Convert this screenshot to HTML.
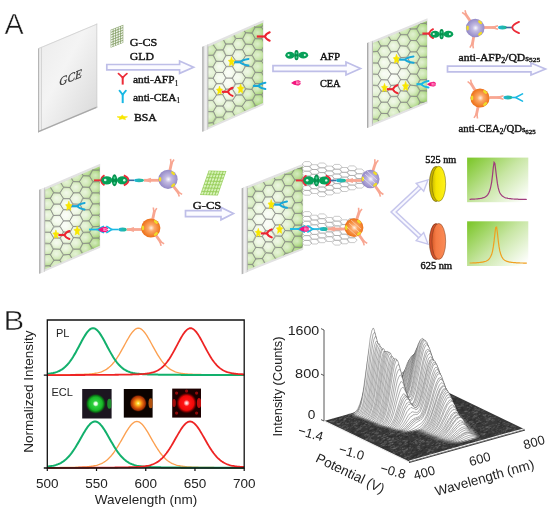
<!DOCTYPE html>
<html><head><meta charset="utf-8"><title>Figure</title>
<style>html,body{margin:0;padding:0;background:#fff;} svg{display:block;}</style></head>
<body><svg width="550" height="510" viewBox="0 0 550 510">
<defs>
<linearGradient id="gceFace" x1="0" y1="0" x2="1" y2="1">
 <stop offset="0" stop-color="#ededed"/><stop offset="0.4" stop-color="#f4f4f4"/><stop offset="1" stop-color="#dcdcdc"/>
</linearGradient>
<linearGradient id="edgeL" x1="0" y1="0" x2="1" y2="0">
 <stop offset="0" stop-color="#8a8a8a"/><stop offset="0.2" stop-color="#cdcdcd"/><stop offset="0.45" stop-color="#f2f2f2"/><stop offset="0.8" stop-color="#e8e8e8"/><stop offset="1" stop-color="#bcbcbc"/>
</linearGradient>
<radialGradient id="greenFace" cx="0.38" cy="0.5" r="0.75" fx="0.35" fy="0.5">
 <stop offset="0" stop-color="#f6fbf0"/><stop offset="0.35" stop-color="#e2f1d2"/><stop offset="0.7" stop-color="#bfe09c"/><stop offset="1" stop-color="#96cc62"/>
</radialGradient>
<radialGradient id="cellG" cx="0.45" cy="0.45" r="0.55">
 <stop offset="0" stop-color="#ffffff" stop-opacity="0.95"/><stop offset="0.5" stop-color="#ffffff" stop-opacity="0.55"/><stop offset="1" stop-color="#ffffff" stop-opacity="0"/>
</radialGradient>
<radialGradient id="qdP" cx="0.52" cy="0.5" r="0.55">
 <stop offset="0" stop-color="#fafaff"/><stop offset="0.3" stop-color="#c4bce2"/><stop offset="0.8" stop-color="#9c92cc"/><stop offset="1" stop-color="#8a80c0"/>
</radialGradient>
<radialGradient id="qdO" cx="0.52" cy="0.5" r="0.55">
 <stop offset="0" stop-color="#fff0e0"/><stop offset="0.3" stop-color="#fca868"/><stop offset="0.8" stop-color="#f07a24"/><stop offset="1" stop-color="#e86818"/>
</radialGradient>
<linearGradient id="specG" x1="0" y1="0.1" x2="1" y2="0.9">
 <stop offset="0" stop-color="#80c830"/><stop offset="0.5" stop-color="#c8e6a4"/><stop offset="1" stop-color="#ffffff"/>
</linearGradient>
<linearGradient id="tealG" x1="0" y1="0" x2="1" y2="0">
 <stop offset="0" stop-color="#20b4d8"/><stop offset="1" stop-color="#20b890"/>
</linearGradient>
<linearGradient id="yelF" x1="0" y1="0" x2="1" y2="0">
 <stop offset="0" stop-color="#c8b800"/><stop offset="0.3" stop-color="#f4e400"/><stop offset="1" stop-color="#fff21c"/>
</linearGradient>
<linearGradient id="orF" x1="0" y1="0" x2="1" y2="0">
 <stop offset="0" stop-color="#d85a28"/><stop offset="0.3" stop-color="#f47a44"/><stop offset="1" stop-color="#fb8c58"/>
</linearGradient>

<radialGradient id="insG" cx="0.46" cy="0.5" r="0.5">
 <stop offset="0" stop-color="#ffffff"/><stop offset="0.1" stop-color="#e0ffe0"/><stop offset="0.2" stop-color="#30d040"/><stop offset="0.45" stop-color="#18b828"/><stop offset="0.58" stop-color="#0a6a14"/><stop offset="0.7" stop-color="#1c1620" stop-opacity="0"/>
</radialGradient>
<radialGradient id="insO" cx="0.5" cy="0.5" r="0.5">
 <stop offset="0" stop-color="#ffffc0"/><stop offset="0.1" stop-color="#ffd830"/><stop offset="0.26" stop-color="#f08010"/><stop offset="0.4" stop-color="#c84a08"/><stop offset="0.5" stop-color="#a03004"/><stop offset="0.62" stop-color="#100400" stop-opacity="0"/>
</radialGradient>
<radialGradient id="insR" cx="0.5" cy="0.5" r="0.5">
 <stop offset="0" stop-color="#ffffff"/><stop offset="0.1" stop-color="#ffb0b0"/><stop offset="0.22" stop-color="#ff1414"/><stop offset="0.5" stop-color="#f00808"/><stop offset="0.62" stop-color="#700000"/><stop offset="0.75" stop-color="#200000" stop-opacity="0"/>
</radialGradient>
</defs>
<rect width="550" height="510" fill="#fff"/>
<text x="4.4" y="33.5" style="font-family:'Liberation Sans',sans-serif;font-size:29.5px" fill="#1a1a1a" stroke="#fff" stroke-width="0.55" textLength="19.2" lengthAdjust="spacingAndGlyphs">A</text>
<text x="3.4" y="330" style="font-family:'Liberation Sans',sans-serif;font-size:28.5px" fill="#1a1a1a" stroke="#fff" stroke-width="0.55" textLength="20.8" lengthAdjust="spacingAndGlyphs">B</text>
<path d="M106.8,64.5 L179.6,64.5 L179.6,61 L193.6,67.2 L179.6,73.4 L179.6,69.9 L106.8,69.9Z" fill="#fbfbff" stroke="#bebee8" stroke-width="1.7" stroke-linejoin="miter"/>
<path d="M273,65.6 L346,65.6 L346,62 L360.5,68.5 L346,75 L346,71.4 L273,71.4Z" fill="#fbfbff" stroke="#bebee8" stroke-width="1.7" stroke-linejoin="miter"/>
<path d="M447.5,66.1 L531,66.1 L531,63 L545.5,69 L531,75 L531,71.9 L447.5,71.9Z" fill="#fbfbff" stroke="#bebee8" stroke-width="1.7" stroke-linejoin="miter"/>
<path d="M185.5,210.6 L221,210.6 L221,207.4 L233.5,213.6 L221,219.8 L221,216.6 L185.5,216.6Z" fill="#fbfbff" stroke="#bebee8" stroke-width="1.7" stroke-linejoin="miter"/>
<g transform="matrix(1,-0.42,0,1,38.2,48.3)">
<rect x="0" y="0" width="59" height="84.2" fill="url(#gceFace)"/>
<rect x="0" y="0" width="3.6" height="84.2" fill="url(#edgeL)"/>
<rect x="0" y="82.8" width="59" height="1.4" fill="#a8a8a8"/>
<rect x="0" y="0" width="59" height="0.9" fill="#d4d4d4"/>
<rect x="58.2" y="0" width="0.8" height="84.2" fill="#d0d0d0"/>
</g>
<text transform="matrix(1,-0.4,0,1,70.6,81.4)" text-anchor="middle" style="font-family:'Liberation Serif',serif;font-style:italic;font-size:12px" fill="#404040" stroke="#404040" stroke-width="0.3" textLength="22.5" lengthAdjust="spacingAndGlyphs">GCE</text>
<g transform="matrix(1,-0.44,0,1,202.5,46.8)">
<rect x="0" y="0" width="61" height="85" fill="#e2e2e2"/>
<rect x="5.6" y="2.6" width="54.8" height="80.2" fill="url(#greenFace)"/>
</g>
<clipPath id="p2c"><path d="M208.1,46.9 L262.9,22.8 L262.9,103 L208.1,127.1Z"/></clipPath>
<g clip-path="url(#p2c)">
<path d="M216.2,38.2 L212.9,43.8 L206.2,44.1 L203.3,38.5 L206.2,32.6 L213.4,33Z" fill="url(#cellG)" opacity="0.59"/><path d="M216.6,49.4 L213,55.2 L206.6,55.5 L203.6,49.9 L206.7,43.9 L212.7,44.6Z" fill="url(#cellG)" opacity="0.62"/><path d="M216.1,61.1 L212.9,66.8 L206.3,66.8 L203.7,61.2 L207,55.3 L213.2,55.2Z" fill="url(#cellG)" opacity="0.66"/><path d="M215.9,72.5 L213.2,78.3 L206.8,77.9 L203.3,72.6 L206.5,66.7 L213.1,67.1Z" fill="url(#cellG)" opacity="0.7"/><path d="M216.8,83.4 L213.1,88.7 L206.4,88.8 L203.8,83.3 L206.6,78.4 L212.9,78.2Z" fill="url(#cellG)" opacity="0.71"/><path d="M216.7,95.1 L212.9,100.2 L206.9,100.3 L203.3,94.6 L206.7,89.1 L212.8,89.4Z" fill="url(#cellG)" opacity="0.69"/><path d="M216.7,106.2 L213.1,111.8 L207,111.7 L203.4,106 L206.3,100.7 L212.6,100.5Z" fill="url(#cellG)" opacity="0.65"/><path d="M216,117 L212.6,122.4 L206.3,123.2 L203,117.2 L206.5,111.5 L213.5,111.6Z" fill="url(#cellG)" opacity="0.61"/><path d="M215.9,128.3 L212.8,134.4 L206.3,134.4 L203.1,128.6 L206.8,123.6 L213.3,122.7Z" fill="url(#cellG)" opacity="0.58"/><path d="M225.7,33.1 L223,38.4 L216.7,38.7 L213.2,33.2 L216.1,27.2 L222.4,27Z" fill="url(#cellG)" opacity="0.61"/><path d="M225.7,44.3 L222.9,50.3 L216.6,49.9 L213.1,43.9 L216.5,39.1 L222.9,38.6Z" fill="url(#cellG)" opacity="0.66"/><path d="M225.8,55.6 L223.1,61.4 L216.1,61.2 L213.5,55.8 L216.3,50.3 L222.6,49.5Z" fill="url(#cellG)" opacity="0.73"/><path d="M226.2,66.9 L223,72.5 L216.2,72.4 L212.9,67.1 L216.3,61.4 L223.1,61.4Z" fill="url(#cellG)" opacity="0.79"/><path d="M225.7,77.8 L222.8,83.2 L216.1,83.8 L213.2,78 L216.2,72.5 L222.8,72.4Z" fill="url(#cellG)" opacity="0.82"/><path d="M225.7,89 L222.9,94.3 L216.5,94.8 L213.2,89.2 L216,83.6 L222.5,84Z" fill="url(#cellG)" opacity="0.79"/><path d="M226.1,100.7 L222.9,106.3 L216.4,106.2 L213.2,100.4 L216.4,95 L222.7,94.7Z" fill="url(#cellG)" opacity="0.73"/><path d="M226.5,111.4 L222.6,116.8 L216.1,117.3 L213.3,111.4 L216.4,105.8 L223.3,105.8Z" fill="url(#cellG)" opacity="0.66"/><path d="M226.2,123 L223.2,128.5 L216.4,128.4 L213.2,123.2 L216.5,117.6 L222.5,117.7Z" fill="url(#cellG)" opacity="0.6"/><path d="M235.4,38.9 L233,43.9 L225.8,44.2 L222.7,38.5 L226.3,32.6 L232.8,33.2Z" fill="url(#cellG)" opacity="0.67"/><path d="M235.5,49.4 L232.5,55.1 L226.1,55.8 L223.4,49.5 L226,43.9 L232.9,44Z" fill="url(#cellG)" opacity="0.74"/><path d="M235.6,60.8 L232.2,66.1 L226,66.3 L222.6,61.1 L226.1,55.2 L232.1,55.8Z" fill="url(#cellG)" opacity="0.81"/><path d="M235.5,72.3 L232.3,78.3 L226.1,78.1 L222.9,72.5 L225.9,66.8 L232.7,66.6Z" fill="url(#cellG)" opacity="0.85"/><path d="M235.3,83.3 L232.6,88.8 L225.9,89.3 L222.8,83.4 L226,78.1 L232.4,78Z" fill="url(#cellG)" opacity="0.82"/><path d="M236.4,94.9 L232.8,100.1 L225.7,100.2 L222.9,94.6 L225.7,89.1 L232.4,89.1Z" fill="url(#cellG)" opacity="0.76"/><path d="M235.4,105.9 L232.6,111.9 L226.2,112 L222.8,106.5 L226.4,100.8 L232.7,101Z" fill="url(#cellG)" opacity="0.68"/><path d="M236,117.6 L232.5,122.8 L226.3,123.3 L223.2,117.5 L225.8,111.3 L232.3,111.6Z" fill="url(#cellG)" opacity="0.62"/><path d="M245.7,33 L242.5,38.5 L236.2,38.5 L232.7,33 L236.2,27.3 L242,27.7Z" fill="url(#cellG)" opacity="0.63"/><path d="M245.5,44.6 L242.2,49.7 L236,49.9 L232.2,43.9 L236.1,38.6 L241.9,38.2Z" fill="url(#cellG)" opacity="0.68"/><path d="M245.5,55.6 L242.2,61.1 L235.8,60.7 L232.2,55.8 L235.4,49.6 L242.7,49.7Z" fill="url(#cellG)" opacity="0.74"/><path d="M245.2,67 L242.3,71.8 L236.2,72 L232.5,67 L235.6,61.3 L241.9,60.7Z" fill="url(#cellG)" opacity="0.76"/><path d="M245.5,77.8 L242.1,83.2 L235.4,83.9 L232.2,78.3 L236.1,72.1 L242.2,72.8Z" fill="url(#cellG)" opacity="0.75"/><path d="M245.4,89.1 L241.9,94.4 L235.6,95.3 L232.6,89.2 L235.8,84.1 L242.6,83.6Z" fill="url(#cellG)" opacity="0.71"/><path d="M246.1,100.5 L242,106.3 L236.1,106.1 L232.4,100.8 L235.9,94.9 L242.4,95.4Z" fill="url(#cellG)" opacity="0.65"/><path d="M245.5,111.6 L242.2,117.1 L235.7,117.5 L232.4,112 L235.7,105.6 L241.9,106.2Z" fill="url(#cellG)" opacity="0.6"/><path d="M254.8,27.1 L252.4,33.1 L245.6,32.8 L242.3,26.9 L246,21.5 L252.1,22Z" fill="url(#cellG)" opacity="0.58"/><path d="M254.9,38.3 L252,44.4 L245.8,43.9 L242.8,38.9 L245.7,32.6 L252.4,33.3Z" fill="url(#cellG)" opacity="0.61"/><path d="M255.8,49.6 L251.7,55.2 L245.9,55.6 L242.5,49.8 L245.2,44.4 L252.3,44.5Z" fill="url(#cellG)" opacity="0.64"/><path d="M254.9,60.9 L252.2,66.4 L245.7,66.5 L242.2,61.1 L245.6,55.7 L252.3,55.6Z" fill="url(#cellG)" opacity="0.65"/><path d="M255,72.1 L252.3,77.9 L245.7,77.8 L242.2,72.5 L245.3,66.2 L251.9,67Z" fill="url(#cellG)" opacity="0.65"/><path d="M255.3,83.8 L251.8,89.5 L245.9,88.8 L242.7,83.4 L245.5,77.5 L251.9,78.3Z" fill="url(#cellG)" opacity="0.63"/><path d="M255.2,94.7 L252.3,100 L245.4,100.1 L242.5,95 L245.8,88.9 L252.3,89.6Z" fill="url(#cellG)" opacity="0.6"/><path d="M255.1,106 L251.9,111.3 L245.6,111.3 L241.9,106.5 L245.6,100.9 L252.1,100Z" fill="url(#cellG)" opacity="0.58"/><path d="M255.1,117.7 L251.9,123.1 L245.7,123 L241.9,117 L246.1,111.8 L252.4,111.5Z" fill="url(#cellG)" opacity="0.56"/><path d="M265.3,21.7 L261.9,27 L255,27.3 L252,22 L255.3,16.3 L262.3,15.8Z" fill="url(#cellG)" opacity="0.56"/><path d="M264.8,32.9 L261.6,38.9 L255.6,38.8 L251.9,32.8 L255.6,27.1 L261.9,27.3Z" fill="url(#cellG)" opacity="0.57"/><path d="M264.4,44.2 L262.1,50 L255,49.6 L252.3,44.3 L255.2,38.6 L262,38.7Z" fill="url(#cellG)" opacity="0.58"/><path d="M265.3,55.1 L261.7,61.2 L255.6,60.7 L252.1,55.2 L255.3,49.5 L262.2,49.9Z" fill="url(#cellG)" opacity="0.58"/><path d="M265.1,66.8 L261.6,72.5 L255.5,72.7 L252.2,66.4 L255.8,61.3 L261.8,61.2Z" fill="url(#cellG)" opacity="0.58"/><path d="M264.8,78.2 L261.6,83.8 L255.1,83.5 L252.1,77.7 L255.5,72.1 L261.5,72.7Z" fill="url(#cellG)" opacity="0.57"/><path d="M264.7,89 L261.9,94.6 L255.4,94.6 L251.7,88.9 L255.2,83.4 L262.1,83.6Z" fill="url(#cellG)" opacity="0.57"/><path d="M264.9,100.4 L262.3,106.1 L255.6,105.7 L252.7,100.4 L255.2,95.1 L261.5,94.5Z" fill="url(#cellG)" opacity="0.56"/><path d="M265.1,112 L261.8,117 L255.1,117.1 L252.5,111.4 L255.6,106.5 L261.4,106.6Z" fill="url(#cellG)" opacity="0.55"/><path d="M275,15.7 L271.6,22.1 L265.3,21.4 L261.5,15.9 L265.3,10 L271.4,10.6Z" fill="url(#cellG)" opacity="0.55"/><path d="M274.4,27.1 L271.9,32.6 L265.3,32.5 L261.4,27.4 L265.2,21.5 L271.6,21.7Z" fill="url(#cellG)" opacity="0.55"/><path d="M274.8,38.5 L271.5,43.9 L265.4,44.2 L261.7,38.5 L264.9,33.1 L271.4,33.2Z" fill="url(#cellG)" opacity="0.56"/><path d="M274.6,49.5 L271.8,55.5 L265.2,55.1 L261.4,50.1 L265.2,44.3 L271.8,44.4Z" fill="url(#cellG)" opacity="0.56"/><path d="M275.3,60.8 L272,66.4 L265.4,66.3 L261.5,61.3 L265.2,56 L271.3,55.6Z" fill="url(#cellG)" opacity="0.56"/><path d="M274.3,72.1 L271.8,77.9 L264.7,78.3 L262.1,72.4 L265.4,66.9 L271.9,66.4Z" fill="url(#cellG)" opacity="0.56"/><path d="M275.1,83.5 L271.4,89.7 L265,89.4 L261.7,83.8 L265.5,78 L272,78Z" fill="url(#cellG)" opacity="0.55"/><path d="M274.7,94.4 L271.1,100.3 L265.1,100.7 L261.9,95 L264.8,89.4 L271.3,89.2Z" fill="url(#cellG)" opacity="0.55"/><path d="M274.9,105.9 L271.6,111.4 L264.8,111.6 L262.2,106.4 L265,100.2 L271.5,100.8Z" fill="url(#cellG)" opacity="0.55"/>
<path d="M216.2,38.2 L212.9,43.8 L206.2,44.1 L203.3,38.5 L206.2,32.6 L213.4,33ZM216.6,49.4 L213,55.2 L206.6,55.5 L203.6,49.9 L206.7,43.9 L212.7,44.6ZM216.1,61.1 L212.9,66.8 L206.3,66.8 L203.7,61.2 L207,55.3 L213.2,55.2ZM215.9,72.5 L213.2,78.3 L206.8,77.9 L203.3,72.6 L206.5,66.7 L213.1,67.1ZM216.8,83.4 L213.1,88.7 L206.4,88.8 L203.8,83.3 L206.6,78.4 L212.9,78.2ZM216.7,95.1 L212.9,100.2 L206.9,100.3 L203.3,94.6 L206.7,89.1 L212.8,89.4ZM216.7,106.2 L213.1,111.8 L207,111.7 L203.4,106 L206.3,100.7 L212.6,100.5ZM216,117 L212.6,122.4 L206.3,123.2 L203,117.2 L206.5,111.5 L213.5,111.6ZM215.9,128.3 L212.8,134.4 L206.3,134.4 L203.1,128.6 L206.8,123.6 L213.3,122.7ZM225.7,33.1 L223,38.4 L216.7,38.7 L213.2,33.2 L216.1,27.2 L222.4,27ZM225.7,44.3 L222.9,50.3 L216.6,49.9 L213.1,43.9 L216.5,39.1 L222.9,38.6ZM225.8,55.6 L223.1,61.4 L216.1,61.2 L213.5,55.8 L216.3,50.3 L222.6,49.5ZM226.2,66.9 L223,72.5 L216.2,72.4 L212.9,67.1 L216.3,61.4 L223.1,61.4ZM225.7,77.8 L222.8,83.2 L216.1,83.8 L213.2,78 L216.2,72.5 L222.8,72.4ZM225.7,89 L222.9,94.3 L216.5,94.8 L213.2,89.2 L216,83.6 L222.5,84ZM226.1,100.7 L222.9,106.3 L216.4,106.2 L213.2,100.4 L216.4,95 L222.7,94.7ZM226.5,111.4 L222.6,116.8 L216.1,117.3 L213.3,111.4 L216.4,105.8 L223.3,105.8ZM226.2,123 L223.2,128.5 L216.4,128.4 L213.2,123.2 L216.5,117.6 L222.5,117.7ZM235.4,38.9 L233,43.9 L225.8,44.2 L222.7,38.5 L226.3,32.6 L232.8,33.2ZM235.5,49.4 L232.5,55.1 L226.1,55.8 L223.4,49.5 L226,43.9 L232.9,44ZM235.6,60.8 L232.2,66.1 L226,66.3 L222.6,61.1 L226.1,55.2 L232.1,55.8ZM235.5,72.3 L232.3,78.3 L226.1,78.1 L222.9,72.5 L225.9,66.8 L232.7,66.6ZM235.3,83.3 L232.6,88.8 L225.9,89.3 L222.8,83.4 L226,78.1 L232.4,78ZM236.4,94.9 L232.8,100.1 L225.7,100.2 L222.9,94.6 L225.7,89.1 L232.4,89.1ZM235.4,105.9 L232.6,111.9 L226.2,112 L222.8,106.5 L226.4,100.8 L232.7,101ZM236,117.6 L232.5,122.8 L226.3,123.3 L223.2,117.5 L225.8,111.3 L232.3,111.6ZM245.7,33 L242.5,38.5 L236.2,38.5 L232.7,33 L236.2,27.3 L242,27.7ZM245.5,44.6 L242.2,49.7 L236,49.9 L232.2,43.9 L236.1,38.6 L241.9,38.2ZM245.5,55.6 L242.2,61.1 L235.8,60.7 L232.2,55.8 L235.4,49.6 L242.7,49.7ZM245.2,67 L242.3,71.8 L236.2,72 L232.5,67 L235.6,61.3 L241.9,60.7ZM245.5,77.8 L242.1,83.2 L235.4,83.9 L232.2,78.3 L236.1,72.1 L242.2,72.8ZM245.4,89.1 L241.9,94.4 L235.6,95.3 L232.6,89.2 L235.8,84.1 L242.6,83.6ZM246.1,100.5 L242,106.3 L236.1,106.1 L232.4,100.8 L235.9,94.9 L242.4,95.4ZM245.5,111.6 L242.2,117.1 L235.7,117.5 L232.4,112 L235.7,105.6 L241.9,106.2ZM254.8,27.1 L252.4,33.1 L245.6,32.8 L242.3,26.9 L246,21.5 L252.1,22ZM254.9,38.3 L252,44.4 L245.8,43.9 L242.8,38.9 L245.7,32.6 L252.4,33.3ZM255.8,49.6 L251.7,55.2 L245.9,55.6 L242.5,49.8 L245.2,44.4 L252.3,44.5ZM254.9,60.9 L252.2,66.4 L245.7,66.5 L242.2,61.1 L245.6,55.7 L252.3,55.6ZM255,72.1 L252.3,77.9 L245.7,77.8 L242.2,72.5 L245.3,66.2 L251.9,67ZM255.3,83.8 L251.8,89.5 L245.9,88.8 L242.7,83.4 L245.5,77.5 L251.9,78.3ZM255.2,94.7 L252.3,100 L245.4,100.1 L242.5,95 L245.8,88.9 L252.3,89.6ZM255.1,106 L251.9,111.3 L245.6,111.3 L241.9,106.5 L245.6,100.9 L252.1,100ZM255.1,117.7 L251.9,123.1 L245.7,123 L241.9,117 L246.1,111.8 L252.4,111.5ZM265.3,21.7 L261.9,27 L255,27.3 L252,22 L255.3,16.3 L262.3,15.8ZM264.8,32.9 L261.6,38.9 L255.6,38.8 L251.9,32.8 L255.6,27.1 L261.9,27.3ZM264.4,44.2 L262.1,50 L255,49.6 L252.3,44.3 L255.2,38.6 L262,38.7ZM265.3,55.1 L261.7,61.2 L255.6,60.7 L252.1,55.2 L255.3,49.5 L262.2,49.9ZM265.1,66.8 L261.6,72.5 L255.5,72.7 L252.2,66.4 L255.8,61.3 L261.8,61.2ZM264.8,78.2 L261.6,83.8 L255.1,83.5 L252.1,77.7 L255.5,72.1 L261.5,72.7ZM264.7,89 L261.9,94.6 L255.4,94.6 L251.7,88.9 L255.2,83.4 L262.1,83.6ZM264.9,100.4 L262.3,106.1 L255.6,105.7 L252.7,100.4 L255.2,95.1 L261.5,94.5ZM265.1,112 L261.8,117 L255.1,117.1 L252.5,111.4 L255.6,106.5 L261.4,106.6ZM275,15.7 L271.6,22.1 L265.3,21.4 L261.5,15.9 L265.3,10 L271.4,10.6ZM274.4,27.1 L271.9,32.6 L265.3,32.5 L261.4,27.4 L265.2,21.5 L271.6,21.7ZM274.8,38.5 L271.5,43.9 L265.4,44.2 L261.7,38.5 L264.9,33.1 L271.4,33.2ZM274.6,49.5 L271.8,55.5 L265.2,55.1 L261.4,50.1 L265.2,44.3 L271.8,44.4ZM275.3,60.8 L272,66.4 L265.4,66.3 L261.5,61.3 L265.2,56 L271.3,55.6ZM274.3,72.1 L271.8,77.9 L264.7,78.3 L262.1,72.4 L265.4,66.9 L271.9,66.4ZM275.1,83.5 L271.4,89.7 L265,89.4 L261.7,83.8 L265.5,78 L272,78ZM274.7,94.4 L271.1,100.3 L265.1,100.7 L261.9,95 L264.8,89.4 L271.3,89.2ZM274.9,105.9 L271.6,111.4 L264.8,111.6 L262.2,106.4 L265,100.2 L271.5,100.8Z" fill="none" stroke="#858585" stroke-width="0.6"/>
</g>
<g transform="matrix(1,-0.44,0,1,202.5,46.8)">
<rect x="0" y="0" width="5.6" height="85" fill="url(#edgeL)"/>
<rect x="5.2" y="2" width="0.6" height="81" fill="#b0b0b0"/>
</g>
<g transform="matrix(1,-0.41,0,1,367.2,43)">
<rect x="0" y="0" width="60.3" height="85" fill="#e2e2e2"/>
<rect x="5.6" y="2.6" width="54.1" height="80.2" fill="url(#greenFace)"/>
</g>
<clipPath id="p3c"><path d="M372.8,43.3 L426.9,21 L426.9,101.2 L372.8,123.5Z"/></clipPath>
<g clip-path="url(#p3c)">
<path d="M381,35.1 L377.6,40.7 L371.5,40 L367.9,35 L371.5,29.7 L377.4,29.4Z" fill="url(#cellG)" opacity="0.59"/><path d="M381.1,46.3 L377.5,51.3 L371.8,51.6 L367.6,46.3 L371.2,40.5 L377.5,40.1Z" fill="url(#cellG)" opacity="0.62"/><path d="M380.5,57.1 L378,63.2 L371.1,63 L368.4,57.3 L371.5,52.2 L378,51.4Z" fill="url(#cellG)" opacity="0.66"/><path d="M380.6,68.7 L378.1,74.2 L371.1,74.1 L368,68.7 L371.7,62.8 L378,63.1Z" fill="url(#cellG)" opacity="0.7"/><path d="M381.1,79.8 L377.5,85.4 L371.8,84.9 L368,80.1 L371.1,73.9 L377.8,74.5Z" fill="url(#cellG)" opacity="0.71"/><path d="M381.3,90.7 L377.7,96.9 L371.6,96.4 L368.3,91.4 L371.2,85.3 L377.9,85.9Z" fill="url(#cellG)" opacity="0.69"/><path d="M381.3,102.4 L377.4,107.4 L371,107.8 L367.8,102.1 L371.6,96.7 L378.1,96.8Z" fill="url(#cellG)" opacity="0.65"/><path d="M381.3,113.2 L377.7,119.3 L371.5,119.1 L368.6,113.2 L371,107.4 L377.9,108.5Z" fill="url(#cellG)" opacity="0.61"/><path d="M380.7,124.8 L377.6,130.5 L371.6,130.1 L367.7,124.6 L371.3,118.8 L377.5,119.4Z" fill="url(#cellG)" opacity="0.58"/><path d="M391.1,40.5 L387.4,45.8 L380.7,46.4 L377.9,40.2 L381,34.5 L387.4,34.6Z" fill="url(#cellG)" opacity="0.66"/><path d="M391,51.8 L387.4,57.1 L381.4,57.2 L377.5,51.6 L381.1,45.6 L387.8,45.9Z" fill="url(#cellG)" opacity="0.73"/><path d="M390.4,63.1 L387.3,68.3 L381,68.4 L377.9,62.6 L381.1,56.8 L387.3,57Z" fill="url(#cellG)" opacity="0.79"/><path d="M391.2,74.3 L387.3,79.8 L381,79.5 L378,74.4 L381,68.6 L387.2,68.7Z" fill="url(#cellG)" opacity="0.82"/><path d="M390.9,85.7 L387.6,91.1 L380.9,91.1 L377.9,85.6 L381.1,79.8 L387.4,80Z" fill="url(#cellG)" opacity="0.79"/><path d="M390.5,96.9 L387.7,102.1 L381.1,102.3 L378.1,97 L381.3,91.5 L387.5,91.5Z" fill="url(#cellG)" opacity="0.73"/><path d="M390.5,107.6 L387.9,113.6 L381.2,113.3 L377.8,108 L381,102.1 L387.4,102.3Z" fill="url(#cellG)" opacity="0.66"/><path d="M390.9,118.9 L387.5,124.6 L381.1,124.3 L377.8,119.3 L380.9,113.5 L387.9,113.5Z" fill="url(#cellG)" opacity="0.61"/><path d="M400.6,34.7 L396.9,40.4 L390.9,40.4 L387.4,35.1 L391,29.5 L397.3,28.9Z" fill="url(#cellG)" opacity="0.66"/><path d="M400.2,46.3 L397.5,51.3 L390.7,51.5 L387.4,46.2 L390.7,40.4 L397.2,40.5Z" fill="url(#cellG)" opacity="0.74"/><path d="M400.5,57.6 L397,63.3 L391,62.7 L387.5,56.9 L391.3,52 L396.9,51.5Z" fill="url(#cellG)" opacity="0.81"/><path d="M400.6,68.4 L397.5,74.2 L391.2,74 L387.6,68.8 L391,62.6 L397.3,63.1Z" fill="url(#cellG)" opacity="0.84"/><path d="M400.8,79.8 L397,85 L390.5,85.3 L387.8,79.8 L391.1,73.8 L397.3,74.1Z" fill="url(#cellG)" opacity="0.82"/><path d="M400.8,90.9 L397.6,96.2 L390.9,96.3 L387.7,91.4 L391.3,85.5 L397.6,85.1Z" fill="url(#cellG)" opacity="0.76"/><path d="M400.7,102.2 L397.3,108 L391,107.6 L387.6,102.3 L390.6,96.8 L397.2,96.6Z" fill="url(#cellG)" opacity="0.68"/><path d="M400.9,113.7 L397.2,119.1 L391,119.1 L387.1,113.7 L390.8,107.4 L396.8,107.8Z" fill="url(#cellG)" opacity="0.62"/><path d="M410.5,29.2 L407.4,34.9 L400.7,34.9 L397.5,28.9 L400.5,23.7 L406.7,23.3Z" fill="url(#cellG)" opacity="0.62"/><path d="M410.7,40.5 L407.2,46.1 L400.4,45.8 L397.3,40.3 L400.9,34.4 L406.7,34.5Z" fill="url(#cellG)" opacity="0.68"/><path d="M410.5,52 L406.6,57.1 L400.9,57.6 L397.3,51.3 L400.3,45.7 L406.5,46.4Z" fill="url(#cellG)" opacity="0.73"/><path d="M410.4,62.6 L406.8,68.2 L400.3,68.7 L397.2,63.1 L400.8,57.4 L407,57.7Z" fill="url(#cellG)" opacity="0.76"/><path d="M410.6,73.9 L407.3,79.5 L400.8,79.8 L397.4,74.3 L401,68.7 L406.8,68.8Z" fill="url(#cellG)" opacity="0.75"/><path d="M410.3,85.1 L407,91.2 L400.5,90.9 L397.6,85.6 L400.4,79.4 L407.3,79.9Z" fill="url(#cellG)" opacity="0.71"/><path d="M410.2,97 L407.2,102.2 L400.9,102.1 L397.4,97 L400.3,90.6 L406.9,91.3Z" fill="url(#cellG)" opacity="0.65"/><path d="M410.7,107.6 L407.4,113.9 L400.4,113.8 L397.4,108.3 L400.3,102.5 L406.9,102.4Z" fill="url(#cellG)" opacity="0.61"/><path d="M410.2,119.3 L407,124.6 L400.8,124.9 L397.1,119.4 L400.3,113.5 L407.4,113.4Z" fill="url(#cellG)" opacity="0.57"/><path d="M420,23.2 L416.4,29.1 L410.4,28.9 L406.8,23.1 L410.1,17.4 L417,17.6Z" fill="url(#cellG)" opacity="0.58"/><path d="M419.9,34.8 L416.3,40.5 L410.2,40.5 L407.5,34.7 L410.4,29.2 L416.7,28.6Z" fill="url(#cellG)" opacity="0.6"/><path d="M419.6,45.7 L416.7,51.7 L410.7,51.9 L407.4,45.9 L410.8,40.4 L416.9,40.8Z" fill="url(#cellG)" opacity="0.63"/><path d="M420,57.2 L417.1,63.1 L410,62.5 L407.5,57.6 L409.9,51.8 L416.9,52Z" fill="url(#cellG)" opacity="0.64"/><path d="M419.5,68.7 L417,74.1 L410.5,73.8 L407,68.2 L410.1,62.7 L416.8,62.7Z" fill="url(#cellG)" opacity="0.64"/><path d="M419.9,79.4 L416.7,85.9 L410.5,85.2 L406.8,80.1 L410.3,74 L417,74.3Z" fill="url(#cellG)" opacity="0.63"/><path d="M419.8,90.8 L416.8,96.4 L410.7,96.3 L406.9,90.9 L410.1,85 L416.6,85.8Z" fill="url(#cellG)" opacity="0.6"/><path d="M420.2,101.9 L417,107.8 L410.2,107.7 L407.2,102.7 L410.5,96.2 L417,96.5Z" fill="url(#cellG)" opacity="0.58"/><path d="M419.9,113.9 L416.9,118.8 L410,119.2 L406.9,113.5 L410,107.8 L416.4,108.4Z" fill="url(#cellG)" opacity="0.56"/><path d="M429.6,17.5 L426.5,23.2 L419.9,23.4 L417,17.9 L419.8,12.6 L426.7,12Z" fill="url(#cellG)" opacity="0.56"/><path d="M429.8,29.4 L426.6,34.5 L420,35.2 L416.7,29.4 L419.8,23.5 L426.1,23.5Z" fill="url(#cellG)" opacity="0.57"/><path d="M429.7,40.1 L426.8,46.3 L420.3,45.8 L416.4,40.7 L420,34.6 L426.6,34.4Z" fill="url(#cellG)" opacity="0.57"/><path d="M429.8,51.4 L426.2,57.3 L419.9,57.1 L416.6,51.7 L420.1,46.2 L426.7,46.4Z" fill="url(#cellG)" opacity="0.58"/><path d="M429.2,62.9 L426.3,68.2 L419.8,68.5 L416.4,62.9 L419.8,57.5 L426.5,57.1Z" fill="url(#cellG)" opacity="0.58"/><path d="M429.9,74.1 L426.9,79.8 L420,79.6 L416.9,74.5 L420.3,68.1 L426.9,68.9Z" fill="url(#cellG)" opacity="0.57"/><path d="M429.5,85.5 L426.5,90.6 L420.1,90.6 L417.4,85.6 L420.1,79.9 L426.9,79.3Z" fill="url(#cellG)" opacity="0.57"/><path d="M429.6,96.8 L426.5,102.5 L419.9,102.3 L417.3,96.5 L420.3,90.9 L426.9,91.1Z" fill="url(#cellG)" opacity="0.56"/><path d="M429.6,107.9 L426.1,113 L420.1,113.2 L416.7,108 L420.1,102.3 L426.3,102.4Z" fill="url(#cellG)" opacity="0.55"/><path d="M439.5,12.3 L436.1,17.6 L429.9,17.6 L426.2,12.1 L429.5,6.5 L436.1,7Z" fill="url(#cellG)" opacity="0.55"/><path d="M439.6,23.2 L436.5,28.8 L429.9,28.8 L426.2,23.3 L429.9,17.4 L436.1,18.1Z" fill="url(#cellG)" opacity="0.55"/><path d="M439.8,35 L436.5,40.5 L429.7,40.7 L426.8,34.4 L429.3,29.2 L436.3,29.5Z" fill="url(#cellG)" opacity="0.55"/><path d="M439.5,46.2 L436.5,51.6 L429.8,51.7 L426.6,46 L429.7,40.7 L436.4,40.2Z" fill="url(#cellG)" opacity="0.56"/><path d="M439.2,57 L436.4,62.5 L429.6,63.3 L426.8,57 L430.2,51.3 L436.2,51.9Z" fill="url(#cellG)" opacity="0.56"/><path d="M439.9,68.5 L436.4,74.3 L429.7,74.1 L426.4,68.9 L429.8,62.5 L436.2,63Z" fill="url(#cellG)" opacity="0.55"/><path d="M439.8,80.1 L436.2,85.4 L429.6,85.6 L426.2,79.6 L430,74 L436.5,74.5Z" fill="url(#cellG)" opacity="0.55"/><path d="M440,91.3 L436,96.4 L429.8,96.4 L426.9,91.1 L430.3,85.6 L436.1,85.9Z" fill="url(#cellG)" opacity="0.55"/><path d="M439.5,101.9 L436.5,107.8 L429.5,107.9 L426.4,102.4 L430.2,96.8 L435.9,96.5Z" fill="url(#cellG)" opacity="0.55"/>
<path d="M381,35.1 L377.6,40.7 L371.5,40 L367.9,35 L371.5,29.7 L377.4,29.4ZM381.1,46.3 L377.5,51.3 L371.8,51.6 L367.6,46.3 L371.2,40.5 L377.5,40.1ZM380.5,57.1 L378,63.2 L371.1,63 L368.4,57.3 L371.5,52.2 L378,51.4ZM380.6,68.7 L378.1,74.2 L371.1,74.1 L368,68.7 L371.7,62.8 L378,63.1ZM381.1,79.8 L377.5,85.4 L371.8,84.9 L368,80.1 L371.1,73.9 L377.8,74.5ZM381.3,90.7 L377.7,96.9 L371.6,96.4 L368.3,91.4 L371.2,85.3 L377.9,85.9ZM381.3,102.4 L377.4,107.4 L371,107.8 L367.8,102.1 L371.6,96.7 L378.1,96.8ZM381.3,113.2 L377.7,119.3 L371.5,119.1 L368.6,113.2 L371,107.4 L377.9,108.5ZM380.7,124.8 L377.6,130.5 L371.6,130.1 L367.7,124.6 L371.3,118.8 L377.5,119.4ZM391.1,40.5 L387.4,45.8 L380.7,46.4 L377.9,40.2 L381,34.5 L387.4,34.6ZM391,51.8 L387.4,57.1 L381.4,57.2 L377.5,51.6 L381.1,45.6 L387.8,45.9ZM390.4,63.1 L387.3,68.3 L381,68.4 L377.9,62.6 L381.1,56.8 L387.3,57ZM391.2,74.3 L387.3,79.8 L381,79.5 L378,74.4 L381,68.6 L387.2,68.7ZM390.9,85.7 L387.6,91.1 L380.9,91.1 L377.9,85.6 L381.1,79.8 L387.4,80ZM390.5,96.9 L387.7,102.1 L381.1,102.3 L378.1,97 L381.3,91.5 L387.5,91.5ZM390.5,107.6 L387.9,113.6 L381.2,113.3 L377.8,108 L381,102.1 L387.4,102.3ZM390.9,118.9 L387.5,124.6 L381.1,124.3 L377.8,119.3 L380.9,113.5 L387.9,113.5ZM400.6,34.7 L396.9,40.4 L390.9,40.4 L387.4,35.1 L391,29.5 L397.3,28.9ZM400.2,46.3 L397.5,51.3 L390.7,51.5 L387.4,46.2 L390.7,40.4 L397.2,40.5ZM400.5,57.6 L397,63.3 L391,62.7 L387.5,56.9 L391.3,52 L396.9,51.5ZM400.6,68.4 L397.5,74.2 L391.2,74 L387.6,68.8 L391,62.6 L397.3,63.1ZM400.8,79.8 L397,85 L390.5,85.3 L387.8,79.8 L391.1,73.8 L397.3,74.1ZM400.8,90.9 L397.6,96.2 L390.9,96.3 L387.7,91.4 L391.3,85.5 L397.6,85.1ZM400.7,102.2 L397.3,108 L391,107.6 L387.6,102.3 L390.6,96.8 L397.2,96.6ZM400.9,113.7 L397.2,119.1 L391,119.1 L387.1,113.7 L390.8,107.4 L396.8,107.8ZM410.5,29.2 L407.4,34.9 L400.7,34.9 L397.5,28.9 L400.5,23.7 L406.7,23.3ZM410.7,40.5 L407.2,46.1 L400.4,45.8 L397.3,40.3 L400.9,34.4 L406.7,34.5ZM410.5,52 L406.6,57.1 L400.9,57.6 L397.3,51.3 L400.3,45.7 L406.5,46.4ZM410.4,62.6 L406.8,68.2 L400.3,68.7 L397.2,63.1 L400.8,57.4 L407,57.7ZM410.6,73.9 L407.3,79.5 L400.8,79.8 L397.4,74.3 L401,68.7 L406.8,68.8ZM410.3,85.1 L407,91.2 L400.5,90.9 L397.6,85.6 L400.4,79.4 L407.3,79.9ZM410.2,97 L407.2,102.2 L400.9,102.1 L397.4,97 L400.3,90.6 L406.9,91.3ZM410.7,107.6 L407.4,113.9 L400.4,113.8 L397.4,108.3 L400.3,102.5 L406.9,102.4ZM410.2,119.3 L407,124.6 L400.8,124.9 L397.1,119.4 L400.3,113.5 L407.4,113.4ZM420,23.2 L416.4,29.1 L410.4,28.9 L406.8,23.1 L410.1,17.4 L417,17.6ZM419.9,34.8 L416.3,40.5 L410.2,40.5 L407.5,34.7 L410.4,29.2 L416.7,28.6ZM419.6,45.7 L416.7,51.7 L410.7,51.9 L407.4,45.9 L410.8,40.4 L416.9,40.8ZM420,57.2 L417.1,63.1 L410,62.5 L407.5,57.6 L409.9,51.8 L416.9,52ZM419.5,68.7 L417,74.1 L410.5,73.8 L407,68.2 L410.1,62.7 L416.8,62.7ZM419.9,79.4 L416.7,85.9 L410.5,85.2 L406.8,80.1 L410.3,74 L417,74.3ZM419.8,90.8 L416.8,96.4 L410.7,96.3 L406.9,90.9 L410.1,85 L416.6,85.8ZM420.2,101.9 L417,107.8 L410.2,107.7 L407.2,102.7 L410.5,96.2 L417,96.5ZM419.9,113.9 L416.9,118.8 L410,119.2 L406.9,113.5 L410,107.8 L416.4,108.4ZM429.6,17.5 L426.5,23.2 L419.9,23.4 L417,17.9 L419.8,12.6 L426.7,12ZM429.8,29.4 L426.6,34.5 L420,35.2 L416.7,29.4 L419.8,23.5 L426.1,23.5ZM429.7,40.1 L426.8,46.3 L420.3,45.8 L416.4,40.7 L420,34.6 L426.6,34.4ZM429.8,51.4 L426.2,57.3 L419.9,57.1 L416.6,51.7 L420.1,46.2 L426.7,46.4ZM429.2,62.9 L426.3,68.2 L419.8,68.5 L416.4,62.9 L419.8,57.5 L426.5,57.1ZM429.9,74.1 L426.9,79.8 L420,79.6 L416.9,74.5 L420.3,68.1 L426.9,68.9ZM429.5,85.5 L426.5,90.6 L420.1,90.6 L417.4,85.6 L420.1,79.9 L426.9,79.3ZM429.6,96.8 L426.5,102.5 L419.9,102.3 L417.3,96.5 L420.3,90.9 L426.9,91.1ZM429.6,107.9 L426.1,113 L420.1,113.2 L416.7,108 L420.1,102.3 L426.3,102.4ZM439.5,12.3 L436.1,17.6 L429.9,17.6 L426.2,12.1 L429.5,6.5 L436.1,7ZM439.6,23.2 L436.5,28.8 L429.9,28.8 L426.2,23.3 L429.9,17.4 L436.1,18.1ZM439.8,35 L436.5,40.5 L429.7,40.7 L426.8,34.4 L429.3,29.2 L436.3,29.5ZM439.5,46.2 L436.5,51.6 L429.8,51.7 L426.6,46 L429.7,40.7 L436.4,40.2ZM439.2,57 L436.4,62.5 L429.6,63.3 L426.8,57 L430.2,51.3 L436.2,51.9ZM439.9,68.5 L436.4,74.3 L429.7,74.1 L426.4,68.9 L429.8,62.5 L436.2,63ZM439.8,80.1 L436.2,85.4 L429.6,85.6 L426.2,79.6 L430,74 L436.5,74.5ZM440,91.3 L436,96.4 L429.8,96.4 L426.9,91.1 L430.3,85.6 L436.1,85.9ZM439.5,101.9 L436.5,107.8 L429.5,107.9 L426.4,102.4 L430.2,96.8 L435.9,96.5Z" fill="none" stroke="#858585" stroke-width="0.6"/>
</g>
<g transform="matrix(1,-0.41,0,1,367.2,43)">
<rect x="0" y="0" width="5.6" height="85" fill="url(#edgeL)"/>
<rect x="5.2" y="2" width="0.6" height="81" fill="#b0b0b0"/>
</g>
<g transform="matrix(1,-0.43,0,1,39.4,189.8)">
<rect x="0" y="0" width="60.8" height="84" fill="#e2e2e2"/>
<rect x="5.6" y="2.6" width="54.6" height="79.2" fill="url(#greenFace)"/>
</g>
<clipPath id="p4c"><path d="M45,190 L99.6,166.6 L99.6,245.8 L45,269.2Z"/></clipPath>
<g clip-path="url(#p4c)">
<path d="M53.1,181.3 L50.6,187.2 L43.5,186.9 L40.4,181.7 L43.7,175.8 L50.6,176.2Z" fill="url(#cellG)" opacity="0.59"/><path d="M53.5,192.7 L50.6,198.2 L43.8,198.7 L40.5,193.1 L43.7,187.4 L50.3,187.2Z" fill="url(#cellG)" opacity="0.62"/><path d="M53.8,204.4 L50.2,209.7 L43.9,209.8 L41,203.9 L43.9,198.4 L50.3,198.3Z" fill="url(#cellG)" opacity="0.67"/><path d="M53.4,215.2 L50,220.5 L43.7,220.8 L40.7,215.1 L44.2,209.8 L50.5,209.6Z" fill="url(#cellG)" opacity="0.7"/><path d="M53.7,226.3 L50.6,232.4 L43.9,232.2 L41.2,226.3 L43.8,220.6 L50.1,221.2Z" fill="url(#cellG)" opacity="0.71"/><path d="M53.8,237.9 L50.1,243.4 L44.3,243 L40.8,237.6 L43.8,232.3 L50.2,232.1Z" fill="url(#cellG)" opacity="0.69"/><path d="M53.1,249.4 L50.5,254.3 L43.8,254.7 L40.5,248.9 L43.7,243.8 L50.2,243.9Z" fill="url(#cellG)" opacity="0.65"/><path d="M54,260.6 L50.1,265.4 L44,265.9 L40.9,260.5 L44.3,254.8 L50.2,254.4Z" fill="url(#cellG)" opacity="0.61"/><path d="M54,271.8 L49.9,276.7 L43.9,276.9 L40.8,271.7 L44.3,266.2 L50.2,265.9Z" fill="url(#cellG)" opacity="0.58"/><path d="M63.3,175.5 L60.4,181.5 L54.1,181.4 L50.5,175.6 L53.4,170.5 L59.9,170.4Z" fill="url(#cellG)" opacity="0.61"/><path d="M63.5,187.4 L59.7,193 L54.1,192.9 L50.6,187.3 L53.3,181.8 L60.1,182Z" fill="url(#cellG)" opacity="0.67"/><path d="M63.4,198.1 L60.4,203.9 L54.1,204.1 L50.3,198.1 L53.7,192.7 L59.8,193.1Z" fill="url(#cellG)" opacity="0.74"/><path d="M63.2,209.5 L60.1,215.6 L53.6,215.5 L50.7,209.6 L53.6,204.2 L60.2,204.3Z" fill="url(#cellG)" opacity="0.8"/><path d="M63.5,221.2 L59.9,226.2 L53.4,226.2 L50.8,220.9 L53.7,215.5 L59.8,215.1Z" fill="url(#cellG)" opacity="0.82"/><path d="M63.5,232.4 L60.2,238 L53.4,237.8 L50.3,232.2 L54.2,227 L60.5,226.7Z" fill="url(#cellG)" opacity="0.79"/><path d="M63,243.2 L60.2,249.1 L53.5,249.1 L50.6,243.2 L53.9,238 L59.8,238.2Z" fill="url(#cellG)" opacity="0.73"/><path d="M63.1,254.8 L60.4,260 L53.9,260.2 L50.5,255 L53.6,248.9 L59.9,249.4Z" fill="url(#cellG)" opacity="0.66"/><path d="M63.3,265.7 L60.5,271.2 L53.8,271.1 L50,266.3 L53.8,260.2 L60.2,260.5Z" fill="url(#cellG)" opacity="0.6"/><path d="M72.9,181.5 L70.2,187.5 L63.4,186.9 L60.1,181.3 L63.4,176.1 L70.3,176Z" fill="url(#cellG)" opacity="0.67"/><path d="M73.7,192.9 L69.6,198.7 L63.3,198.5 L60,192.9 L63.4,187.6 L69.5,187.6Z" fill="url(#cellG)" opacity="0.74"/><path d="M72.7,204.2 L69.9,209.5 L63.5,209.6 L60.2,204.4 L63.1,198.8 L69.5,198.6Z" fill="url(#cellG)" opacity="0.81"/><path d="M73,215.4 L69.9,220.5 L63.5,220.6 L59.9,215.3 L63.4,209.8 L69.6,210Z" fill="url(#cellG)" opacity="0.84"/><path d="M72.9,226.8 L69.6,232.5 L63.6,231.9 L59.7,226.4 L63.1,221.1 L69.6,221.3Z" fill="url(#cellG)" opacity="0.82"/><path d="M73.4,237.9 L70,243.9 L63.1,243.8 L60.5,238 L63.1,232 L70.3,232.3Z" fill="url(#cellG)" opacity="0.75"/><path d="M72.9,248.8 L70.1,254.4 L63.5,254.7 L60.3,249.4 L63.1,243.1 L70,243.4Z" fill="url(#cellG)" opacity="0.67"/><path d="M73,260.5 L69.6,266.2 L63.6,266.2 L59.6,260.2 L63.5,255.2 L69.6,254.4Z" fill="url(#cellG)" opacity="0.61"/><path d="M83.2,175.8 L79.3,181.8 L73.5,181.5 L70.1,175.7 L73.2,169.8 L79.4,170.5Z" fill="url(#cellG)" opacity="0.63"/><path d="M82.8,187.1 L79.6,192.4 L73.3,192.9 L69.9,187.3 L73.1,181.7 L79.6,181.7Z" fill="url(#cellG)" opacity="0.68"/><path d="M83.5,198.1 L79.9,204.3 L73.2,204.2 L69.9,198.7 L73.4,192.8 L79.8,193.1Z" fill="url(#cellG)" opacity="0.73"/><path d="M83,209.6 L79.6,214.9 L73.1,215.6 L69.9,209.5 L73.1,203.9 L79.8,204.3Z" fill="url(#cellG)" opacity="0.76"/><path d="M82.9,220.8 L79.2,226.2 L73.4,226.5 L69.6,221.3 L72.8,215.1 L80,215.2Z" fill="url(#cellG)" opacity="0.75"/><path d="M82.9,232.5 L79.5,237.9 L73.1,237.3 L70,232.4 L73.2,226.5 L79.9,226.7Z" fill="url(#cellG)" opacity="0.7"/><path d="M82.9,243.8 L79.3,249.3 L73,248.9 L70.2,243.8 L73.5,237.6 L79.8,238.1Z" fill="url(#cellG)" opacity="0.64"/><path d="M82.9,254.6 L79.4,259.7 L73,260.3 L69.7,254.7 L73.7,249.4 L79.4,249Z" fill="url(#cellG)" opacity="0.6"/><path d="M92.6,170 L89,175.9 L83.3,175.6 L79.8,170.3 L83,164.5 L89.2,164.8Z" fill="url(#cellG)" opacity="0.58"/><path d="M93,181.4 L89.8,187.2 L83,187.4 L79.5,181.5 L83.1,175.8 L89.3,176Z" fill="url(#cellG)" opacity="0.61"/><path d="M92,192.5 L89.3,198.2 L83.4,198.1 L79.6,193 L82.6,186.7 L89.2,187.5Z" fill="url(#cellG)" opacity="0.63"/><path d="M92.7,203.9 L89.4,209.6 L82.5,210 L80.1,204 L82.5,198.4 L89.7,198.9Z" fill="url(#cellG)" opacity="0.65"/><path d="M92.4,215.1 L89.3,220.6 L83.2,220.9 L80.2,215.1 L82.6,210 L89.3,209.8Z" fill="url(#cellG)" opacity="0.64"/><path d="M92.6,226.4 L89.7,231.9 L83,232.2 L80,226.3 L82.7,221.1 L89.2,221.1Z" fill="url(#cellG)" opacity="0.62"/><path d="M92.7,237.5 L89.7,242.8 L82.6,243.8 L79.7,238 L82.9,232.8 L89.7,232.5Z" fill="url(#cellG)" opacity="0.6"/><path d="M92.1,249.3 L89.1,254.8 L83,254.2 L80.4,248.9 L82.5,243.3 L89.2,243.4Z" fill="url(#cellG)" opacity="0.57"/><path d="M102.2,164.8 L98.8,170.1 L93,170.1 L90,165 L92.5,158.7 L98.7,158.8Z" fill="url(#cellG)" opacity="0.56"/><path d="M102.3,176 L98.7,181.6 L92.7,181.6 L89.8,176.2 L92.6,170.1 L99.5,170.3Z" fill="url(#cellG)" opacity="0.57"/><path d="M102.2,186.9 L98.9,193.1 L92.4,193 L89.3,186.9 L93.1,182 L98.9,181.6Z" fill="url(#cellG)" opacity="0.57"/><path d="M102.4,198.5 L99.5,203.5 L92.9,204.1 L89.8,198.2 L92.9,192.7 L99.1,192.8Z" fill="url(#cellG)" opacity="0.58"/><path d="M102.5,209.5 L99.2,215.1 L92.5,215.6 L89.7,209.7 L92.5,203.8 L99.3,203.9Z" fill="url(#cellG)" opacity="0.58"/><path d="M102.6,220.7 L99.3,226.3 L92.9,226.9 L88.9,220.9 L92.9,214.9 L98.8,215.2Z" fill="url(#cellG)" opacity="0.57"/><path d="M102.5,232.2 L98.8,237.7 L92.7,238 L89.7,232.4 L92.9,226.7 L98.9,226.5Z" fill="url(#cellG)" opacity="0.57"/><path d="M102.2,243.1 L99.1,248.5 L93,248.7 L89.4,243.7 L92.9,238.4 L99,238.3Z" fill="url(#cellG)" opacity="0.56"/><path d="M102.3,254.4 L99,260.4 L92.7,260.3 L89.2,254.6 L93,248.9 L99.4,248.8Z" fill="url(#cellG)" opacity="0.55"/><path d="M112,158.7 L108.8,164.7 L102.8,164.8 L99.5,159 L102.7,153.4 L109.2,153.4Z" fill="url(#cellG)" opacity="0.55"/><path d="M112.1,170.5 L109.1,175.9 L102.7,175.7 L99.3,170 L102.2,165.1 L108.4,165.1Z" fill="url(#cellG)" opacity="0.55"/><path d="M111.8,181.7 L108.9,186.9 L102.3,187.3 L99.2,181.8 L102.4,176.1 L109.1,176Z" fill="url(#cellG)" opacity="0.55"/><path d="M111.8,192.6 L109,198.5 L102.1,198.2 L99.3,193.1 L102.3,187 L108.8,187.2Z" fill="url(#cellG)" opacity="0.56"/><path d="M112.2,204 L108.7,210.1 L102.1,209.5 L99.1,204.1 L102.3,198.8 L109,198.8Z" fill="url(#cellG)" opacity="0.56"/><path d="M112.1,215.7 L109.2,220.5 L102.6,220.5 L98.7,215.4 L102.9,209.9 L109,209.7Z" fill="url(#cellG)" opacity="0.55"/><path d="M112,226.3 L108.7,232.6 L102.2,231.7 L99.4,226.5 L102.2,221.3 L108.6,220.6Z" fill="url(#cellG)" opacity="0.55"/><path d="M111.8,238.1 L108.6,243.4 L102.5,243 L98.9,238.1 L102.8,232.8 L108.5,232.2Z" fill="url(#cellG)" opacity="0.55"/><path d="M111.9,249.1 L108.7,254.7 L102.6,254.3 L98.8,249.4 L102.7,243.3 L108.7,243.8Z" fill="url(#cellG)" opacity="0.55"/>
<path d="M53.1,181.3 L50.6,187.2 L43.5,186.9 L40.4,181.7 L43.7,175.8 L50.6,176.2ZM53.5,192.7 L50.6,198.2 L43.8,198.7 L40.5,193.1 L43.7,187.4 L50.3,187.2ZM53.8,204.4 L50.2,209.7 L43.9,209.8 L41,203.9 L43.9,198.4 L50.3,198.3ZM53.4,215.2 L50,220.5 L43.7,220.8 L40.7,215.1 L44.2,209.8 L50.5,209.6ZM53.7,226.3 L50.6,232.4 L43.9,232.2 L41.2,226.3 L43.8,220.6 L50.1,221.2ZM53.8,237.9 L50.1,243.4 L44.3,243 L40.8,237.6 L43.8,232.3 L50.2,232.1ZM53.1,249.4 L50.5,254.3 L43.8,254.7 L40.5,248.9 L43.7,243.8 L50.2,243.9ZM54,260.6 L50.1,265.4 L44,265.9 L40.9,260.5 L44.3,254.8 L50.2,254.4ZM54,271.8 L49.9,276.7 L43.9,276.9 L40.8,271.7 L44.3,266.2 L50.2,265.9ZM63.3,175.5 L60.4,181.5 L54.1,181.4 L50.5,175.6 L53.4,170.5 L59.9,170.4ZM63.5,187.4 L59.7,193 L54.1,192.9 L50.6,187.3 L53.3,181.8 L60.1,182ZM63.4,198.1 L60.4,203.9 L54.1,204.1 L50.3,198.1 L53.7,192.7 L59.8,193.1ZM63.2,209.5 L60.1,215.6 L53.6,215.5 L50.7,209.6 L53.6,204.2 L60.2,204.3ZM63.5,221.2 L59.9,226.2 L53.4,226.2 L50.8,220.9 L53.7,215.5 L59.8,215.1ZM63.5,232.4 L60.2,238 L53.4,237.8 L50.3,232.2 L54.2,227 L60.5,226.7ZM63,243.2 L60.2,249.1 L53.5,249.1 L50.6,243.2 L53.9,238 L59.8,238.2ZM63.1,254.8 L60.4,260 L53.9,260.2 L50.5,255 L53.6,248.9 L59.9,249.4ZM63.3,265.7 L60.5,271.2 L53.8,271.1 L50,266.3 L53.8,260.2 L60.2,260.5ZM72.9,181.5 L70.2,187.5 L63.4,186.9 L60.1,181.3 L63.4,176.1 L70.3,176ZM73.7,192.9 L69.6,198.7 L63.3,198.5 L60,192.9 L63.4,187.6 L69.5,187.6ZM72.7,204.2 L69.9,209.5 L63.5,209.6 L60.2,204.4 L63.1,198.8 L69.5,198.6ZM73,215.4 L69.9,220.5 L63.5,220.6 L59.9,215.3 L63.4,209.8 L69.6,210ZM72.9,226.8 L69.6,232.5 L63.6,231.9 L59.7,226.4 L63.1,221.1 L69.6,221.3ZM73.4,237.9 L70,243.9 L63.1,243.8 L60.5,238 L63.1,232 L70.3,232.3ZM72.9,248.8 L70.1,254.4 L63.5,254.7 L60.3,249.4 L63.1,243.1 L70,243.4ZM73,260.5 L69.6,266.2 L63.6,266.2 L59.6,260.2 L63.5,255.2 L69.6,254.4ZM83.2,175.8 L79.3,181.8 L73.5,181.5 L70.1,175.7 L73.2,169.8 L79.4,170.5ZM82.8,187.1 L79.6,192.4 L73.3,192.9 L69.9,187.3 L73.1,181.7 L79.6,181.7ZM83.5,198.1 L79.9,204.3 L73.2,204.2 L69.9,198.7 L73.4,192.8 L79.8,193.1ZM83,209.6 L79.6,214.9 L73.1,215.6 L69.9,209.5 L73.1,203.9 L79.8,204.3ZM82.9,220.8 L79.2,226.2 L73.4,226.5 L69.6,221.3 L72.8,215.1 L80,215.2ZM82.9,232.5 L79.5,237.9 L73.1,237.3 L70,232.4 L73.2,226.5 L79.9,226.7ZM82.9,243.8 L79.3,249.3 L73,248.9 L70.2,243.8 L73.5,237.6 L79.8,238.1ZM82.9,254.6 L79.4,259.7 L73,260.3 L69.7,254.7 L73.7,249.4 L79.4,249ZM92.6,170 L89,175.9 L83.3,175.6 L79.8,170.3 L83,164.5 L89.2,164.8ZM93,181.4 L89.8,187.2 L83,187.4 L79.5,181.5 L83.1,175.8 L89.3,176ZM92,192.5 L89.3,198.2 L83.4,198.1 L79.6,193 L82.6,186.7 L89.2,187.5ZM92.7,203.9 L89.4,209.6 L82.5,210 L80.1,204 L82.5,198.4 L89.7,198.9ZM92.4,215.1 L89.3,220.6 L83.2,220.9 L80.2,215.1 L82.6,210 L89.3,209.8ZM92.6,226.4 L89.7,231.9 L83,232.2 L80,226.3 L82.7,221.1 L89.2,221.1ZM92.7,237.5 L89.7,242.8 L82.6,243.8 L79.7,238 L82.9,232.8 L89.7,232.5ZM92.1,249.3 L89.1,254.8 L83,254.2 L80.4,248.9 L82.5,243.3 L89.2,243.4ZM102.2,164.8 L98.8,170.1 L93,170.1 L90,165 L92.5,158.7 L98.7,158.8ZM102.3,176 L98.7,181.6 L92.7,181.6 L89.8,176.2 L92.6,170.1 L99.5,170.3ZM102.2,186.9 L98.9,193.1 L92.4,193 L89.3,186.9 L93.1,182 L98.9,181.6ZM102.4,198.5 L99.5,203.5 L92.9,204.1 L89.8,198.2 L92.9,192.7 L99.1,192.8ZM102.5,209.5 L99.2,215.1 L92.5,215.6 L89.7,209.7 L92.5,203.8 L99.3,203.9ZM102.6,220.7 L99.3,226.3 L92.9,226.9 L88.9,220.9 L92.9,214.9 L98.8,215.2ZM102.5,232.2 L98.8,237.7 L92.7,238 L89.7,232.4 L92.9,226.7 L98.9,226.5ZM102.2,243.1 L99.1,248.5 L93,248.7 L89.4,243.7 L92.9,238.4 L99,238.3ZM102.3,254.4 L99,260.4 L92.7,260.3 L89.2,254.6 L93,248.9 L99.4,248.8ZM112,158.7 L108.8,164.7 L102.8,164.8 L99.5,159 L102.7,153.4 L109.2,153.4ZM112.1,170.5 L109.1,175.9 L102.7,175.7 L99.3,170 L102.2,165.1 L108.4,165.1ZM111.8,181.7 L108.9,186.9 L102.3,187.3 L99.2,181.8 L102.4,176.1 L109.1,176ZM111.8,192.6 L109,198.5 L102.1,198.2 L99.3,193.1 L102.3,187 L108.8,187.2ZM112.2,204 L108.7,210.1 L102.1,209.5 L99.1,204.1 L102.3,198.8 L109,198.8ZM112.1,215.7 L109.2,220.5 L102.6,220.5 L98.7,215.4 L102.9,209.9 L109,209.7ZM112,226.3 L108.7,232.6 L102.2,231.7 L99.4,226.5 L102.2,221.3 L108.6,220.6ZM111.8,238.1 L108.6,243.4 L102.5,243 L98.9,238.1 L102.8,232.8 L108.5,232.2ZM111.9,249.1 L108.7,254.7 L102.6,254.3 L98.8,249.4 L102.7,243.3 L108.7,243.8Z" fill="none" stroke="#858585" stroke-width="0.6"/>
</g>
<g transform="matrix(1,-0.43,0,1,39.4,189.8)">
<rect x="0" y="0" width="5.6" height="84" fill="url(#edgeL)"/>
<rect x="5.2" y="2" width="0.6" height="80" fill="#b0b0b0"/>
</g>
<g transform="matrix(1,-0.4,0,1,241.8,188.2)">
<rect x="0" y="0" width="61.4" height="86" fill="#e2e2e2"/>
<rect x="5.6" y="2.6" width="55.2" height="81.2" fill="url(#greenFace)"/>
</g>
<clipPath id="p5c"><path d="M247.4,188.6 L302.6,166.4 L302.6,247.6 L247.4,269.8Z"/></clipPath>
<g clip-path="url(#p5c)">
<path d="M255.6,179.9 L252.7,185.7 L245.9,185.1 L242.9,179.7 L245.6,174.3 L252.5,174.5Z" fill="url(#cellG)" opacity="0.59"/><path d="M255.5,191.1 L252.3,196.9 L246.4,196.5 L243.1,190.9 L246.3,185.7 L252.1,185.7Z" fill="url(#cellG)" opacity="0.62"/><path d="M255.6,202.2 L252.4,208 L245.8,207.8 L242.5,202.7 L246,196.4 L252.7,196.8Z" fill="url(#cellG)" opacity="0.66"/><path d="M255.8,213.4 L252.2,219.3 L246,219.1 L242.7,213.4 L246.4,208.3 L252.2,208.3Z" fill="url(#cellG)" opacity="0.7"/><path d="M256,225 L252.3,230.8 L246,230 L242.9,224.8 L245.6,219.3 L252.5,219.7Z" fill="url(#cellG)" opacity="0.71"/><path d="M255.5,236 L252.9,241.5 L246.2,242.1 L243.2,236.2 L245.6,230.8 L252.4,230.4Z" fill="url(#cellG)" opacity="0.69"/><path d="M255.8,247.6 L252.3,252.6 L245.9,252.8 L243,247.7 L246.1,242.2 L252.8,241.8Z" fill="url(#cellG)" opacity="0.65"/><path d="M255.7,259 L252.3,264.6 L245.8,264.6 L243,258.5 L246.3,253.4 L252.8,253.3Z" fill="url(#cellG)" opacity="0.61"/><path d="M255.7,270.3 L252.9,275.5 L246,276.1 L243.4,270.2 L246.4,264.3 L252.4,264.4Z" fill="url(#cellG)" opacity="0.58"/><path d="M265.8,185.7 L262.2,191.5 L255.9,191.6 L252.4,185.2 L256.1,179.8 L262.6,180.2Z" fill="url(#cellG)" opacity="0.66"/><path d="M265.2,196.4 L262.4,202.2 L255.8,202.3 L252.6,197.1 L255.6,190.9 L262.4,191.3Z" fill="url(#cellG)" opacity="0.73"/><path d="M265.8,207.8 L261.9,214 L255.7,213.9 L252.5,208.4 L256.1,202.4 L262.6,202.5Z" fill="url(#cellG)" opacity="0.79"/><path d="M265.5,219.6 L262.2,224.4 L256.3,224.7 L252.3,219.2 L256,214.2 L262.2,214.1Z" fill="url(#cellG)" opacity="0.82"/><path d="M265.8,230.3 L262.3,236.6 L256,236.2 L252.7,230.7 L255.7,224.7 L262,225.1Z" fill="url(#cellG)" opacity="0.79"/><path d="M265.6,241.8 L262.6,247.7 L255.4,247.4 L253.2,242.2 L256,236.5 L262.1,236.7Z" fill="url(#cellG)" opacity="0.74"/><path d="M265.4,253.3 L262.2,258.5 L255.8,259.2 L252.4,253.5 L255.9,247.3 L262.2,248Z" fill="url(#cellG)" opacity="0.67"/><path d="M265.5,264.1 L262.6,269.7 L255.5,269.9 L252.7,264.3 L256.1,258.3 L262.6,258.6Z" fill="url(#cellG)" opacity="0.61"/><path d="M275.1,179.6 L271.9,185.3 L265.3,185.5 L262.1,180.2 L265.8,174.2 L272.1,174.5Z" fill="url(#cellG)" opacity="0.66"/><path d="M275.4,191.4 L271.8,197 L265.4,196.9 L262.7,190.8 L265.5,185.4 L271.9,185.2Z" fill="url(#cellG)" opacity="0.74"/><path d="M275,202.7 L272,208.4 L265.5,208 L262.2,202.6 L265.4,197.1 L272,196.7Z" fill="url(#cellG)" opacity="0.81"/><path d="M275.3,213.5 L272.1,219.5 L265.9,219.1 L262.1,213.6 L265.9,208.3 L272,208.2Z" fill="url(#cellG)" opacity="0.84"/><path d="M275.4,225.2 L271.8,230.8 L265.5,231 L262.3,225.2 L265.8,219 L272.2,219.4Z" fill="url(#cellG)" opacity="0.83"/><path d="M274.8,236.3 L271.9,241.7 L265.3,241.8 L262.4,236.1 L265.2,230.8 L271.6,230.8Z" fill="url(#cellG)" opacity="0.77"/><path d="M274.9,247.1 L272,253.3 L266,252.5 L262.6,247.4 L265.7,241.8 L271.9,242.1Z" fill="url(#cellG)" opacity="0.69"/><path d="M275.4,258.4 L271.7,264.5 L265.2,264.4 L262.3,258.7 L265.6,253 L272.5,253.3Z" fill="url(#cellG)" opacity="0.63"/><path d="M285.1,174.7 L281.6,179.4 L275.5,180 L272,174.1 L275.2,168.5 L281.8,168.6Z" fill="url(#cellG)" opacity="0.62"/><path d="M285,185.3 L281.8,191.2 L275.4,191.7 L272.1,185.7 L275.2,179.8 L282,179.9Z" fill="url(#cellG)" opacity="0.68"/><path d="M284.7,196.6 L282.2,202.3 L275.2,202.1 L272.1,196.8 L275.1,191.2 L281.8,191.5Z" fill="url(#cellG)" opacity="0.73"/><path d="M285.4,208.1 L281.6,213.5 L275.3,213.5 L271.9,208.4 L275.6,202.8 L281.9,202.5Z" fill="url(#cellG)" opacity="0.76"/><path d="M285.4,219.1 L281.4,224.8 L275,225.1 L271.9,219 L275.3,213.3 L281.8,214.2Z" fill="url(#cellG)" opacity="0.76"/><path d="M285.1,230.4 L282,236 L275.5,235.7 L272.2,230.7 L275.5,224.9 L281.8,224.9Z" fill="url(#cellG)" opacity="0.72"/><path d="M284.9,242 L281.6,247.7 L275.3,247.2 L272,241.5 L275.8,236.2 L282,236.6Z" fill="url(#cellG)" opacity="0.66"/><path d="M285.2,252.8 L282,258.8 L275.1,258.3 L271.7,253.3 L275.3,247.7 L281.4,247.3Z" fill="url(#cellG)" opacity="0.61"/><path d="M284.8,264.8 L281.6,270.3 L275.4,269.5 L272.3,264.7 L275.7,259.1 L281.8,258.8Z" fill="url(#cellG)" opacity="0.58"/><path d="M295,168.3 L291.4,173.9 L284.7,174.4 L282.4,168.9 L284.8,163.2 L291.4,162.9Z" fill="url(#cellG)" opacity="0.58"/><path d="M295,179.8 L291.6,185.6 L284.7,185.6 L282.2,179.7 L285.4,174.5 L291,174.3Z" fill="url(#cellG)" opacity="0.61"/><path d="M294.9,191.2 L291.4,196.8 L285.4,197 L282,191.5 L284.6,185.7 L291.5,185.8Z" fill="url(#cellG)" opacity="0.63"/><path d="M294.9,202.4 L291.4,208 L285,207.6 L282.3,202.6 L285.2,197 L291.8,196.5Z" fill="url(#cellG)" opacity="0.65"/><path d="M294.5,213.3 L291.8,219.5 L285.3,219.4 L281.9,213.7 L285.4,208.2 L291.4,208.1Z" fill="url(#cellG)" opacity="0.65"/><path d="M294.7,225 L291.6,231 L285.4,230.7 L281.3,224.7 L285.5,219.1 L291.6,219.9Z" fill="url(#cellG)" opacity="0.63"/><path d="M294.5,236.4 L291.8,242.1 L285,241.3 L281.5,236 L285.1,230.5 L291.6,230.7Z" fill="url(#cellG)" opacity="0.61"/><path d="M294.3,247.1 L291.3,252.6 L285.2,253.3 L281.6,247.7 L284.8,241.9 L291.6,241.9Z" fill="url(#cellG)" opacity="0.58"/><path d="M294.5,259.1 L291.7,263.9 L284.8,264.8 L281.8,258.6 L285,253.7 L291.6,253.4Z" fill="url(#cellG)" opacity="0.57"/><path d="M304.3,162.8 L301.5,168.4 L294.8,168.5 L291.4,163.3 L295.3,157.5 L301,157.6Z" fill="url(#cellG)" opacity="0.56"/><path d="M304.2,174.3 L301,179.9 L294.8,180 L291.5,174.1 L294.8,168.9 L301.6,168.4Z" fill="url(#cellG)" opacity="0.57"/><path d="M304.8,185.4 L301.1,190.6 L295,190.8 L291.8,185.3 L294.9,179.8 L301,180.2Z" fill="url(#cellG)" opacity="0.58"/><path d="M304.8,196.5 L301.4,202.3 L295.1,202.9 L292.2,196.8 L294.6,191.7 L300.9,191.2Z" fill="url(#cellG)" opacity="0.58"/><path d="M304.7,208.3 L301.1,213.3 L295,213.4 L292.2,208.1 L294.5,202.8 L300.9,202.5Z" fill="url(#cellG)" opacity="0.58"/><path d="M304.6,219.1 L301.3,225 L295.2,225.1 L291.8,219.2 L294.5,213.4 L301.6,213.4Z" fill="url(#cellG)" opacity="0.58"/><path d="M304,230.6 L300.9,236.2 L295.2,236.1 L291.1,231 L294.9,225.2 L301.4,225.2Z" fill="url(#cellG)" opacity="0.57"/><path d="M304.3,242.1 L301.6,247.3 L295.3,247.2 L291.5,242 L294.9,236.2 L300.9,236.2Z" fill="url(#cellG)" opacity="0.56"/><path d="M304.3,253.2 L301,258.6 L295.3,258.2 L291.8,253.2 L294.4,247.2 L301.2,247.7Z" fill="url(#cellG)" opacity="0.56"/><path d="M314.5,157.6 L311.5,163 L304.4,162.8 L300.8,157 L304.5,152.3 L311,151.7Z" fill="url(#cellG)" opacity="0.55"/><path d="M314.7,168.8 L310.7,174.1 L304.6,174.6 L301.5,168.4 L305,163.4 L311.1,163.1Z" fill="url(#cellG)" opacity="0.55"/><path d="M314,180 L310.7,185.8 L304.5,185.7 L300.8,179.9 L304.7,174.4 L311.3,174.7Z" fill="url(#cellG)" opacity="0.55"/><path d="M314,191.6 L310.9,197 L304.3,197.1 L301.6,191.4 L304.5,185.6 L310.6,185.4Z" fill="url(#cellG)" opacity="0.56"/><path d="M314.1,202.1 L311.4,208.1 L304.8,207.9 L301.5,202.1 L304.3,196.7 L311.3,196.9Z" fill="url(#cellG)" opacity="0.56"/><path d="M314.4,213.9 L310.9,219.7 L304.4,219.5 L301.6,214 L304.3,207.7 L311.2,207.9Z" fill="url(#cellG)" opacity="0.56"/><path d="M313.6,224.7 L310.7,230.4 L304.8,230.8 L301.3,225.3 L304.2,219.1 L310.9,219.3Z" fill="url(#cellG)" opacity="0.55"/><path d="M314,235.9 L310.6,241.3 L304.7,241.7 L301.4,236.1 L304.3,231 L310.7,230.4Z" fill="url(#cellG)" opacity="0.55"/><path d="M314.2,247.7 L311.2,253.2 L304.8,252.6 L301.5,247.7 L304.3,242.2 L310.7,241.6Z" fill="url(#cellG)" opacity="0.55"/>
<path d="M255.6,179.9 L252.7,185.7 L245.9,185.1 L242.9,179.7 L245.6,174.3 L252.5,174.5ZM255.5,191.1 L252.3,196.9 L246.4,196.5 L243.1,190.9 L246.3,185.7 L252.1,185.7ZM255.6,202.2 L252.4,208 L245.8,207.8 L242.5,202.7 L246,196.4 L252.7,196.8ZM255.8,213.4 L252.2,219.3 L246,219.1 L242.7,213.4 L246.4,208.3 L252.2,208.3ZM256,225 L252.3,230.8 L246,230 L242.9,224.8 L245.6,219.3 L252.5,219.7ZM255.5,236 L252.9,241.5 L246.2,242.1 L243.2,236.2 L245.6,230.8 L252.4,230.4ZM255.8,247.6 L252.3,252.6 L245.9,252.8 L243,247.7 L246.1,242.2 L252.8,241.8ZM255.7,259 L252.3,264.6 L245.8,264.6 L243,258.5 L246.3,253.4 L252.8,253.3ZM255.7,270.3 L252.9,275.5 L246,276.1 L243.4,270.2 L246.4,264.3 L252.4,264.4ZM265.8,185.7 L262.2,191.5 L255.9,191.6 L252.4,185.2 L256.1,179.8 L262.6,180.2ZM265.2,196.4 L262.4,202.2 L255.8,202.3 L252.6,197.1 L255.6,190.9 L262.4,191.3ZM265.8,207.8 L261.9,214 L255.7,213.9 L252.5,208.4 L256.1,202.4 L262.6,202.5ZM265.5,219.6 L262.2,224.4 L256.3,224.7 L252.3,219.2 L256,214.2 L262.2,214.1ZM265.8,230.3 L262.3,236.6 L256,236.2 L252.7,230.7 L255.7,224.7 L262,225.1ZM265.6,241.8 L262.6,247.7 L255.4,247.4 L253.2,242.2 L256,236.5 L262.1,236.7ZM265.4,253.3 L262.2,258.5 L255.8,259.2 L252.4,253.5 L255.9,247.3 L262.2,248ZM265.5,264.1 L262.6,269.7 L255.5,269.9 L252.7,264.3 L256.1,258.3 L262.6,258.6ZM275.1,179.6 L271.9,185.3 L265.3,185.5 L262.1,180.2 L265.8,174.2 L272.1,174.5ZM275.4,191.4 L271.8,197 L265.4,196.9 L262.7,190.8 L265.5,185.4 L271.9,185.2ZM275,202.7 L272,208.4 L265.5,208 L262.2,202.6 L265.4,197.1 L272,196.7ZM275.3,213.5 L272.1,219.5 L265.9,219.1 L262.1,213.6 L265.9,208.3 L272,208.2ZM275.4,225.2 L271.8,230.8 L265.5,231 L262.3,225.2 L265.8,219 L272.2,219.4ZM274.8,236.3 L271.9,241.7 L265.3,241.8 L262.4,236.1 L265.2,230.8 L271.6,230.8ZM274.9,247.1 L272,253.3 L266,252.5 L262.6,247.4 L265.7,241.8 L271.9,242.1ZM275.4,258.4 L271.7,264.5 L265.2,264.4 L262.3,258.7 L265.6,253 L272.5,253.3ZM285.1,174.7 L281.6,179.4 L275.5,180 L272,174.1 L275.2,168.5 L281.8,168.6ZM285,185.3 L281.8,191.2 L275.4,191.7 L272.1,185.7 L275.2,179.8 L282,179.9ZM284.7,196.6 L282.2,202.3 L275.2,202.1 L272.1,196.8 L275.1,191.2 L281.8,191.5ZM285.4,208.1 L281.6,213.5 L275.3,213.5 L271.9,208.4 L275.6,202.8 L281.9,202.5ZM285.4,219.1 L281.4,224.8 L275,225.1 L271.9,219 L275.3,213.3 L281.8,214.2ZM285.1,230.4 L282,236 L275.5,235.7 L272.2,230.7 L275.5,224.9 L281.8,224.9ZM284.9,242 L281.6,247.7 L275.3,247.2 L272,241.5 L275.8,236.2 L282,236.6ZM285.2,252.8 L282,258.8 L275.1,258.3 L271.7,253.3 L275.3,247.7 L281.4,247.3ZM284.8,264.8 L281.6,270.3 L275.4,269.5 L272.3,264.7 L275.7,259.1 L281.8,258.8ZM295,168.3 L291.4,173.9 L284.7,174.4 L282.4,168.9 L284.8,163.2 L291.4,162.9ZM295,179.8 L291.6,185.6 L284.7,185.6 L282.2,179.7 L285.4,174.5 L291,174.3ZM294.9,191.2 L291.4,196.8 L285.4,197 L282,191.5 L284.6,185.7 L291.5,185.8ZM294.9,202.4 L291.4,208 L285,207.6 L282.3,202.6 L285.2,197 L291.8,196.5ZM294.5,213.3 L291.8,219.5 L285.3,219.4 L281.9,213.7 L285.4,208.2 L291.4,208.1ZM294.7,225 L291.6,231 L285.4,230.7 L281.3,224.7 L285.5,219.1 L291.6,219.9ZM294.5,236.4 L291.8,242.1 L285,241.3 L281.5,236 L285.1,230.5 L291.6,230.7ZM294.3,247.1 L291.3,252.6 L285.2,253.3 L281.6,247.7 L284.8,241.9 L291.6,241.9ZM294.5,259.1 L291.7,263.9 L284.8,264.8 L281.8,258.6 L285,253.7 L291.6,253.4ZM304.3,162.8 L301.5,168.4 L294.8,168.5 L291.4,163.3 L295.3,157.5 L301,157.6ZM304.2,174.3 L301,179.9 L294.8,180 L291.5,174.1 L294.8,168.9 L301.6,168.4ZM304.8,185.4 L301.1,190.6 L295,190.8 L291.8,185.3 L294.9,179.8 L301,180.2ZM304.8,196.5 L301.4,202.3 L295.1,202.9 L292.2,196.8 L294.6,191.7 L300.9,191.2ZM304.7,208.3 L301.1,213.3 L295,213.4 L292.2,208.1 L294.5,202.8 L300.9,202.5ZM304.6,219.1 L301.3,225 L295.2,225.1 L291.8,219.2 L294.5,213.4 L301.6,213.4ZM304,230.6 L300.9,236.2 L295.2,236.1 L291.1,231 L294.9,225.2 L301.4,225.2ZM304.3,242.1 L301.6,247.3 L295.3,247.2 L291.5,242 L294.9,236.2 L300.9,236.2ZM304.3,253.2 L301,258.6 L295.3,258.2 L291.8,253.2 L294.4,247.2 L301.2,247.7ZM314.5,157.6 L311.5,163 L304.4,162.8 L300.8,157 L304.5,152.3 L311,151.7ZM314.7,168.8 L310.7,174.1 L304.6,174.6 L301.5,168.4 L305,163.4 L311.1,163.1ZM314,180 L310.7,185.8 L304.5,185.7 L300.8,179.9 L304.7,174.4 L311.3,174.7ZM314,191.6 L310.9,197 L304.3,197.1 L301.6,191.4 L304.5,185.6 L310.6,185.4ZM314.1,202.1 L311.4,208.1 L304.8,207.9 L301.5,202.1 L304.3,196.7 L311.3,196.9ZM314.4,213.9 L310.9,219.7 L304.4,219.5 L301.6,214 L304.3,207.7 L311.2,207.9ZM313.6,224.7 L310.7,230.4 L304.8,230.8 L301.3,225.3 L304.2,219.1 L310.9,219.3ZM314,235.9 L310.6,241.3 L304.7,241.7 L301.4,236.1 L304.3,231 L310.7,230.4ZM314.2,247.7 L311.2,253.2 L304.8,252.6 L301.5,247.7 L304.3,242.2 L310.7,241.6Z" fill="none" stroke="#858585" stroke-width="0.6"/>
</g>
<g transform="matrix(1,-0.4,0,1,241.8,188.2)">
<rect x="0" y="0" width="5.6" height="86" fill="url(#edgeL)"/>
<rect x="5.2" y="2" width="0.6" height="82" fill="#b0b0b0"/>
</g>
<g transform="matrix(1,-0.386,0,1,110.6,29.7)"><rect x="0" y="0" width="12.7" height="18" fill="#8ea672"/><circle cx="1.3" cy="1.4" r="0.95" fill="#f2f6ee"/><circle cx="1.3" cy="3.95" r="0.95" fill="#f2f6ee"/><circle cx="1.3" cy="6.5" r="0.95" fill="#f2f6ee"/><circle cx="1.3" cy="9.05" r="0.95" fill="#f2f6ee"/><circle cx="1.3" cy="11.6" r="0.95" fill="#f2f6ee"/><circle cx="1.3" cy="14.15" r="0.95" fill="#f2f6ee"/><circle cx="1.3" cy="16.7" r="0.95" fill="#f2f6ee"/><circle cx="3.8" cy="1.4" r="0.95" fill="#f2f6ee"/><circle cx="3.8" cy="3.95" r="0.95" fill="#f2f6ee"/><circle cx="3.8" cy="6.5" r="0.95" fill="#f2f6ee"/><circle cx="3.8" cy="9.05" r="0.95" fill="#f2f6ee"/><circle cx="3.8" cy="11.6" r="0.95" fill="#f2f6ee"/><circle cx="3.8" cy="14.15" r="0.95" fill="#f2f6ee"/><circle cx="3.8" cy="16.7" r="0.95" fill="#f2f6ee"/><circle cx="6.3" cy="1.4" r="0.95" fill="#f2f6ee"/><circle cx="6.3" cy="3.95" r="0.95" fill="#f2f6ee"/><circle cx="6.3" cy="6.5" r="0.95" fill="#f2f6ee"/><circle cx="6.3" cy="9.05" r="0.95" fill="#f2f6ee"/><circle cx="6.3" cy="11.6" r="0.95" fill="#f2f6ee"/><circle cx="6.3" cy="14.15" r="0.95" fill="#f2f6ee"/><circle cx="6.3" cy="16.7" r="0.95" fill="#f2f6ee"/><circle cx="8.8" cy="1.4" r="0.95" fill="#f2f6ee"/><circle cx="8.8" cy="3.95" r="0.95" fill="#f2f6ee"/><circle cx="8.8" cy="6.5" r="0.95" fill="#f2f6ee"/><circle cx="8.8" cy="9.05" r="0.95" fill="#f2f6ee"/><circle cx="8.8" cy="11.6" r="0.95" fill="#f2f6ee"/><circle cx="8.8" cy="14.15" r="0.95" fill="#f2f6ee"/><circle cx="8.8" cy="16.7" r="0.95" fill="#f2f6ee"/><circle cx="11.3" cy="1.4" r="0.95" fill="#f2f6ee"/><circle cx="11.3" cy="3.95" r="0.95" fill="#f2f6ee"/><circle cx="11.3" cy="6.5" r="0.95" fill="#f2f6ee"/><circle cx="11.3" cy="9.05" r="0.95" fill="#f2f6ee"/><circle cx="11.3" cy="11.6" r="0.95" fill="#f2f6ee"/><circle cx="11.3" cy="14.15" r="0.95" fill="#f2f6ee"/><circle cx="11.3" cy="16.7" r="0.95" fill="#f2f6ee"/></g>
<text x="129.8" y="45.5" style="font-family:'Liberation Serif',serif;font-size:11.3px;font-weight:normal" fill="#141414" stroke="#141414" stroke-width="0.42" textLength="27.5" lengthAdjust="spacingAndGlyphs">G-CS</text>
<text x="129.8" y="60.3" style="font-family:'Liberation Serif',serif;font-size:11.3px;font-weight:normal" fill="#141414" stroke="#141414" stroke-width="0.42" textLength="24.2" lengthAdjust="spacingAndGlyphs">GLD</text>
<path d="M122.7,77.1 L122.7,84.6" stroke="#ec2c38" stroke-width="2" fill="none"/>
<path d="M118.5,73.6 Q121.5,76 122.7,77.8 Q123.9,76 126.9,73.6" stroke="#ec2c38" stroke-width="1.8" fill="none" stroke-linecap="round"/>
<text x="133" y="83.2" style="font-family:'Liberation Serif',serif;font-size:11.3px;font-weight:normal" fill="#141414" stroke="#141414" stroke-width="0.42">anti-AFP<tspan dy="2.8" style="font-size:8px" stroke-width="0.2">1</tspan></text>
<path d="M122.7,94.1 L122.7,103.1" stroke="#18b8e4" stroke-width="2" fill="none"/>
<path d="M119.5,90.6 Q121.5,93 122.7,94.8 Q123.9,93 125.9,90.6" stroke="#18b8e4" stroke-width="1.8" fill="none" stroke-linecap="round"/>
<text x="133" y="100.6" style="font-family:'Liberation Serif',serif;font-size:11.3px;font-weight:normal" fill="#141414" stroke="#141414" stroke-width="0.42">anti-CEA<tspan dy="2.8" style="font-size:8px" stroke-width="0.2">1</tspan></text>
<path d="M122.3,115.1 L123.9,116.6 L127.5,116.8 L124.8,118 L125.5,119.6 L122.3,118.8 L119.1,119.6 L119.8,118 L117.1,116.8 L120.7,116.6Z" fill="#f8e600" stroke="#f8e600" stroke-width="0.6" stroke-linejoin="round"/>
<text x="134" y="121" style="font-family:'Liberation Serif',serif;font-size:11.3px;font-weight:normal" fill="#141414" stroke="#141414" stroke-width="0.42" textLength="22.8" lengthAdjust="spacingAndGlyphs">BSA</text>
<g transform="translate(296.5,55.2) scale(0.95)"><ellipse cx="-6.9" cy="0" rx="4.9" ry="3.7" fill="#06a058"/><ellipse cx="7.2" cy="0" rx="5.1" ry="3.6" fill="#06a058"/><circle cx="-8.3" cy="-0.2" r="1.15" fill="#d8fbe8"/><circle cx="8.7" cy="-0.1" r="1.1" fill="#d8fbe8"/><ellipse cx="0" cy="0" rx="2.4" ry="5.4" fill="#04904c"/><ellipse cx="0" cy="-2.2" rx="0.9" ry="1.3" fill="#40d090"/><ellipse cx="0" cy="2.4" rx="0.9" ry="1.2" fill="#40d090"/></g>
<text x="320" y="59.5" style="font-family:'Liberation Serif',serif;font-size:10.5px;font-weight:normal" fill="#141414" stroke="#141414" stroke-width="0.42" textLength="20" lengthAdjust="spacingAndGlyphs">AFP</text>
<g transform="translate(296,82.8) rotate(0) scale(0.9)"><path d="M-5.5,0.3 Q-2,-3.2 3,-2.8 Q5.6,-1.5 5.4,-0.5 L2.6,0 L5.4,0.6 Q5.6,1.6 3,2.9 Q-2,3.4 -5.5,0.3Z" fill="#f2157e"/><path d="M0,-1.6 Q3,-1.9 4.6,-1.0 L1.6,0 L4.6,1.0 Q3,1.9 0,1.6Z" fill="#ff80b8"/></g>
<text x="320" y="87.3" style="font-family:'Liberation Serif',serif;font-size:10.5px;font-weight:normal" fill="#141414" stroke="#141414" stroke-width="0.42" textLength="20.5" lengthAdjust="spacingAndGlyphs">CEA</text>
<path d="M231.5,56.8 L232.5,59.9 L234.7,60.3 L233.1,62.5 L233.5,65.8 L231.5,64.2 L229.5,65.8 L229.9,62.5 L228.3,60.3 L230.5,59.9Z" fill="#f8e600" stroke="#f8e600" stroke-width="0.6" stroke-linejoin="round"/>
<path d="M234.3,62.2 L240.8,62.2" stroke="#18a8d8" stroke-width="2.2" fill="none"/>
<path d="M248.5,59 C243.5,59.8 240.8,61 240.4,62.2 C240.8,63.4 243.5,64.6 248.5,65.4" stroke="#18a8d8" stroke-width="2" fill="none" stroke-linecap="round"/>
<path d="M219.5,86 L220.4,88.8 L222.5,89.2 L220.9,91.3 L221.3,94.3 L219.5,92.8 L217.7,94.3 L218.1,91.3 L216.5,89.2 L218.6,88.8Z" fill="#f8e600" stroke="#f8e600" stroke-width="0.6" stroke-linejoin="round"/>
<path d="M221.8,91.8 L228.4,91.8" stroke="#ec2430" stroke-width="2.2" fill="none"/>
<path d="M232.6,87.7 C229.9,88.7 228.4,90.6 228,91.8 C228.4,93 229.9,94.9 232.6,95.9" stroke="#ec2430" stroke-width="2" fill="none" stroke-linecap="round"/>
<path d="M240.6,84 L241.6,87.1 L243.8,87.5 L242.2,89.7 L242.6,93 L240.6,91.4 L238.6,93 L239,89.7 L237.4,87.5 L239.6,87.1Z" fill="#f8e600" stroke="#f8e600" stroke-width="0.6" stroke-linejoin="round"/>
<path d="M256.8,36.5 L265.4,36.5" stroke="#ec2430" stroke-width="2.2" fill="none"/>
<path d="M269.7,32.3 C266.9,33.4 265.4,35.3 265,36.5 C265.4,37.7 266.9,39.6 269.7,40.7" stroke="#ec2430" stroke-width="2" fill="none" stroke-linecap="round"/>
<path d="M252.9,85.9 L259.2,85.9" stroke="#18a8d8" stroke-width="2.2" fill="none"/>
<path d="M265.4,82.8 C261.4,83.6 259.2,84.7 258.8,85.9 C259.2,87.1 261.4,88.2 265.4,89" stroke="#18a8d8" stroke-width="2" fill="none" stroke-linecap="round"/>
<path d="M396.5,54.2 L397.5,57.3 L399.7,57.7 L398.1,59.9 L398.5,63.2 L396.5,61.6 L394.5,63.2 L394.9,59.9 L393.3,57.7 L395.5,57.3Z" fill="#f8e600" stroke="#f8e600" stroke-width="0.6" stroke-linejoin="round"/>
<path d="M399.3,59.6 L405.8,59.6" stroke="#18a8d8" stroke-width="2.2" fill="none"/>
<path d="M413.5,56.4 C408.5,57.2 405.8,58.4 405.4,59.6 C405.8,60.8 408.5,62 413.5,62.8" stroke="#18a8d8" stroke-width="2" fill="none" stroke-linecap="round"/>
<path d="M384.5,83.4 L385.4,86.2 L387.5,86.6 L385.9,88.7 L386.3,91.7 L384.5,90.2 L382.7,91.7 L383.1,88.7 L381.5,86.6 L383.6,86.2Z" fill="#f8e600" stroke="#f8e600" stroke-width="0.6" stroke-linejoin="round"/>
<path d="M386.8,89.2 L393.4,89.2" stroke="#ec2430" stroke-width="2.2" fill="none"/>
<path d="M397.6,85.1 C394.9,86.1 393.4,88 393,89.2 C393.4,90.4 394.9,92.3 397.6,93.3" stroke="#ec2430" stroke-width="2" fill="none" stroke-linecap="round"/>
<path d="M405.6,81.4 L406.6,84.5 L408.8,84.9 L407.2,87.1 L407.6,90.4 L405.6,88.8 L403.6,90.4 L404,87.1 L402.4,84.9 L404.6,84.5Z" fill="#f8e600" stroke="#f8e600" stroke-width="0.6" stroke-linejoin="round"/>
<path d="M422.4,33.6 L429.4,33.6" stroke="#ec2c38" stroke-width="2.2" fill="none"/>
<path d="M433,29.2 C430.7,30.3 429.4,32.4 429,33.6 C429.4,34.8 430.7,36.9 433,38" stroke="#ec2c38" stroke-width="2" fill="none" stroke-linecap="round"/>
<g transform="translate(441.6,34.2) scale(0.95)"><ellipse cx="-6.9" cy="0" rx="4.9" ry="3.7" fill="#06a058"/><ellipse cx="7.2" cy="0" rx="5.1" ry="3.6" fill="#06a058"/><circle cx="-8.3" cy="-0.2" r="1.15" fill="#d8fbe8"/><circle cx="8.7" cy="-0.1" r="1.1" fill="#d8fbe8"/><ellipse cx="0" cy="0" rx="2.4" ry="5.4" fill="#04904c"/><ellipse cx="0" cy="-2.2" rx="0.9" ry="1.3" fill="#40d090"/><ellipse cx="0" cy="2.4" rx="0.9" ry="1.2" fill="#40d090"/></g>
<path d="M416.5,84.2 L422,84.2" stroke="#18b8e4" stroke-width="2.2" fill="none"/>
<path d="M428.5,80.9 C424.3,81.7 422,83 421.6,84.2 C422,85.4 424.3,86.7 428.5,87.5" stroke="#18b8e4" stroke-width="2" fill="none" stroke-linecap="round"/>
<g transform="translate(431.5,84.1) rotate(0) scale(0.85)"><path d="M-5.5,0.3 Q-2,-3.2 3,-2.8 Q5.6,-1.5 5.4,-0.5 L2.6,0 L5.4,0.6 Q5.6,1.6 3,2.9 Q-2,3.4 -5.5,0.3Z" fill="#f2157e"/><path d="M0,-1.6 Q3,-1.9 4.6,-1.0 L1.6,0 L4.6,1.0 Q3,1.9 0,1.6Z" fill="#ff80b8"/></g>
<path d="M484,27.5 L496,27.5" stroke="#f8a692" stroke-width="2.8"/>
<path d="M492,27.5 L498,25.7 M492,27.5 L498,29.3" stroke="#f8a692" stroke-width="1.6"/>
<ellipse cx="502.4" cy="27.5" rx="4.4" ry="1.9" fill="url(#tealG)"/>
<path d="M506,27.5 L512.5,27.5" stroke="#3a6aa0" stroke-width="1.6"/>
<path d="M519,21.9 Q512.6,24.5 512.3,27.5 Q512.6,30.5 519,33.1" stroke="#ec2c38" stroke-width="1.9" fill="none" stroke-linecap="round"/>
<path d="M470.4,21.2 L465.3,13.8" stroke="#f8a692" stroke-width="2.8" fill="none"/>
<path d="M466.4,15.5 L465,10.3 M466.4,15.5 L462.1,12.4" stroke="#f8a692" stroke-width="1.6" fill="none"/>
<path d="M473.8,36.2 L472.2,45" stroke="#f8a692" stroke-width="2.8" fill="none"/>
<path d="M472.5,43.1 L469.9,47.7 M472.5,43.1 L473.4,48.3" stroke="#f8a692" stroke-width="1.6" fill="none"/>
<circle cx="475.2" cy="28" r="9.3" fill="url(#qdP)"/>
<ellipse cx="480.1" cy="22.2" rx="1.3" ry="2.4" transform="rotate(-50 480.1 22.2)" fill="#f0dc28"/>
<ellipse cx="467.6" cy="28" rx="1.3" ry="2.4" transform="rotate(180 467.6 28)" fill="#f0dc28"/>
<ellipse cx="480.1" cy="33.8" rx="1.3" ry="2.4" transform="rotate(50 480.1 33.8)" fill="#f0dc28"/>
<text x="458.6" y="60.6" style="font-family:'Liberation Serif',serif;font-size:11px;font-weight:normal" fill="#141414" stroke="#141414" stroke-width="0.42" textLength="81.5" lengthAdjust="spacingAndGlyphs">anti-AFP<tspan dy="2.4" style="font-size:7.5px">2</tspan><tspan dy="-2.4">/QD</tspan><tspan style="font-weight:normal;font-size:9px" fill="#444">s</tspan><tspan dy="1.8" style="font-weight:normal;font-size:7px" fill="#444">525</tspan></text>
<path d="M489.5,97.5 L501.5,97.5" stroke="#f8a692" stroke-width="2.8"/>
<path d="M497.5,97.5 L503.5,95.7 M497.5,97.5 L503.5,99.3" stroke="#f8a692" stroke-width="1.6"/>
<ellipse cx="507.9" cy="97.5" rx="4.4" ry="1.9" fill="url(#tealG)"/>
<path d="M511.5,97.5 L515.5,97.5" stroke="#18b8e4" stroke-width="1.6"/>
<path d="M522.5,93.9 L515.5,97.5 L522.5,101.1" stroke="#18b8e4" stroke-width="1.6" fill="none" stroke-linecap="round"/>
<path d="M475.4,90.7 L470.7,83.1" stroke="#f8a692" stroke-width="2.8" fill="none"/>
<path d="M471.7,84.8 L470.6,79.6 M471.7,84.8 L467.6,81.5" stroke="#f8a692" stroke-width="1.6" fill="none"/>
<path d="M478.2,106.4 L476.3,115.2" stroke="#f8a692" stroke-width="2.8" fill="none"/>
<path d="M476.8,113.3 L474,117.8 M476.8,113.3 L477.5,118.5" stroke="#f8a692" stroke-width="1.6" fill="none"/>
<circle cx="480" cy="98" r="9.6" fill="url(#qdO)"/>
<ellipse cx="485.1" cy="92" rx="1.3" ry="2.4" transform="rotate(-50 485.1 92)" fill="#f0dc28"/>
<ellipse cx="472.1" cy="98" rx="1.3" ry="2.4" transform="rotate(180 472.1 98)" fill="#f0dc28"/>
<ellipse cx="485.1" cy="104" rx="1.3" ry="2.4" transform="rotate(50 485.1 104)" fill="#f0dc28"/>
<text x="458.6" y="132" style="font-family:'Liberation Serif',serif;font-size:11px;font-weight:normal" fill="#141414" stroke="#141414" stroke-width="0.42" textLength="77" lengthAdjust="spacingAndGlyphs">anti-CEA<tspan dy="2.4" style="font-size:7.5px">2</tspan><tspan dy="-2.4">/QD</tspan><tspan style="font-weight:normal;font-size:9px">s</tspan><tspan dy="1.8" style="font-weight:normal;font-size:7px">625</tspan></text>
<path d="M68.8,201.2 L69.8,204.3 L72,204.7 L70.4,206.9 L70.8,210.2 L68.8,208.6 L66.8,210.2 L67.2,206.9 L65.6,204.7 L67.8,204.3Z" fill="#f8e600" stroke="#f8e600" stroke-width="0.6" stroke-linejoin="round"/>
<path d="M71.9,206.2 L78.1,206.2" stroke="#18a8d8" stroke-width="2.2" fill="none"/>
<path d="M84.6,203 C80.4,203.8 78.1,205 77.7,206.2 C78.1,207.4 80.4,208.6 84.6,209.4" stroke="#18a8d8" stroke-width="2" fill="none" stroke-linecap="round"/>
<path d="M55.9,229.9 L56.8,232.7 L58.9,233.1 L57.3,235.2 L57.7,238.2 L55.9,236.7 L54.1,238.2 L54.5,235.2 L52.9,233.1 L55,232.7Z" fill="#f8e600" stroke="#f8e600" stroke-width="0.6" stroke-linejoin="round"/>
<path d="M58.4,235 L65,235" stroke="#ec2430" stroke-width="2.2" fill="none"/>
<path d="M69.4,231 C66.5,232 65,233.8 64.6,235 C65,236.2 66.5,238 69.4,239" stroke="#ec2430" stroke-width="2" fill="none" stroke-linecap="round"/>
<path d="M77.2,226 L78.2,229.1 L80.4,229.5 L78.8,231.7 L79.2,235 L77.2,233.4 L75.2,235 L75.6,231.7 L74,229.5 L76.2,229.1Z" fill="#f8e600" stroke="#f8e600" stroke-width="0.6" stroke-linejoin="round"/>
<path d="M94,180.3 L101.5,180.3" stroke="#ec2c38" stroke-width="1.8"/>
<path d="M104.5,175.3 Q101.2,177.3 101.2,180.3 Q101.2,183.3 104.5,185.3" stroke="#ec2c38" stroke-width="1.9" fill="none"/>
<g transform="translate(114.5,180.3) scale(1.12)"><ellipse cx="-6.9" cy="0" rx="4.9" ry="3.7" fill="#06a058"/><ellipse cx="7.2" cy="0" rx="5.1" ry="3.6" fill="#06a058"/><circle cx="-8.3" cy="-0.2" r="1.15" fill="#d8fbe8"/><circle cx="8.7" cy="-0.1" r="1.1" fill="#d8fbe8"/><ellipse cx="0" cy="0" rx="2.4" ry="5.4" fill="#04904c"/><ellipse cx="0" cy="-2.2" rx="0.9" ry="1.3" fill="#40d090"/><ellipse cx="0" cy="2.4" rx="0.9" ry="1.2" fill="#40d090"/></g>
<path d="M123.8,175.3 Q128.5,177.3 128.5,180.3 Q128.5,183.3 123.8,185.3" stroke="#ec2c38" stroke-width="1.9" fill="none"/>
<path d="M128.5,180.3 L134,180.3" stroke="#3a6aa0" stroke-width="1.6"/>
<ellipse cx="139" cy="180.3" rx="5" ry="1.9" fill="url(#tealG)"/>
<path d="M144,180.3 L160,180.3" stroke="#f8a692" stroke-width="2.8"/>
<path d="M146,180.3 L151,178.5 M146,180.3 L151,182.1" stroke="#f8a692" stroke-width="1.6"/>
<path d="M169.8,170.9 L171.7,162.1" stroke="#f8a692" stroke-width="2.8" fill="none"/>
<path d="M171.2,164 L174,159.5 M171.2,164 L170.5,158.8" stroke="#f8a692" stroke-width="1.6" fill="none"/>
<path d="M173.3,186.1 L178.8,193.2" stroke="#f8a692" stroke-width="2.8" fill="none"/>
<path d="M177.6,191.6 L179.3,196.6 M177.6,191.6 L182.1,194.4" stroke="#f8a692" stroke-width="1.6" fill="none"/>
<circle cx="168" cy="179.3" r="9.6" fill="url(#qdP)"/>
<ellipse cx="173.1" cy="173.3" rx="1.3" ry="2.4" transform="rotate(-50 173.1 173.3)" fill="#f0dc28"/>
<ellipse cx="160.1" cy="179.3" rx="1.3" ry="2.4" transform="rotate(180 160.1 179.3)" fill="#f0dc28"/>
<ellipse cx="173.1" cy="185.3" rx="1.3" ry="2.4" transform="rotate(50 173.1 185.3)" fill="#f0dc28"/>
<path d="M89,229.5 L97,229.5" stroke="#18b8e4" stroke-width="1.8"/>
<path d="M104,226.1 L97,229.5 L104,232.9" stroke="#18b8e4" stroke-width="1.6" fill="none"/>
<g transform="translate(103.2,229.5) rotate(0) scale(0.95)"><path d="M-5.5,0.3 Q-2,-3.2 3,-2.8 Q5.6,-1.5 5.4,-0.5 L2.6,0 L5.4,0.6 Q5.6,1.6 3,2.9 Q-2,3.4 -5.5,0.3Z" fill="#f2157e"/><path d="M0,-1.6 Q3,-1.9 4.6,-1.0 L1.6,0 L4.6,1.0 Q3,1.9 0,1.6Z" fill="#ff80b8"/></g>
<path d="M106.3,226.1 L112,229.5 L106.3,232.9" stroke="#18b8e4" stroke-width="1.6" fill="none"/>
<path d="M112,229.5 L118.5,229.5" stroke="#18b8e4" stroke-width="1.6"/>
<ellipse cx="122.6" cy="229.5" rx="4.2" ry="2" fill="url(#tealG)"/>
<path d="M126.8,229.5 L142.8,229.5" stroke="#f8a692" stroke-width="2.8"/>
<path d="M129,229.5 L134,227.7 M129,229.5 L134,231.3" stroke="#f8a692" stroke-width="1.6"/>
<path d="M152.6,219.6 L154.5,210.8" stroke="#f8a692" stroke-width="2.8" fill="none"/>
<path d="M154,212.7 L156.8,208.2 M154,212.7 L153.3,207.5" stroke="#f8a692" stroke-width="1.6" fill="none"/>
<path d="M155.7,235 L160.9,242.4" stroke="#f8a692" stroke-width="2.8" fill="none"/>
<path d="M159.7,240.8 L161.1,245.9 M159.7,240.8 L164.1,243.8" stroke="#f8a692" stroke-width="1.6" fill="none"/>
<circle cx="150.8" cy="228" r="9.6" fill="url(#qdO)"/>
<ellipse cx="155.9" cy="222" rx="1.3" ry="2.4" transform="rotate(-50 155.9 222)" fill="#f0dc28"/>
<ellipse cx="142.9" cy="228" rx="1.3" ry="2.4" transform="rotate(180 142.9 228)" fill="#f0dc28"/>
<ellipse cx="155.9" cy="234" rx="1.3" ry="2.4" transform="rotate(50 155.9 234)" fill="#f0dc28"/>
<g transform="matrix(1,0.03,-0.35,1,208.6,170.5)"><rect x="0" y="0" width="17.8" height="24.5" fill="#9cd062"/><ellipse cx="1.7" cy="1.9" rx="1.05" ry="1.4" fill="#d6f2b8"/><ellipse cx="1.7" cy="5.35" rx="1.05" ry="1.4" fill="#d6f2b8"/><ellipse cx="1.7" cy="8.8" rx="1.05" ry="1.4" fill="#d6f2b8"/><ellipse cx="1.7" cy="12.25" rx="1.05" ry="1.4" fill="#d6f2b8"/><ellipse cx="1.7" cy="15.7" rx="1.05" ry="1.4" fill="#d6f2b8"/><ellipse cx="1.7" cy="19.15" rx="1.05" ry="1.4" fill="#d6f2b8"/><ellipse cx="1.7" cy="22.6" rx="1.05" ry="1.4" fill="#d6f2b8"/><ellipse cx="4.6" cy="1.9" rx="1.05" ry="1.4" fill="#d6f2b8"/><ellipse cx="4.6" cy="5.35" rx="1.05" ry="1.4" fill="#d6f2b8"/><ellipse cx="4.6" cy="8.8" rx="1.05" ry="1.4" fill="#d6f2b8"/><ellipse cx="4.6" cy="12.25" rx="1.05" ry="1.4" fill="#d6f2b8"/><ellipse cx="4.6" cy="15.7" rx="1.05" ry="1.4" fill="#d6f2b8"/><ellipse cx="4.6" cy="19.15" rx="1.05" ry="1.4" fill="#d6f2b8"/><ellipse cx="4.6" cy="22.6" rx="1.05" ry="1.4" fill="#d6f2b8"/><ellipse cx="7.5" cy="1.9" rx="1.05" ry="1.4" fill="#d6f2b8"/><ellipse cx="7.5" cy="5.35" rx="1.05" ry="1.4" fill="#d6f2b8"/><ellipse cx="7.5" cy="8.8" rx="1.05" ry="1.4" fill="#d6f2b8"/><ellipse cx="7.5" cy="12.25" rx="1.05" ry="1.4" fill="#d6f2b8"/><ellipse cx="7.5" cy="15.7" rx="1.05" ry="1.4" fill="#d6f2b8"/><ellipse cx="7.5" cy="19.15" rx="1.05" ry="1.4" fill="#d6f2b8"/><ellipse cx="7.5" cy="22.6" rx="1.05" ry="1.4" fill="#d6f2b8"/><ellipse cx="10.4" cy="1.9" rx="1.05" ry="1.4" fill="#d6f2b8"/><ellipse cx="10.4" cy="5.35" rx="1.05" ry="1.4" fill="#d6f2b8"/><ellipse cx="10.4" cy="8.8" rx="1.05" ry="1.4" fill="#d6f2b8"/><ellipse cx="10.4" cy="12.25" rx="1.05" ry="1.4" fill="#d6f2b8"/><ellipse cx="10.4" cy="15.7" rx="1.05" ry="1.4" fill="#d6f2b8"/><ellipse cx="10.4" cy="19.15" rx="1.05" ry="1.4" fill="#d6f2b8"/><ellipse cx="10.4" cy="22.6" rx="1.05" ry="1.4" fill="#d6f2b8"/><ellipse cx="13.3" cy="1.9" rx="1.05" ry="1.4" fill="#d6f2b8"/><ellipse cx="13.3" cy="5.35" rx="1.05" ry="1.4" fill="#d6f2b8"/><ellipse cx="13.3" cy="8.8" rx="1.05" ry="1.4" fill="#d6f2b8"/><ellipse cx="13.3" cy="12.25" rx="1.05" ry="1.4" fill="#d6f2b8"/><ellipse cx="13.3" cy="15.7" rx="1.05" ry="1.4" fill="#d6f2b8"/><ellipse cx="13.3" cy="19.15" rx="1.05" ry="1.4" fill="#d6f2b8"/><ellipse cx="13.3" cy="22.6" rx="1.05" ry="1.4" fill="#d6f2b8"/><ellipse cx="16.2" cy="1.9" rx="1.05" ry="1.4" fill="#d6f2b8"/><ellipse cx="16.2" cy="5.35" rx="1.05" ry="1.4" fill="#d6f2b8"/><ellipse cx="16.2" cy="8.8" rx="1.05" ry="1.4" fill="#d6f2b8"/><ellipse cx="16.2" cy="12.25" rx="1.05" ry="1.4" fill="#d6f2b8"/><ellipse cx="16.2" cy="15.7" rx="1.05" ry="1.4" fill="#d6f2b8"/><ellipse cx="16.2" cy="19.15" rx="1.05" ry="1.4" fill="#d6f2b8"/><ellipse cx="16.2" cy="22.6" rx="1.05" ry="1.4" fill="#d6f2b8"/></g>
<text x="192.8" y="208.6" style="font-family:'Liberation Serif',serif;font-size:10.5px;font-weight:normal" fill="#141414" stroke="#141414" stroke-width="0.42" textLength="28.3" lengthAdjust="spacingAndGlyphs">G-CS</text>
<path d="M271.2,199.6 L272.2,202.7 L274.4,203.1 L272.8,205.3 L273.2,208.6 L271.2,207 L269.2,208.6 L269.6,205.3 L268,203.1 L270.2,202.7Z" fill="#f8e600" stroke="#f8e600" stroke-width="0.6" stroke-linejoin="round"/>
<path d="M274.3,204.6 L280.5,204.6" stroke="#18a8d8" stroke-width="2.2" fill="none"/>
<path d="M287,201.4 C282.8,202.2 280.5,203.4 280.1,204.6 C280.5,205.8 282.8,207 287,207.8" stroke="#18a8d8" stroke-width="2" fill="none" stroke-linecap="round"/>
<path d="M258.3,228.3 L259.2,231.1 L261.3,231.5 L259.7,233.6 L260.1,236.6 L258.3,235.1 L256.5,236.6 L256.9,233.6 L255.3,231.5 L257.4,231.1Z" fill="#f8e600" stroke="#f8e600" stroke-width="0.6" stroke-linejoin="round"/>
<path d="M260.8,233.4 L267.4,233.4" stroke="#ec2430" stroke-width="2.2" fill="none"/>
<path d="M271.8,229.4 C268.9,230.4 267.4,232.2 267,233.4 C267.4,234.6 268.9,236.4 271.8,237.4" stroke="#ec2430" stroke-width="2" fill="none" stroke-linecap="round"/>
<path d="M279.6,224.4 L280.6,227.5 L282.8,227.9 L281.2,230.1 L281.6,233.4 L279.6,231.8 L277.6,233.4 L278,230.1 L276.4,227.9 L278.6,227.5Z" fill="#f8e600" stroke="#f8e600" stroke-width="0.6" stroke-linejoin="round"/>
<path d="M312,164 L309.3,166.4 L304.5,166.4 L302.2,164 L304.6,161.6 L309.4,161.6ZM311.9,168.8 L309.5,171.2 L304.7,171.2 L301.9,168.8 L304.6,166.4 L309.4,166.4ZM312,173.6 L309.5,176 L304.5,176 L301.8,173.6 L304.6,171.2 L309.4,171.2ZM312,178.4 L309.4,180.8 L304.6,180.8 L302.3,178.4 L304.4,176 L309.6,176ZM312.1,183.2 L309.6,185.6 L304.4,185.6 L302.2,183.2 L304.6,180.8 L309.5,180.8ZM311.6,188 L309.5,190.4 L304.7,190.4 L302.4,188 L304.5,185.6 L309.3,185.6ZM312.2,192.8 L309.6,195.2 L304.5,195.2 L302.3,192.8 L304.7,190.4 L309.5,190.4ZM319.4,167.1 L316.9,169.5 L312,169.5 L309.6,167.1 L311.9,164.7 L316.8,164.7ZM319.1,171.9 L316.9,174.3 L312,174.3 L309.7,171.9 L312,169.5 L316.9,169.5ZM319.3,176.7 L317,179.1 L312,179.1 L309.4,176.7 L312.1,174.3 L316.9,174.3ZM319.7,181.5 L317.1,183.9 L312,183.9 L309.8,181.5 L312.1,179.1 L317,179.1ZM319.3,186.3 L316.8,188.7 L311.9,188.7 L309.3,186.3 L312.2,183.9 L317,183.9ZM319.5,191.1 L316.9,193.5 L312.2,193.5 L309.4,191.1 L311.9,188.7 L316.9,188.7ZM326.7,165.4 L324.4,167.8 L319.7,167.8 L316.8,165.4 L319.7,163 L324.4,163ZM327.1,170.2 L324.3,172.6 L319.7,172.6 L317.4,170.2 L319.6,167.8 L324.5,167.8ZM327.1,175 L324.4,177.4 L319.6,177.4 L316.9,175 L319.6,172.6 L324.4,172.6ZM326.7,179.8 L324.4,182.2 L319.4,182.2 L317.3,179.8 L319.6,177.4 L324.5,177.4ZM327.2,184.6 L324.6,187 L319.5,187 L316.8,184.6 L319.5,182.2 L324.4,182.2ZM326.9,189.4 L324.5,191.8 L319.5,191.8 L317.3,189.4 L319.6,187 L324.6,187ZM326.7,194.2 L324.6,196.6 L319.6,196.6 L317.2,194.2 L319.6,191.8 L324.5,191.8ZM334.7,168.5 L331.8,170.9 L326.9,170.9 L324.7,168.5 L327.1,166.1 L332,166.1ZM334.3,173.3 L331.9,175.7 L327.1,175.7 L324.4,173.3 L326.9,170.9 L332,170.9ZM334.1,178.1 L332,180.5 L327,180.5 L324.3,178.1 L326.9,175.7 L331.9,175.7ZM334.7,182.9 L332.1,185.3 L327.1,185.3 L324.7,182.9 L327.1,180.5 L331.9,180.5ZM334.3,187.7 L331.8,190.1 L327.1,190.1 L324.3,187.7 L327.1,185.3 L332,185.3ZM334.7,192.5 L332,194.9 L327.1,194.9 L324.3,192.5 L326.9,190.1 L332.1,190.1ZM342.1,166.8 L339.5,169.2 L334.4,169.2 L332.2,166.8 L334.5,164.4 L339.4,164.4ZM342.1,171.6 L339.3,174 L334.5,174 L332.2,171.6 L334.4,169.2 L339.4,169.2ZM342.1,176.4 L339.6,178.8 L334.4,178.8 L332.3,176.4 L334.4,174 L339.5,174ZM342,181.2 L339.5,183.6 L334.7,183.6 L331.8,181.2 L334.5,178.8 L339.4,178.8ZM341.8,186 L339.6,188.4 L334.4,188.4 L331.8,186 L334.6,183.6 L339.4,183.6ZM341.8,190.8 L339.3,193.2 L334.6,193.2 L332.4,190.8 L334.4,188.4 L339.4,188.4ZM349.1,169.9 L346.8,172.3 L342,172.3 L339.8,169.9 L342,167.5 L346.9,167.5ZM349.6,174.7 L347.1,177.1 L342.1,177.1 L339.5,174.7 L341.9,172.3 L347,172.3ZM349.7,179.5 L347,181.9 L342.1,181.9 L339.3,179.5 L342,177.1 L346.8,177.1ZM349.5,184.3 L347.1,186.7 L342,186.7 L339.6,184.3 L342.1,181.9 L347.1,181.9ZM349.5,189.1 L346.9,191.5 L342.1,191.5 L339.7,189.1 L341.9,186.7 L347,186.7ZM356.7,168.2 L354.6,170.6 L349.7,170.6 L347,168.2 L349.6,165.9 L354.5,165.9ZM356.9,173 L354.3,175.4 L349.5,175.4 L346.9,173 L349.4,170.7 L354.4,170.7ZM356.7,177.8 L354.5,180.2 L349.4,180.2 L347.3,177.8 L349.4,175.5 L354.6,175.5ZM356.9,182.6 L354.4,185 L349.5,185 L346.8,182.6 L349.6,180.3 L354.4,180.3ZM356.8,187.4 L354.5,189.8 L349.6,189.8 L347,187.4 L349.5,185.1 L354.5,185.1ZM364.2,171.4 L362.1,173.7 L356.9,173.7 L354.5,171.4 L356.9,169 L361.9,169ZM364.7,176.2 L362,178.5 L357,178.5 L354.3,176.2 L357.1,173.8 L362.1,173.8ZM364.2,181 L361.8,183.3 L357,183.3 L354.3,181 L356.9,178.6 L362.1,178.6ZM364.4,185.8 L362.1,188.1 L357,188.1 L354.8,185.8 L357,183.4 L362.1,183.4Z" fill="#ffffff" fill-opacity="0.5" stroke="#949494" stroke-width="0.5"/>
<path d="M311.9,214 L309.5,216.4 L304.6,216.4 L302.2,214 L304.6,211.6 L309.5,211.6ZM311.9,218.8 L309.3,221.2 L304.7,221.2 L302.2,218.8 L304.5,216.4 L309.5,216.4ZM311.8,223.6 L309.4,226 L304.5,226 L302.3,223.6 L304.5,221.2 L309.6,221.2ZM311.7,228.4 L309.5,230.8 L304.5,230.8 L301.9,228.4 L304.5,226 L309.5,226ZM311.8,233.2 L309.6,235.6 L304.4,235.6 L302.4,233.2 L304.4,230.8 L309.4,230.8ZM311.7,238 L309.3,240.4 L304.4,240.4 L302,238 L304.7,235.6 L309.4,235.6ZM312,242.8 L309.6,245.2 L304.6,245.2 L301.9,242.8 L304.6,240.4 L309.4,240.4ZM319.2,217.6 L316.9,220 L312,220 L309.7,217.6 L312.1,215.2 L316.9,215.2ZM319.2,222.4 L316.9,224.8 L312.1,224.8 L309.6,222.4 L312.1,220 L317,220ZM319.4,227.2 L317.1,229.6 L312,229.6 L309.3,227.2 L312,224.8 L316.9,224.8ZM319.5,232 L316.8,234.4 L312.1,234.4 L309.9,232 L312,229.6 L317.1,229.6ZM319.4,236.8 L316.9,239.2 L312.1,239.2 L309.7,236.8 L312,234.4 L316.9,234.4ZM319.2,241.6 L317.1,244 L312,244 L309.9,241.6 L311.9,239.2 L317,239.2ZM326.8,216.3 L324.5,218.7 L319.4,218.7 L317.1,216.3 L319.6,213.9 L324.4,213.9ZM327,221.1 L324.5,223.5 L319.5,223.5 L316.8,221.1 L319.7,218.7 L324.4,218.7ZM327.2,225.9 L324.6,228.3 L319.5,228.3 L317,225.9 L319.6,223.5 L324.6,223.5ZM327,230.7 L324.4,233.1 L319.6,233.1 L317.3,230.7 L319.4,228.3 L324.6,228.3ZM326.6,235.5 L324.4,237.9 L319.5,237.9 L317.1,235.5 L319.6,233.1 L324.6,233.1ZM326.8,240.3 L324.5,242.7 L319.4,242.7 L317,240.3 L319.5,237.9 L324.4,237.9ZM334.4,219.9 L332,222.3 L326.9,222.3 L324.7,219.9 L327.1,217.5 L331.9,217.5ZM334.3,224.7 L332.1,227.1 L327,227.1 L324.7,224.7 L327.1,222.3 L332.1,222.3ZM334.2,229.5 L332,231.9 L327.2,231.9 L324.8,229.5 L327.2,227.1 L332.1,227.1ZM334.2,234.3 L331.9,236.7 L327.2,236.7 L324.7,234.3 L327,231.9 L332,231.9ZM334.7,239.1 L332.1,241.5 L327,241.5 L324.3,239.1 L327.2,236.7 L332.1,236.7ZM341.9,218.7 L339.4,221.1 L334.5,221.1 L331.8,218.7 L334.6,216.3 L339.3,216.3ZM342.2,223.5 L339.5,225.9 L334.5,225.9 L331.8,223.5 L334.7,221.1 L339.3,221.1ZM341.7,228.3 L339.3,230.7 L334.5,230.7 L332,228.3 L334.7,225.9 L339.4,225.9ZM341.7,233.1 L339.5,235.5 L334.5,235.5 L331.8,233.1 L334.6,230.7 L339.6,230.7ZM341.9,237.9 L339.4,240.3 L334.6,240.3 L332.2,237.9 L334.4,235.5 L339.6,235.5ZM342.1,242.7 L339.4,245.1 L334.6,245.1 L332.3,242.7 L334.6,240.3 L339.5,240.3ZM349.1,222.2 L347,224.6 L342,224.6 L339.9,222.2 L342.1,219.8 L347.1,219.8ZM349.5,227 L346.9,229.4 L341.9,229.4 L339.5,227 L342.1,224.6 L346.9,224.6ZM349.7,231.8 L347.1,234.2 L341.9,234.2 L339.5,231.8 L342.2,229.4 L346.9,229.4ZM349.3,236.6 L347,239 L342.2,239 L339.4,236.6 L341.9,234.2 L347,234.2ZM349.1,241.4 L347.1,243.8 L342.1,243.8 L339.5,241.4 L342,239 L347,239ZM356.9,221 L354.6,223.4 L349.4,223.4 L346.8,221 L349.5,218.6 L354.4,218.6ZM356.8,225.8 L354.4,228.2 L349.4,228.2 L346.9,225.8 L349.4,223.4 L354.6,223.4ZM357.2,230.6 L354.5,233 L349.6,233 L346.9,230.6 L349.6,228.2 L354.5,228.2ZM356.7,235.4 L354.6,237.8 L349.5,237.8 L347.2,235.4 L349.4,233 L354.3,233ZM357.2,240.2 L354.5,242.6 L349.7,242.6 L346.9,240.2 L349.5,237.8 L354.6,237.8Z" fill="#ffffff" fill-opacity="0.5" stroke="#949494" stroke-width="0.5"/>
<path d="M296,180.5 L303.5,180.5" stroke="#ec2c38" stroke-width="1.8"/>
<path d="M306.5,175.5 Q303.2,177.5 303.2,180.5 Q303.2,183.5 306.5,185.5" stroke="#ec2c38" stroke-width="1.9" fill="none"/>
<g transform="translate(316.5,180.5) scale(1.12)"><ellipse cx="-6.9" cy="0" rx="4.9" ry="3.7" fill="#06a058"/><ellipse cx="7.2" cy="0" rx="5.1" ry="3.6" fill="#06a058"/><circle cx="-8.3" cy="-0.2" r="1.15" fill="#d8fbe8"/><circle cx="8.7" cy="-0.1" r="1.1" fill="#d8fbe8"/><ellipse cx="0" cy="0" rx="2.4" ry="5.4" fill="#04904c"/><ellipse cx="0" cy="-2.2" rx="0.9" ry="1.3" fill="#40d090"/><ellipse cx="0" cy="2.4" rx="0.9" ry="1.2" fill="#40d090"/></g>
<path d="M325.8,175.5 Q330.5,177.5 330.5,180.5 Q330.5,183.5 325.8,185.5" stroke="#ec2c38" stroke-width="1.9" fill="none"/>
<path d="M330.5,180.5 L336,180.5" stroke="#3a6aa0" stroke-width="1.6"/>
<ellipse cx="341" cy="180.5" rx="5" ry="1.9" fill="url(#tealG)"/>
<path d="M346,180.5 L362.3,180.5" stroke="#f8a692" stroke-width="2.8"/>
<path d="M348,180.5 L353,178.7 M348,180.5 L353,182.3" stroke="#f8a692" stroke-width="1.6"/>
<path d="M372.8,171.2 L375.6,162.6" stroke="#f8a692" stroke-width="2.8" fill="none"/>
<path d="M375,164.5 L378.3,160.3 M375,164.5 L374.8,159.2" stroke="#f8a692" stroke-width="1.6" fill="none"/>
<path d="M375,185.7 L380.2,193.1" stroke="#f8a692" stroke-width="2.8" fill="none"/>
<path d="M379,191.5 L380.4,196.6 M379,191.5 L383.4,194.5" stroke="#f8a692" stroke-width="1.6" fill="none"/>
<circle cx="370.3" cy="179" r="9.2" fill="url(#qdP)"/>
<ellipse cx="375.1" cy="173.2" rx="1.3" ry="2.4" transform="rotate(-50 375.1 173.2)" fill="#f0dc28"/>
<ellipse cx="362.8" cy="179" rx="1.3" ry="2.4" transform="rotate(180 362.8 179)" fill="#f0dc28"/>
<ellipse cx="375.1" cy="184.8" rx="1.3" ry="2.4" transform="rotate(50 375.1 184.8)" fill="#f0dc28"/>
<path d="M290,229 L298,229" stroke="#18b8e4" stroke-width="1.8"/>
<path d="M305,225.6 L298,229 L305,232.4" stroke="#18b8e4" stroke-width="1.6" fill="none"/>
<g transform="translate(304.2,229) rotate(0) scale(0.95)"><path d="M-5.5,0.3 Q-2,-3.2 3,-2.8 Q5.6,-1.5 5.4,-0.5 L2.6,0 L5.4,0.6 Q5.6,1.6 3,2.9 Q-2,3.4 -5.5,0.3Z" fill="#f2157e"/><path d="M0,-1.6 Q3,-1.9 4.6,-1.0 L1.6,0 L4.6,1.0 Q3,1.9 0,1.6Z" fill="#ff80b8"/></g>
<path d="M307.3,225.6 L313,229 L307.3,232.4" stroke="#18b8e4" stroke-width="1.6" fill="none"/>
<path d="M313,229 L319.5,229" stroke="#18b8e4" stroke-width="1.6"/>
<ellipse cx="323.6" cy="229" rx="4.2" ry="2" fill="url(#tealG)"/>
<path d="M327.8,229 L346,229" stroke="#f8a692" stroke-width="2.8"/>
<path d="M330,229 L335,227.2 M330,229 L335,230.8" stroke="#f8a692" stroke-width="1.6"/>
<path d="M356.6,219.7 L359.4,211.2" stroke="#f8a692" stroke-width="2.8" fill="none"/>
<path d="M358.8,213.1 L362,208.9 M358.8,213.1 L358.6,207.7" stroke="#f8a692" stroke-width="1.6" fill="none"/>
<path d="M358.8,234.6 L364,242" stroke="#f8a692" stroke-width="2.8" fill="none"/>
<path d="M362.8,240.3 L364.2,245.4 M362.8,240.3 L367.2,243.4" stroke="#f8a692" stroke-width="1.6" fill="none"/>
<circle cx="354" cy="227.7" r="9.4" fill="url(#qdO)"/>
<ellipse cx="359" cy="221.8" rx="1.3" ry="2.4" transform="rotate(-50 359 221.8)" fill="#f0dc28"/>
<ellipse cx="346.3" cy="227.7" rx="1.3" ry="2.4" transform="rotate(180 346.3 227.7)" fill="#f0dc28"/>
<ellipse cx="359" cy="233.6" rx="1.3" ry="2.4" transform="rotate(50 359 233.6)" fill="#f0dc28"/>
<path d="M365,174 L375,183 M363,178 L373,187 M367,171 L377,180" stroke="#ffffff" stroke-width="0.7" opacity="0.7"/>
<path d="M349,223 L359,232 M347,227 L357,236 M351,220 L361,229" stroke="#ffffff" stroke-width="0.7" opacity="0.6"/>
<path d="M420.5,186.8 L393.6,212 L420.5,237.1" fill="none" stroke="#c6c6ec" stroke-width="5" stroke-linejoin="miter"/>
<path d="M420.5,186.8 L393.6,212 L420.5,237.1" fill="none" stroke="#f8f8ff" stroke-width="2" stroke-linejoin="miter"/>
<path d="M428,179.8 L416.2,183.3 L423.7,191.3Z" fill="#f8f8ff" stroke="#c6c6ec" stroke-width="1.4" stroke-linejoin="miter"/>
<path d="M428,244.1 L416.2,240.6 L423.7,232.6Z" fill="#f8f8ff" stroke="#c6c6ec" stroke-width="1.4" stroke-linejoin="miter"/>
<ellipse cx="436" cy="184" rx="6.6" ry="17.6" fill="#c8b400" stroke="#5a5000" stroke-width="0.6"/>
<ellipse cx="438.8" cy="183.8" rx="6.9" ry="17.6" fill="url(#yelF)" stroke="#6a6000" stroke-width="0.5"/>
<ellipse cx="436" cy="241.6" rx="6.6" ry="18" fill="#d0502a" stroke="#6a2808" stroke-width="0.6"/>
<ellipse cx="438.8" cy="241.4" rx="6.9" ry="18" fill="url(#orF)" stroke="#7a3818" stroke-width="0.5"/>
<text x="425.3" y="163.4" style="font-family:'Liberation Serif',serif;font-size:10px;font-weight:normal" fill="#141414" stroke="#141414" stroke-width="0.42" textLength="31" lengthAdjust="spacingAndGlyphs">525 nm</text>
<text x="420.6" y="268.6" style="font-family:'Liberation Serif',serif;font-size:10px;font-weight:normal" fill="#141414" stroke="#141414" stroke-width="0.42" textLength="31.4" lengthAdjust="spacingAndGlyphs">625 nm</text>
<rect x="467.1" y="157.6" width="61.2" height="44.6" fill="url(#specG)"/>
<path d="M469.6,199.3 L470.4,199.3 L471.2,199.2 L472.1,199.2 L472.9,199.2 L473.7,199.1 L474.5,199.1 L475.3,199 L476.1,199 L477,198.9 L477.8,198.8 L478.6,198.7 L479.4,198.6 L480.2,198.5 L481,198.3 L481.9,198.1 L482.7,197.9 L483.5,197.7 L484.3,197.4 L485.1,197 L485.9,196.4 L486.8,195.8 L487.6,194.9 L488.4,193.7 L489.2,192.1 L490,189.8 L490.8,186.6 L491.7,181.8 L492.5,175.3 L493.3,167.7 L494.1,162.4 L494.9,163.5 L495.7,170 L496.6,177.4 L497.4,183.4 L498.2,187.7 L499,190.6 L499.8,192.7 L500.7,194.1 L501.5,195.2 L502.3,196 L503.1,196.6 L503.9,197.1 L504.7,197.5 L505.6,197.8 L506.4,198 L507.2,198.2 L508,198.4 L508.8,198.5 L509.6,198.6 L510.5,198.7 L511.3,198.8 L512.1,198.9 L512.9,199 L513.7,199 L514.5,199.1 L515.4,199.1 L516.2,199.2 L517,199.2 L517.8,199.2 L518.6,199.3 L519.4,199.3 L520.3,199.3 L521.1,199.3 L521.9,199.4 L522.7,199.4 L523.5,199.4 L524.3,199.4 L525.2,199.4 L526,199.4 L526.8,199.5" fill="none" stroke="#a03c7c" stroke-width="1.2"/>
<rect x="467.1" y="221.3" width="61.2" height="44.7" fill="url(#specG)"/>
<path d="M469.6,263 L470.4,263 L471.2,263 L472.1,263 L472.9,262.9 L473.7,262.9 L474.5,262.9 L475.3,262.8 L476.1,262.8 L477,262.7 L477.8,262.7 L478.6,262.6 L479.4,262.5 L480.2,262.4 L481,262.3 L481.9,262.2 L482.7,262.1 L483.5,261.9 L484.3,261.7 L485.1,261.5 L485.9,261.2 L486.8,260.8 L487.6,260.3 L488.4,259.7 L489.2,258.9 L490,257.8 L490.8,256.3 L491.7,254.3 L492.5,251.3 L493.3,246.9 L494.1,240.9 L494.9,233.5 L495.7,227.5 L496.6,227.1 L497.4,232.7 L498.2,240.2 L499,246.4 L499.8,250.9 L500.7,254 L501.5,256.2 L502.3,257.7 L503.1,258.8 L503.9,259.6 L504.7,260.3 L505.6,260.7 L506.4,261.1 L507.2,261.4 L508,261.7 L508.8,261.9 L509.6,262.1 L510.5,262.2 L511.3,262.3 L512.1,262.4 L512.9,262.5 L513.7,262.6 L514.5,262.7 L515.4,262.7 L516.2,262.8 L517,262.8 L517.8,262.9 L518.6,262.9 L519.4,262.9 L520.3,263 L521.1,263 L521.9,263 L522.7,263 L523.5,263.1 L524.3,263.1 L525.2,263.1 L526,263.1 L526.8,263.1" fill="none" stroke="#f0a020" stroke-width="1.2"/>
<path d="M47.3,374.88 L48.28,374.87 L49.27,374.87 L50.25,374.86 L51.24,374.85 L52.22,374.85 L53.21,374.84 L54.19,374.83 L55.18,374.82 L56.16,374.81 L57.14,374.8 L58.13,374.79 L59.11,374.78 L60.1,374.77 L61.08,374.76 L62.07,374.75 L63.05,374.74 L64.04,374.73 L65.02,374.72 L66.01,374.7 L66.99,374.69 L67.97,374.68 L68.96,374.66 L69.94,374.65 L70.93,374.63 L71.91,374.62 L72.9,374.6 L73.88,374.58 L74.87,374.56 L75.85,374.54 L76.83,374.52 L77.82,374.5 L78.8,374.47 L79.79,374.45 L80.77,374.42 L81.76,374.39 L82.74,374.36 L83.73,374.32 L84.71,374.28 L85.7,374.23 L86.68,374.18 L87.66,374.13 L88.65,374.06 L89.63,373.99 L90.62,373.91 L91.6,373.82 L92.59,373.71 L93.57,373.59 L94.56,373.45 L95.54,373.29 L96.52,373.11 L97.51,372.91 L98.49,372.68 L99.48,372.41 L100.46,372.11 L101.45,371.77 L102.43,371.38 L103.42,370.95 L104.4,370.47 L105.39,369.92 L106.37,369.32 L107.35,368.65 L108.34,367.91 L109.32,367.1 L110.31,366.21 L111.29,365.24 L112.28,364.19 L113.26,363.06 L114.25,361.84 L115.23,360.55 L116.21,359.17 L117.2,357.71 L118.18,356.18 L119.17,354.58 L120.15,352.92 L121.14,351.2 L122.12,349.44 L123.11,347.65 L124.09,345.85 L125.08,344.03 L126.06,342.23 L127.04,340.45 L128.03,338.73 L129.01,337.06 L130,335.48 L130.98,334 L131.97,332.65 L132.95,331.45 L133.94,330.41 L134.92,329.55 L135.9,328.9 L136.89,328.45 L137.87,328.23 L138.86,328.23 L139.84,328.45 L140.83,328.9 L141.81,329.55 L142.8,330.41 L143.78,331.45 L144.77,332.65 L145.75,334 L146.73,335.48 L147.72,337.06 L148.7,338.73 L149.69,340.45 L150.67,342.23 L151.66,344.03 L152.64,345.85 L153.63,347.65 L154.61,349.44 L155.59,351.2 L156.58,352.92 L157.56,354.58 L158.55,356.18 L159.53,357.71 L160.52,359.17 L161.5,360.55 L162.49,361.84 L163.47,363.06 L164.46,364.19 L165.44,365.24 L166.42,366.21 L167.41,367.1 L168.39,367.91 L169.38,368.65 L170.36,369.32 L171.35,369.92 L172.33,370.47 L173.32,370.95 L174.3,371.38 L175.28,371.77 L176.27,372.11 L177.25,372.41 L178.24,372.68 L179.22,372.91 L180.21,373.11 L181.19,373.29 L182.18,373.45 L183.16,373.59 L184.15,373.71 L185.13,373.82 L186.11,373.91 L187.1,373.99 L188.08,374.06 L189.07,374.13 L190.05,374.18 L191.04,374.23 L192.02,374.28 L193.01,374.32 L193.99,374.36 L194.97,374.39 L195.96,374.42 L196.94,374.45 L197.93,374.47 L198.91,374.5 L199.9,374.52 L200.88,374.54 L201.87,374.56 L202.85,374.58 L203.84,374.6 L204.82,374.62 L205.8,374.63 L206.79,374.65 L207.77,374.66 L208.76,374.68 L209.74,374.69 L210.73,374.7 L211.71,374.72 L212.7,374.73 L213.68,374.74 L214.66,374.75 L215.65,374.76 L216.63,374.77 L217.62,374.78 L218.6,374.79 L219.59,374.8 L220.57,374.81 L221.56,374.82 L222.54,374.83 L223.53,374.84 L224.51,374.85 L225.49,374.85 L226.48,374.86 L227.46,374.87 L228.45,374.87 L229.43,374.88 L230.42,374.89 L231.4,374.89 L232.39,374.9 L233.37,374.91 L234.35,374.91 L235.34,374.92 L236.32,374.92 L237.31,374.93 L238.29,374.93 L239.28,374.94 L240.26,374.94 L241.25,374.95 L242.23,374.95 L243.22,374.96 L244.2,374.96" fill="none" stroke="#fca050" stroke-width="1.35" stroke-linejoin="round"/>
<path d="M47.3,373.86 L48.28,373.76 L49.27,373.64 L50.25,373.5 L51.24,373.35 L52.22,373.17 L53.21,372.97 L54.19,372.73 L55.18,372.47 L56.16,372.16 L57.14,371.82 L58.13,371.43 L59.11,370.99 L60.1,370.49 L61.08,369.93 L62.07,369.31 L63.05,368.62 L64.04,367.85 L65.02,367.01 L66.01,366.08 L66.99,365.07 L67.97,363.97 L68.96,362.78 L69.94,361.51 L70.93,360.14 L71.91,358.7 L72.9,357.17 L73.88,355.56 L74.87,353.88 L75.85,352.14 L76.83,350.35 L77.82,348.52 L78.8,346.67 L79.79,344.8 L80.77,342.93 L81.76,341.09 L82.74,339.29 L83.73,337.55 L84.71,335.89 L85.7,334.34 L86.68,332.92 L87.66,331.65 L88.65,330.55 L89.63,329.64 L90.62,328.94 L91.6,328.47 L92.59,328.23 L93.57,328.23 L94.56,328.47 L95.54,328.94 L96.52,329.64 L97.51,330.55 L98.49,331.65 L99.48,332.92 L100.46,334.34 L101.45,335.89 L102.43,337.55 L103.42,339.29 L104.4,341.09 L105.39,342.93 L106.37,344.8 L107.35,346.67 L108.34,348.52 L109.32,350.35 L110.31,352.14 L111.29,353.88 L112.28,355.56 L113.26,357.17 L114.25,358.7 L115.23,360.14 L116.21,361.51 L117.2,362.78 L118.18,363.97 L119.17,365.07 L120.15,366.08 L121.14,367.01 L122.12,367.85 L123.11,368.62 L124.09,369.31 L125.08,369.93 L126.06,370.49 L127.04,370.99 L128.03,371.43 L129.01,371.82 L130,372.16 L130.98,372.47 L131.97,372.73 L132.95,372.97 L133.94,373.17 L134.92,373.35 L135.9,373.5 L136.89,373.64 L137.87,373.76 L138.86,373.86 L139.84,373.95 L140.83,374.03 L141.81,374.1 L142.8,374.16 L143.78,374.21 L144.77,374.26 L145.75,374.31 L146.73,374.34 L147.72,374.38 L148.7,374.41 L149.69,374.44 L150.67,374.47 L151.66,374.5 L152.64,374.52 L153.63,374.54 L154.61,374.56 L155.59,374.58 L156.58,374.6 L157.56,374.62 L158.55,374.63 L159.53,374.65 L160.52,374.67 L161.5,374.68 L162.49,374.69 L163.47,374.71 L164.46,374.72 L165.44,374.73 L166.42,374.75 L167.41,374.76 L168.39,374.77 L169.38,374.78 L170.36,374.79 L171.35,374.8 L172.33,374.81 L173.32,374.82 L174.3,374.83 L175.28,374.83 L176.27,374.84 L177.25,374.85 L178.24,374.86 L179.22,374.87 L180.21,374.87 L181.19,374.88 L182.18,374.89 L183.16,374.89 L184.15,374.9 L185.13,374.91 L186.11,374.91 L187.1,374.92 L188.08,374.92 L189.07,374.93 L190.05,374.93 L191.04,374.94 L192.02,374.94 L193.01,374.95 L193.99,374.95 L194.97,374.96 L195.96,374.96 L196.94,374.97 L197.93,374.97 L198.91,374.98 L199.9,374.98 L200.88,374.98 L201.87,374.99 L202.85,374.99 L203.84,374.99 L204.82,375 L205.8,375 L206.79,375.01 L207.77,375.01 L208.76,375.01 L209.74,375.01 L210.73,375.02 L211.71,375.02 L212.7,375.02 L213.68,375.03 L214.66,375.03 L215.65,375.03 L216.63,375.03 L217.62,375.04 L218.6,375.04 L219.59,375.04 L220.57,375.04 L221.56,375.05 L222.54,375.05 L223.53,375.05 L224.51,375.05 L225.49,375.06 L226.48,375.06 L227.46,375.06 L228.45,375.06 L229.43,375.06 L230.42,375.07 L231.4,375.07 L232.39,375.07 L233.37,375.07 L234.35,375.07 L235.34,375.07 L236.32,375.08 L237.31,375.08 L238.29,375.08 L239.28,375.08 L240.26,375.08 L241.25,375.08 L242.23,375.09 L243.22,375.09 L244.2,375.09" fill="none" stroke="#12b06c" stroke-width="2.0" stroke-linejoin="round"/>
<path d="M47.3,375.08 L48.28,375.07 L49.27,375.07 L50.25,375.07 L51.24,375.07 L52.22,375.07 L53.21,375.07 L54.19,375.06 L55.18,375.06 L56.16,375.06 L57.14,375.06 L58.13,375.06 L59.11,375.05 L60.1,375.05 L61.08,375.05 L62.07,375.05 L63.05,375.04 L64.04,375.04 L65.02,375.04 L66.01,375.04 L66.99,375.03 L67.97,375.03 L68.96,375.03 L69.94,375.03 L70.93,375.02 L71.91,375.02 L72.9,375.02 L73.88,375.01 L74.87,375.01 L75.85,375.01 L76.83,375.01 L77.82,375 L78.8,375 L79.79,374.99 L80.77,374.99 L81.76,374.99 L82.74,374.98 L83.73,374.98 L84.71,374.98 L85.7,374.97 L86.68,374.97 L87.66,374.96 L88.65,374.96 L89.63,374.95 L90.62,374.95 L91.6,374.94 L92.59,374.94 L93.57,374.93 L94.56,374.93 L95.54,374.92 L96.52,374.92 L97.51,374.91 L98.49,374.91 L99.48,374.9 L100.46,374.89 L101.45,374.89 L102.43,374.88 L103.42,374.87 L104.4,374.87 L105.39,374.86 L106.37,374.85 L107.35,374.84 L108.34,374.83 L109.32,374.83 L110.31,374.82 L111.29,374.81 L112.28,374.8 L113.26,374.79 L114.25,374.78 L115.23,374.77 L116.21,374.76 L117.2,374.75 L118.18,374.73 L119.17,374.72 L120.15,374.71 L121.14,374.69 L122.12,374.68 L123.11,374.67 L124.09,374.65 L125.08,374.63 L126.06,374.62 L127.04,374.6 L128.03,374.58 L129.01,374.56 L130,374.54 L130.98,374.52 L131.97,374.5 L132.95,374.47 L133.94,374.44 L134.92,374.41 L135.9,374.38 L136.89,374.34 L137.87,374.31 L138.86,374.26 L139.84,374.21 L140.83,374.16 L141.81,374.1 L142.8,374.03 L143.78,373.95 L144.77,373.86 L145.75,373.76 L146.73,373.64 L147.72,373.5 L148.7,373.35 L149.69,373.17 L150.67,372.97 L151.66,372.73 L152.64,372.47 L153.63,372.16 L154.61,371.82 L155.59,371.43 L156.58,370.99 L157.56,370.49 L158.55,369.93 L159.53,369.31 L160.52,368.62 L161.5,367.85 L162.49,367.01 L163.47,366.08 L164.46,365.07 L165.44,363.97 L166.42,362.78 L167.41,361.51 L168.39,360.14 L169.38,358.7 L170.36,357.17 L171.35,355.56 L172.33,353.88 L173.32,352.14 L174.3,350.35 L175.28,348.52 L176.27,346.67 L177.25,344.8 L178.24,342.93 L179.22,341.09 L180.21,339.29 L181.19,337.55 L182.18,335.89 L183.16,334.34 L184.15,332.92 L185.13,331.65 L186.11,330.55 L187.1,329.64 L188.08,328.94 L189.07,328.47 L190.05,328.23 L191.04,328.23 L192.02,328.47 L193.01,328.94 L193.99,329.64 L194.97,330.55 L195.96,331.65 L196.94,332.92 L197.93,334.34 L198.91,335.89 L199.9,337.55 L200.88,339.29 L201.87,341.09 L202.85,342.93 L203.84,344.8 L204.82,346.67 L205.8,348.52 L206.79,350.35 L207.77,352.14 L208.76,353.88 L209.74,355.56 L210.73,357.17 L211.71,358.7 L212.7,360.14 L213.68,361.51 L214.66,362.78 L215.65,363.97 L216.63,365.07 L217.62,366.08 L218.6,367.01 L219.59,367.85 L220.57,368.62 L221.56,369.31 L222.54,369.93 L223.53,370.49 L224.51,370.99 L225.49,371.43 L226.48,371.82 L227.46,372.16 L228.45,372.47 L229.43,372.73 L230.42,372.97 L231.4,373.17 L232.39,373.35 L233.37,373.5 L234.35,373.64 L235.34,373.76 L236.32,373.86 L237.31,373.95 L238.29,374.03 L239.28,374.1 L240.26,374.16 L241.25,374.21 L242.23,374.26 L243.22,374.31 L244.2,374.34" fill="none" stroke="#ee2424" stroke-width="1.8" stroke-linejoin="round"/>
<path d="M47.3,467.66 L48.28,467.65 L49.27,467.64 L50.25,467.63 L51.24,467.62 L52.22,467.62 L53.21,467.61 L54.19,467.6 L55.18,467.59 L56.16,467.58 L57.14,467.57 L58.13,467.56 L59.11,467.55 L60.1,467.54 L61.08,467.53 L62.07,467.51 L63.05,467.5 L64.04,467.49 L65.02,467.47 L66.01,467.46 L66.99,467.45 L67.97,467.43 L68.96,467.41 L69.94,467.4 L70.93,467.38 L71.91,467.36 L72.9,467.34 L73.88,467.32 L74.87,467.3 L75.85,467.27 L76.83,467.25 L77.82,467.22 L78.8,467.19 L79.79,467.16 L80.77,467.12 L81.76,467.08 L82.74,467.04 L83.73,466.99 L84.71,466.93 L85.7,466.87 L86.68,466.8 L87.66,466.72 L88.65,466.64 L89.63,466.54 L90.62,466.42 L91.6,466.29 L92.59,466.14 L93.57,465.97 L94.56,465.78 L95.54,465.57 L96.52,465.32 L97.51,465.04 L98.49,464.73 L99.48,464.38 L100.46,463.98 L101.45,463.53 L102.43,463.04 L103.42,462.49 L104.4,461.88 L105.39,461.21 L106.37,460.47 L107.35,459.66 L108.34,458.78 L109.32,457.82 L110.31,456.79 L111.29,455.68 L112.28,454.49 L113.26,453.23 L114.25,451.89 L115.23,450.48 L116.21,449 L117.2,447.45 L118.18,445.85 L119.17,444.21 L120.15,442.52 L121.14,440.8 L122.12,439.06 L123.11,437.32 L124.09,435.59 L125.08,433.88 L126.06,432.21 L127.04,430.6 L128.03,429.06 L129.01,427.62 L130,426.29 L130.98,425.08 L131.97,424.03 L132.95,423.14 L133.94,422.43 L134.92,421.92 L135.9,421.61 L136.89,421.5 L137.87,421.61 L138.86,421.92 L139.84,422.43 L140.83,423.14 L141.81,424.03 L142.8,425.08 L143.78,426.29 L144.77,427.62 L145.75,429.06 L146.73,430.6 L147.72,432.21 L148.7,433.88 L149.69,435.59 L150.67,437.32 L151.66,439.06 L152.64,440.8 L153.63,442.52 L154.61,444.21 L155.59,445.85 L156.58,447.45 L157.56,449 L158.55,450.48 L159.53,451.89 L160.52,453.23 L161.5,454.49 L162.49,455.68 L163.47,456.79 L164.46,457.82 L165.44,458.78 L166.42,459.66 L167.41,460.47 L168.39,461.21 L169.38,461.88 L170.36,462.49 L171.35,463.04 L172.33,463.53 L173.32,463.98 L174.3,464.38 L175.28,464.73 L176.27,465.04 L177.25,465.32 L178.24,465.57 L179.22,465.78 L180.21,465.97 L181.19,466.14 L182.18,466.29 L183.16,466.42 L184.15,466.54 L185.13,466.64 L186.11,466.72 L187.1,466.8 L188.08,466.87 L189.07,466.93 L190.05,466.99 L191.04,467.04 L192.02,467.08 L193.01,467.12 L193.99,467.16 L194.97,467.19 L195.96,467.22 L196.94,467.25 L197.93,467.27 L198.91,467.3 L199.9,467.32 L200.88,467.34 L201.87,467.36 L202.85,467.38 L203.84,467.4 L204.82,467.41 L205.8,467.43 L206.79,467.45 L207.77,467.46 L208.76,467.47 L209.74,467.49 L210.73,467.5 L211.71,467.51 L212.7,467.53 L213.68,467.54 L214.66,467.55 L215.65,467.56 L216.63,467.57 L217.62,467.58 L218.6,467.59 L219.59,467.6 L220.57,467.61 L221.56,467.62 L222.54,467.62 L223.53,467.63 L224.51,467.64 L225.49,467.65 L226.48,467.66 L227.46,467.66 L228.45,467.67 L229.43,467.68 L230.42,467.68 L231.4,467.69 L232.39,467.7 L233.37,467.7 L234.35,467.71 L235.34,467.71 L236.32,467.72 L237.31,467.72 L238.29,467.73 L239.28,467.73 L240.26,467.74 L241.25,467.74 L242.23,467.75 L243.22,467.75 L244.2,467.76" fill="none" stroke="#fca050" stroke-width="1.35" stroke-linejoin="round"/>
<path d="M47.3,466.59 L48.28,466.48 L49.27,466.36 L50.25,466.22 L51.24,466.06 L52.22,465.88 L53.21,465.68 L54.19,465.45 L55.18,465.19 L56.16,464.89 L57.14,464.56 L58.13,464.18 L59.11,463.76 L60.1,463.29 L61.08,462.77 L62.07,462.19 L63.05,461.55 L64.04,460.85 L65.02,460.07 L66.01,459.23 L66.99,458.31 L67.97,457.31 L68.96,456.24 L69.94,455.09 L70.93,453.87 L71.91,452.57 L72.9,451.19 L73.88,449.74 L74.87,448.23 L75.85,446.66 L76.83,445.04 L77.82,443.37 L78.8,441.66 L79.79,439.93 L80.77,438.19 L81.76,436.45 L82.74,434.73 L83.73,433.04 L84.71,431.4 L85.7,429.82 L86.68,428.33 L87.66,426.94 L88.65,425.67 L89.63,424.54 L90.62,423.56 L91.6,422.76 L92.59,422.15 L93.57,421.74 L94.56,421.53 L95.54,421.53 L96.52,421.74 L97.51,422.15 L98.49,422.76 L99.48,423.56 L100.46,424.54 L101.45,425.67 L102.43,426.94 L103.42,428.33 L104.4,429.82 L105.39,431.4 L106.37,433.04 L107.35,434.73 L108.34,436.45 L109.32,438.19 L110.31,439.93 L111.29,441.66 L112.28,443.37 L113.26,445.04 L114.25,446.66 L115.23,448.23 L116.21,449.74 L117.2,451.19 L118.18,452.57 L119.17,453.87 L120.15,455.09 L121.14,456.24 L122.12,457.31 L123.11,458.31 L124.09,459.23 L125.08,460.07 L126.06,460.85 L127.04,461.55 L128.03,462.19 L129.01,462.77 L130,463.29 L130.98,463.76 L131.97,464.18 L132.95,464.56 L133.94,464.89 L134.92,465.19 L135.9,465.45 L136.89,465.68 L137.87,465.88 L138.86,466.06 L139.84,466.22 L140.83,466.36 L141.81,466.48 L142.8,466.59 L143.78,466.68 L144.77,466.76 L145.75,466.84 L146.73,466.9 L147.72,466.96 L148.7,467.01 L149.69,467.06 L150.67,467.1 L151.66,467.14 L152.64,467.17 L153.63,467.21 L154.61,467.23 L155.59,467.26 L156.58,467.29 L157.56,467.31 L158.55,467.33 L159.53,467.35 L160.52,467.37 L161.5,467.39 L162.49,467.41 L163.47,467.42 L164.46,467.44 L165.44,467.45 L166.42,467.47 L167.41,467.48 L168.39,467.49 L169.38,467.51 L170.36,467.52 L171.35,467.53 L172.33,467.54 L173.32,467.55 L174.3,467.56 L175.28,467.57 L176.27,467.58 L177.25,467.59 L178.24,467.6 L179.22,467.61 L180.21,467.62 L181.19,467.63 L182.18,467.64 L183.16,467.64 L184.15,467.65 L185.13,467.66 L186.11,467.67 L187.1,467.67 L188.08,467.68 L189.07,467.69 L190.05,467.69 L191.04,467.7 L192.02,467.7 L193.01,467.71 L193.99,467.72 L194.97,467.72 L195.96,467.73 L196.94,467.73 L197.93,467.74 L198.91,467.74 L199.9,467.75 L200.88,467.75 L201.87,467.75 L202.85,467.76 L203.84,467.76 L204.82,467.77 L205.8,467.77 L206.79,467.78 L207.77,467.78 L208.76,467.78 L209.74,467.79 L210.73,467.79 L211.71,467.79 L212.7,467.8 L213.68,467.8 L214.66,467.8 L215.65,467.81 L216.63,467.81 L217.62,467.81 L218.6,467.82 L219.59,467.82 L220.57,467.82 L221.56,467.82 L222.54,467.83 L223.53,467.83 L224.51,467.83 L225.49,467.83 L226.48,467.84 L227.46,467.84 L228.45,467.84 L229.43,467.84 L230.42,467.85 L231.4,467.85 L232.39,467.85 L233.37,467.85 L234.35,467.85 L235.34,467.86 L236.32,467.86 L237.31,467.86 L238.29,467.86 L239.28,467.86 L240.26,467.87 L241.25,467.87 L242.23,467.87 L243.22,467.87 L244.2,467.87" fill="none" stroke="#12b06c" stroke-width="2.0" stroke-linejoin="round"/>
<path d="M47.3,467.86 L48.28,467.86 L49.27,467.86 L50.25,467.86 L51.24,467.85 L52.22,467.85 L53.21,467.85 L54.19,467.85 L55.18,467.84 L56.16,467.84 L57.14,467.84 L58.13,467.84 L59.11,467.84 L60.1,467.83 L61.08,467.83 L62.07,467.83 L63.05,467.83 L64.04,467.82 L65.02,467.82 L66.01,467.82 L66.99,467.81 L67.97,467.81 L68.96,467.81 L69.94,467.81 L70.93,467.8 L71.91,467.8 L72.9,467.8 L73.88,467.79 L74.87,467.79 L75.85,467.78 L76.83,467.78 L77.82,467.78 L78.8,467.77 L79.79,467.77 L80.77,467.77 L81.76,467.76 L82.74,467.76 L83.73,467.75 L84.71,467.75 L85.7,467.74 L86.68,467.74 L87.66,467.73 L88.65,467.73 L89.63,467.72 L90.62,467.72 L91.6,467.71 L92.59,467.71 L93.57,467.7 L94.56,467.7 L95.54,467.69 L96.52,467.68 L97.51,467.68 L98.49,467.67 L99.48,467.66 L100.46,467.66 L101.45,467.65 L102.43,467.64 L103.42,467.63 L104.4,467.62 L105.39,467.62 L106.37,467.61 L107.35,467.6 L108.34,467.59 L109.32,467.58 L110.31,467.57 L111.29,467.56 L112.28,467.55 L113.26,467.54 L114.25,467.53 L115.23,467.51 L116.21,467.5 L117.2,467.49 L118.18,467.47 L119.17,467.46 L120.15,467.45 L121.14,467.43 L122.12,467.41 L123.11,467.4 L124.09,467.38 L125.08,467.36 L126.06,467.34 L127.04,467.32 L128.03,467.3 L129.01,467.27 L130,467.25 L130.98,467.22 L131.97,467.19 L132.95,467.16 L133.94,467.12 L134.92,467.08 L135.9,467.04 L136.89,466.99 L137.87,466.93 L138.86,466.87 L139.84,466.8 L140.83,466.72 L141.81,466.64 L142.8,466.54 L143.78,466.42 L144.77,466.29 L145.75,466.14 L146.73,465.97 L147.72,465.78 L148.7,465.57 L149.69,465.32 L150.67,465.04 L151.66,464.73 L152.64,464.38 L153.63,463.98 L154.61,463.53 L155.59,463.04 L156.58,462.49 L157.56,461.88 L158.55,461.21 L159.53,460.47 L160.52,459.66 L161.5,458.78 L162.49,457.82 L163.47,456.79 L164.46,455.68 L165.44,454.49 L166.42,453.23 L167.41,451.89 L168.39,450.48 L169.38,449 L170.36,447.45 L171.35,445.85 L172.33,444.21 L173.32,442.52 L174.3,440.8 L175.28,439.06 L176.27,437.32 L177.25,435.59 L178.24,433.88 L179.22,432.21 L180.21,430.6 L181.19,429.06 L182.18,427.62 L183.16,426.29 L184.15,425.08 L185.13,424.03 L186.11,423.14 L187.1,422.43 L188.08,421.92 L189.07,421.61 L190.05,421.5 L191.04,421.61 L192.02,421.92 L193.01,422.43 L193.99,423.14 L194.97,424.03 L195.96,425.08 L196.94,426.29 L197.93,427.62 L198.91,429.06 L199.9,430.6 L200.88,432.21 L201.87,433.88 L202.85,435.59 L203.84,437.32 L204.82,439.06 L205.8,440.8 L206.79,442.52 L207.77,444.21 L208.76,445.85 L209.74,447.45 L210.73,449 L211.71,450.48 L212.7,451.89 L213.68,453.23 L214.66,454.49 L215.65,455.68 L216.63,456.79 L217.62,457.82 L218.6,458.78 L219.59,459.66 L220.57,460.47 L221.56,461.21 L222.54,461.88 L223.53,462.49 L224.51,463.04 L225.49,463.53 L226.48,463.98 L227.46,464.38 L228.45,464.73 L229.43,465.04 L230.42,465.32 L231.4,465.57 L232.39,465.78 L233.37,465.97 L234.35,466.14 L235.34,466.29 L236.32,466.42 L237.31,466.54 L238.29,466.64 L239.28,466.72 L240.26,466.8 L241.25,466.87 L242.23,466.93 L243.22,466.99 L244.2,467.04" fill="none" stroke="#ee2424" stroke-width="1.8" stroke-linejoin="round"/>
<path d="M47.3,320.0 L244.2,320.0 L244.2,468.0 L47.3,468.0 Z" fill="none" stroke="#111" stroke-width="1.3"/>
<path d="M43.8,375.2 L47.3,375.2 M43.8,468.0 L47.3,468.0" stroke="#111" stroke-width="1.3"/>
<path d="M47.3,468.0 L47.3,471.0" stroke="#111" stroke-width="1.2"/>
<text x="47.3" y="487.8" text-anchor="middle" style="font-family:'Liberation Sans',sans-serif;font-size:13.5px" fill="#222">500</text>
<path d="M96.52,468.0 L96.52,471.0" stroke="#111" stroke-width="1.2"/>
<text x="96.52" y="487.8" text-anchor="middle" style="font-family:'Liberation Sans',sans-serif;font-size:13.5px" fill="#222">550</text>
<path d="M145.75,468.0 L145.75,471.0" stroke="#111" stroke-width="1.2"/>
<text x="145.75" y="487.8" text-anchor="middle" style="font-family:'Liberation Sans',sans-serif;font-size:13.5px" fill="#222">600</text>
<path d="M194.97,468.0 L194.97,471.0" stroke="#111" stroke-width="1.2"/>
<text x="194.97" y="487.8" text-anchor="middle" style="font-family:'Liberation Sans',sans-serif;font-size:13.5px" fill="#222">650</text>
<path d="M244.2,468.0 L244.2,471.0" stroke="#111" stroke-width="1.2"/>
<text x="244.2" y="487.8" text-anchor="middle" style="font-family:'Liberation Sans',sans-serif;font-size:13.5px" fill="#222">700</text>
<text x="146" y="504" text-anchor="middle" style="font-family:'Liberation Sans',sans-serif;font-size:13.5px" fill="#222">Wavelength (nm)</text>
<text transform="translate(33.2,391.7) rotate(-90)" text-anchor="middle" style="font-family:'Liberation Sans',sans-serif;font-size:13.5px" fill="#222">Normalized Intensity</text>
<text x="56" y="336.6" style="font-family:'Liberation Sans',sans-serif;font-size:11px" fill="#222">PL</text>
<text x="51.5" y="395.7" style="font-family:'Liberation Sans',sans-serif;font-size:11px" fill="#222">ECL</text>
<rect x="82.2" y="389" width="29.4" height="29.5" fill="#1c1620"/>
<clipPath id="clinsG"><rect x="82.2" y="389" width="29.4" height="29.5"/></clipPath>
<g clip-path="url(#clinsG)">
<ellipse cx="109.4" cy="403.75" rx="2.2" ry="5" fill="#20a030" opacity="0.85"/>
<rect x="82.2" y="389" width="29.4" height="29.5" fill="url(#insG)"/>
</g>
<rect x="123.8" y="389" width="28.8" height="28.6" fill="#0c0300"/>
<clipPath id="clinsO"><rect x="123.8" y="389" width="28.8" height="28.6"/></clipPath>
<g clip-path="url(#clinsO)">
<ellipse cx="150.7" cy="403.3" rx="2.2" ry="5" fill="#d06010" opacity="0.85"/>
<rect x="123.8" y="389" width="28.8" height="28.6" fill="url(#insO)"/>
</g>
<rect x="172.2" y="388.6" width="28.8" height="29" fill="#1c0000"/>
<clipPath id="clinsR"><rect x="172.2" y="388.6" width="28.8" height="29"/></clipPath>
<g clip-path="url(#clinsR)">
<ellipse cx="199.1" cy="403.1" rx="2.2" ry="5" fill="#e01010" opacity="0.85"/>
<ellipse cx="174.1" cy="403.1" rx="1.8" ry="4" fill="#e01010" opacity="0.7"/>
<circle cx="176.6" cy="393.1" r="1.6" fill="#e01010" opacity="0.6"/>
<circle cx="196.6" cy="393.1" r="1.6" fill="#e01010" opacity="0.6"/>
<circle cx="176.6" cy="413.1" r="1.6" fill="#e01010" opacity="0.6"/>
<circle cx="196.6" cy="413.1" r="1.6" fill="#e01010" opacity="0.6"/>
<circle cx="186.6" cy="391.1" r="1.6" fill="#e01010" opacity="0.6"/>
<rect x="172.2" y="388.6" width="28.8" height="29" fill="url(#insR)"/>
</g>
<path d="M324,421 L409,462 L525,429.5 L440,388.5Z" fill="#383838"/>
<path d="M425.4,421.9l3,-0.8M420.7,424.1l2.2,-0.6M397.3,412.4l2.3,-0.6M402,450.5l1.5,-0.4M422.8,399.2l2.5,-0.7M438.1,391.8l3.1,-0.9M448.8,428.4l1.2,-0.3M384.7,405l0.9,-0.3M367.4,421.2l0.9,-0.2M413,426.1l2.8,-0.8M440.2,422.1l2,-0.6M431.8,433.7l1.5,-0.4M520.8,430.5l2.8,-0.8M419.6,440.1l1.4,-0.4M356.5,430.6l2.6,-0.7M453.3,410.7l1.7,-0.5M500.8,433.6l0.8,-0.2M444.2,400.9l1.9,-0.5M452,448.7l1,-0.3M465.1,422.3l1.4,-0.4M368.8,414.1l3.1,-0.9M401.7,448.4l1.4,-0.4M339.3,423.3l2.7,-0.8M402,410.7l1.9,-0.5M422.6,405.7l1.1,-0.3M391.8,443.7l1.8,-0.5M372.5,421.2l3.1,-0.9M426.5,444.4l2.9,-0.8M386.3,417.2l2.9,-0.8M389.8,444.2l3.2,-0.9M371.2,421.6l2.7,-0.7M385.3,425.1l1,-0.3M397.2,406.3l1.4,-0.4M416.9,433.9l1.9,-0.5M460,445.1l2.2,-0.6M418.2,450.8l1.2,-0.3M493.2,432.5l1.4,-0.4M423.3,405.5l3.1,-0.9M447.6,399.1l2.9,-0.8M422.7,432.5l1,-0.3M435.6,392.2l1.4,-0.4M412.8,441.8l2.8,-0.8M407.7,436.2l1.2,-0.3M393,448.4l1.3,-0.4M467.5,417.1l2.3,-0.6M451,403.6l1.3,-0.4M355.7,413.2l1.9,-0.5M349,417.9l1.7,-0.5M387.4,440.3l1.7,-0.5M510.1,426.6l2.4,-0.7M448.5,430.9l1.1,-0.3M329,421.9l3,-0.8M491.9,419.4l0.9,-0.2M432.3,431.9l2.6,-0.7M463.6,402.6l1,-0.3M453.3,420.2l3,-0.8M465.8,429l2.7,-0.8M441.4,447.4l2.4,-0.7M498.6,430.5l1.8,-0.5M488.4,426.2l2.2,-0.6M420.1,434.6l2.2,-0.6M384.8,443.4l2.3,-0.7M507.4,434l2.5,-0.7M439.7,413.8l2.2,-0.6M455.8,412.6l1,-0.3M391.1,450.8l2.2,-0.6M390.8,433.5l2.5,-0.7M435.4,422l3,-0.8M347,431.1l1.5,-0.4M404.4,442.4l1.2,-0.3M475.2,437.3l1.9,-0.5M436.6,447.3l2.4,-0.7M389.4,415.6l2.7,-0.8M500.8,430.7l1.7,-0.5M409.2,434.9l1.1,-0.3M460.4,415l2.8,-0.8M491.3,420.2l1.5,-0.4M389.1,413.7l1.5,-0.4M388.8,416.7l2.3,-0.6M401.5,431.3l2.8,-0.8M458.4,447l1,-0.3M424.9,394.8l0.9,-0.3M448.4,432.1l1.5,-0.4M393.4,452.8l1.1,-0.3M365.4,438.9l2.8,-0.8M360,426.3l0.9,-0.3M427.7,432.7l2.3,-0.6M470.5,422.4l3.1,-0.9M404.6,442.8l1.9,-0.5M340.4,428l1.9,-0.5M404.9,444.6l1.5,-0.4M431.8,413.2l2,-0.6M461.3,422.4l1.7,-0.5M493.3,424.9l1,-0.3M484.6,436.5l1.1,-0.3M432.9,419.9l3,-0.8M420,418.5l2.9,-0.8M498,423.9l1.9,-0.5M402.4,441.2l2.5,-0.7M465.8,434.3l2.5,-0.7M443.4,401.4l3.2,-0.9M467.5,444.1l2.7,-0.8M453.6,405.4l2.9,-0.8M362.9,432.7l1.9,-0.5M457.2,419.3l2,-0.6M417.5,396.7l1,-0.3M411.4,448.3l1.6,-0.4M406.8,448.9l1.2,-0.3M449.3,419.4l2.8,-0.8M489,419.4l2,-0.6M414.4,457.2l1.3,-0.4M401.4,433.4l2.5,-0.7M437.1,430.7l2.8,-0.8M406.7,434.1l1.7,-0.5M497.2,427.3l1.3,-0.4M505.3,425.4l2.1,-0.6M395.3,438.2l2.1,-0.6M434.9,422.6l0.9,-0.2M464.5,444.5l1.8,-0.5M455.4,436.1l2,-0.6M390.1,447.3l2.1,-0.6M466.8,407.8l3,-0.8M400.1,417.1l1.1,-0.3M452.6,413.1l3,-0.8M400.2,430.5l1.3,-0.4M480.6,417.2l1.1,-0.3M392.8,452.2l1.3,-0.4M420.6,408.7l1.6,-0.4M423.9,416l1.1,-0.3M399.9,447.1l2,-0.6M367.5,425l2.1,-0.6M403.4,427.1l1.8,-0.5M387,437.7l1.3,-0.4M449.5,426.8l2.1,-0.6M465.2,436.6l2.9,-0.8M427.1,407.2l2.7,-0.8M436.3,448.1l1.6,-0.4M427,452l3.2,-0.9M414.5,453.2l1.4,-0.4M415,442.6l1,-0.3M442.2,441.8l2.7,-0.8M380,413.5l2.4,-0.7M348.1,415.4l2.4,-0.7M510.4,427.8l1.1,-0.3M452.3,417.8l2,-0.6M403.6,443.2l1,-0.3M337.2,424.2l2.1,-0.6M431.8,424.2l1.2,-0.3M362.6,422.1l2.8,-0.8M512.5,432.4l1,-0.3M436.3,393.5l1.9,-0.5M425.8,442.1l1.9,-0.5M416.2,428.6l2.2,-0.6M404,399.4l2.8,-0.8M390.5,414.1l2.6,-0.7M380.4,431.5l1.2,-0.3M369.3,441.5l2.9,-0.8M471.4,431.7l2.9,-0.8M423,434.1l2.2,-0.6M477.4,410.7l2.7,-0.8M448.5,402.9l2.6,-0.7M481.8,427.2l1.8,-0.5M499.2,430l2.5,-0.7M475.3,428.3l1.8,-0.5M393.4,448.4l1.6,-0.5M365,439.9l1.7,-0.5M448.5,427.5l1.4,-0.4M479.2,438.7l1.6,-0.5M444.2,430.1l2.1,-0.6M469.6,405.5l2.3,-0.7M469.3,425.7l3.2,-0.9M395.2,402.5l2.6,-0.7M391,418.9l0.9,-0.3M382.9,417.2l1,-0.3M447.2,402.7l2.1,-0.6M476,411.3l2.2,-0.6M480.4,441.7l2.7,-0.8M397.7,405.3l2.6,-0.7M432.5,393.5l1.2,-0.3M383.1,435l2,-0.6M382.5,444.2l3.1,-0.9M419,421.6l2.2,-0.6M387.2,427l2.4,-0.7M403.6,435l2.5,-0.7M350.7,432.7l1.4,-0.4M345.3,417.8l2.6,-0.7M458.1,408.7l2.6,-0.7M439.5,391.9l3.1,-0.9M432.1,395.5l1.8,-0.5M474.1,409.9l1.4,-0.4M473.9,412.9l2.5,-0.7M473.9,409.3l2.8,-0.8M388.3,442.1l2.3,-0.6M385.6,433.3l0.9,-0.3M382.9,438.7l1.9,-0.5M432,434l1.4,-0.4M420.7,431.6l2.7,-0.7M481.4,411.3l3.1,-0.9M413.2,443.6l1.1,-0.3M488.1,432.9l2.3,-0.6M385.1,427.2l2.4,-0.7M438.6,425.5l2.3,-0.6M409.4,445.9l1.4,-0.4M510.3,432.3l2.9,-0.8M334.2,420.7l1.5,-0.4M430.3,418.8l1,-0.3M378.2,440.9l1,-0.3M443.4,431.4l2.3,-0.6M409.6,421.2l1.3,-0.4M437,411.6l2.8,-0.8M343.8,420.3l2.7,-0.8M463.5,422.3l1.3,-0.4M389.1,430.3l2.7,-0.8M428.9,415.5l3.2,-0.9M413.4,417l2.6,-0.7M450.4,445.3l1.7,-0.5M430.7,397.4l1,-0.3M394.5,406.6l2,-0.5M415.9,439.7l2.7,-0.7M354.5,417.4l2.4,-0.7M365.1,414.8l2.5,-0.7M414.8,440.5l1.1,-0.3M436.1,412.8l1.7,-0.5M413.8,403.5l2.2,-0.6M507.8,429l3,-0.8M451.6,413.6l1.5,-0.4M396,421.4l3,-0.9M428,449.9l1.7,-0.5M396,424.5l1.7,-0.5M378.9,430.7l2.2,-0.6M452.6,436.6l2.8,-0.8M391.7,438.5l2.6,-0.7M430.5,448.2l0.9,-0.2M429.1,425l2.2,-0.6M479.4,440.1l2.7,-0.8M391,406.4l2.7,-0.8M340.3,421.9l2.6,-0.7M410,455.2l2.3,-0.7M420.1,403.4l2.4,-0.7M369.7,424.1l2.6,-0.7M454.4,418.3l1.7,-0.5M461.7,404.3l2.4,-0.7M426.4,424.3l2.5,-0.7M487.1,421.2l1.8,-0.5M469.3,433.9l2.8,-0.8M486.3,427.8l2.9,-0.8M477.5,440.1l2.1,-0.6M474.6,424.8l1.8,-0.5M376.2,433.6l2.6,-0.7M450.5,449.8l1.2,-0.3M389.2,416l1.5,-0.4M413.1,458.9l1.5,-0.4M406.7,405.3l2.7,-0.7M346.3,426.4l1.9,-0.5M476,416.3l0.9,-0.2M354,419.6l1.3,-0.4M424.7,408l2.2,-0.6M363.9,424.4l1.5,-0.4M423.9,404.2l1.5,-0.4M462.5,417.7l2,-0.5M446,403.7l3,-0.8M414.7,417.8l3.1,-0.9M389.9,433.8l0.9,-0.3M494.7,434.6l1.7,-0.5M426.9,426.4l1.5,-0.4M482.2,440.9l1.4,-0.4M378.1,406.5l1.7,-0.5M472,431.2l2.3,-0.6M355,422.5l1.6,-0.4M443.9,404.2l2,-0.6M489.9,415.8l1.4,-0.4M386.4,438.2l2.6,-0.7M416.5,395.2l2.8,-0.8M403.2,452.1l1.4,-0.4M395.8,447.3l2,-0.5M471.3,410.1l2.2,-0.6M431,446.6l2.7,-0.8M462.6,409.2l1,-0.3M417.7,448.3l2.1,-0.6M386.4,437.6l2.8,-0.8M385.4,424l1,-0.3M402.6,418.8l2.5,-0.7M431.9,414.1l1.1,-0.3M409.5,422.6l3.1,-0.9M468.1,434.4l0.8,-0.2M435.9,414.1l1.4,-0.4M423.5,429.7l0.8,-0.2M498.2,436.5l1.3,-0.4M409,437.1l1.7,-0.5M403.4,433.7l1.6,-0.5M432.4,416.1l1.4,-0.4M423.3,406.1l1.6,-0.4M467.7,442l2.5,-0.7M445.2,408.5l1,-0.3M346.6,423.8l2.4,-0.7M404.4,444.4l1.8,-0.5M461.8,436.6l1,-0.3M360.9,425.3l1.1,-0.3M366.8,435.4l3,-0.8M417.9,422.4l2.4,-0.7M481.6,426.6l1.7,-0.5M398.5,421.6l0.8,-0.2M436.8,415.4l3.2,-0.9M465.4,432.6l2.3,-0.6M362.8,411.3l1.6,-0.5M391.3,444.3l1.7,-0.5M456,417l2.8,-0.8M393.8,441.1l2.6,-0.7M462.4,440.7l1.6,-0.5M382.5,437l2.5,-0.7M465.9,445.2l2.5,-0.7M417.2,449l3.1,-0.9M399.6,440.5l1,-0.3M409.7,412.9l2.5,-0.7M456.5,405.2l1.7,-0.5M377.3,436.1l3.1,-0.9M437.3,398.1l2.1,-0.6M434.7,426.3l1.4,-0.4M512.9,427l2.8,-0.8M388.9,441.8l2.8,-0.8M449.5,404.6l1.4,-0.4M466.2,418.3l1.2,-0.3M379.1,441.1l0.9,-0.2M450.4,397.3l3.1,-0.9M414.6,438.3l2.4,-0.7M429.6,439.2l2.2,-0.6M394.2,453.4l1.3,-0.4M379.9,435.7l1.7,-0.5M392,438.9l2,-0.6M410.3,413.9l1.6,-0.4M382.8,446.1l2.4,-0.7M444.2,396.7l2.2,-0.6M410.2,427.3l2.3,-0.6M467.9,425.4l2.6,-0.7M477.2,409.6l2.8,-0.8M442.7,443.2l1.8,-0.5M474,415.7l2.1,-0.6M417.3,428.9l3,-0.8M357.4,432.4l2.5,-0.7M482.9,434.8l2.2,-0.6M422.2,442.2l2.2,-0.6M343.9,419.9l1.9,-0.5M411.4,429.1l0.9,-0.3M442.3,432.9l1.4,-0.4M394.5,421.1l1.4,-0.4M432.4,395.1l3.1,-0.9M478.1,421l1.8,-0.5M417.4,447l2.6,-0.7M473.8,415.8l1,-0.3M405.3,449.6l2.1,-0.6M404.9,460l1.4,-0.4M386,423l1,-0.3M491.8,432l1.8,-0.5M420.2,417.2l0.9,-0.3M427.7,394l1.5,-0.4M471.5,412l3.1,-0.9M387.4,433.9l1.5,-0.4M503.3,430.6l1.3,-0.4M435.1,444.2l1.9,-0.5M437.6,400.3l3.2,-0.9M412.3,409.3l1.3,-0.4M404.4,455.5l1.1,-0.3M420.9,440.9l3,-0.8M478.2,434.2l1.1,-0.3M488.7,420l1.9,-0.5M355.8,417.2l1.5,-0.4M406.5,443.9l1.2,-0.3M418.8,409.7l2.7,-0.8M430.2,415.4l2.9,-0.8M399.9,438l1.5,-0.4M477.8,438l1.5,-0.4M388.5,444.4l3.2,-0.9M420.9,422.4l2.1,-0.6M395.3,404l1.5,-0.4M435.7,406l1,-0.3M433.3,408.9l1.4,-0.4M409.4,415.2l1.2,-0.3M511.4,426.6l0.9,-0.2M447.7,416.3l1.7,-0.5M459.2,443.3l1.2,-0.3M443.8,423.5l1.7,-0.5M468.1,423.3l2,-0.6M462.1,415.1l2.4,-0.7M475.3,412.3l1.2,-0.3M408.9,447.8l2.3,-0.6M393.6,416.8l2.7,-0.7M479.9,428.3l1.4,-0.4M390.5,434.1l2.2,-0.6M370.4,440.3l2.2,-0.6M449.2,432.3l2.9,-0.8M356.4,423.6l0.8,-0.2M415.1,427.6l1.9,-0.5M436.2,406.6l1,-0.3M465.1,440.3l2.1,-0.6M418.1,446l1.2,-0.3M355.2,432.4l1.6,-0.4M435.9,429.9l1.4,-0.4M384,442.3l2.8,-0.8M367.3,420l1.2,-0.3M476.2,423.1l2.7,-0.8M375.4,410.6l1.7,-0.5M451.6,399.3l0.9,-0.3M451.3,417.1l3.2,-0.9M387.5,412.6l2.6,-0.7M354.4,415l2.9,-0.8M380.2,414.4l1.5,-0.4M368.7,436l0.9,-0.2M494.6,437.8l2.6,-0.7M372,422.4l2.1,-0.6M396.5,416.4l3,-0.9M392.9,425.3l3.2,-0.9M380.4,444.8l1.8,-0.5M385.8,445.8l1.6,-0.5M480.3,422.2l2.2,-0.6M451.4,442.8l1.7,-0.5M438.5,443.5l2.7,-0.7M381.4,418.9l1.2,-0.3M389.2,438.4l1.3,-0.4M394.9,415l1.5,-0.4M473.8,408l2.4,-0.7M420.4,449.9l1.7,-0.5M408,402.2l1.7,-0.5M349.4,431.7l1.2,-0.3M390.5,419.4l3,-0.8M415,441.9l1.7,-0.5M442.4,397.8l1.7,-0.5M470.5,429.6l3,-0.8M362,411.7l1.7,-0.5M430.4,396.6l1.6,-0.4M447.9,436.2l0.9,-0.3M384.3,429.6l0.9,-0.3M403.8,408.4l0.9,-0.2M398.3,420.4l2.1,-0.6M415.1,404.3l1.4,-0.4M460.6,429.7l1.2,-0.3M373,420.6l2.5,-0.7M401.9,425.4l2.9,-0.8M376.1,421.1l1.6,-0.5M346.9,428.6l0.9,-0.2M441.3,429l2.7,-0.8M440.5,451.6l2.4,-0.7M426.4,451.9l2.5,-0.7M488.1,418.2l2.9,-0.8M415.1,410.7l1,-0.3M404.5,426.2l0.9,-0.3M393.5,426.4l2,-0.6M365.6,427.5l1.8,-0.5M383.2,435.2l2.4,-0.7M354.9,427.9l1.6,-0.5M376.9,433.6l2.2,-0.6M445.9,432.3l2.5,-0.7M370,409.6l1.7,-0.5M374.8,410.8l0.9,-0.3M432,422.8l1.9,-0.5M380.2,426.4l0.9,-0.2M453.8,407.1l2.2,-0.6M421.4,410.7l1.2,-0.3M433.1,420.8l3.1,-0.9M419.7,417.7l3.1,-0.9M460.2,432.9l2.3,-0.6M405.7,424.7l1.5,-0.4M493.5,427.3l1.7,-0.5M405.6,457.1l1.1,-0.3M401.8,432.1l1.7,-0.5M423.9,456.3l1.3,-0.4M420,408.9l1.4,-0.4M385.3,403.9l1.7,-0.5M399.9,415.3l2.4,-0.7M440.8,423.8l2.1,-0.6M503.7,424.5l1.6,-0.4M453.2,407.3l1.6,-0.4M463.1,428.4l2.4,-0.7M498.7,434.5l1.2,-0.3M432,431l2.2,-0.6M387.6,427.1l2.6,-0.7M396.1,435.4l1.4,-0.4M371.6,428.7l2,-0.6M341.8,424.2l1,-0.3M412,403l1.1,-0.3M449.3,415.2l2,-0.5M435.3,400.4l2.9,-0.8M357.1,415.2l2,-0.6M435.8,441.3l2.5,-0.7M425.9,408.8l1.6,-0.4M437.8,410.8l2.8,-0.8M458.3,437.1l1.8,-0.5M454.2,430.3l2.8,-0.8M406.2,449.9l1.7,-0.5M406.9,441.2l1.2,-0.3M391,403.1l3.1,-0.9M421.5,456.6l2.5,-0.7M430.7,418.3l1.8,-0.5M514.6,428.1l0.9,-0.3M397.9,446.5l0.9,-0.3M430.6,409.7l3.2,-0.9M371.4,415.5l0.9,-0.2M424.5,428l1.7,-0.5M440.4,408.4l2.8,-0.8M392.2,420.3l2.3,-0.6M499.4,421.5l1.7,-0.5M444.4,432.2l2.7,-0.8M356.2,421.5l1.1,-0.3M431.6,451.4l2,-0.6M370.6,415.7l0.8,-0.2M388.3,439.7l2.3,-0.6M372.9,425.1l2,-0.5M384.3,427.8l0.9,-0.3M429.9,395.5l1.5,-0.4M351.2,418.5l2,-0.5M431.5,455.5l2.9,-0.8M411.8,427.8l2.7,-0.8M364.1,435.4l2.1,-0.6M449.9,428.3l1.5,-0.4M501.1,432.2l3.2,-0.9M455.5,412.9l2.5,-0.7M342,427.4l1.2,-0.3M342.5,423.5l1.7,-0.5M422.9,442.1l2,-0.6M348.5,414.8l3.1,-0.9M384.3,404.8l2.7,-0.8M474.1,430.3l1.8,-0.5M485.4,427.8l2.6,-0.7M419.2,458.2l3.1,-0.9M437.5,415.3l1.4,-0.4M404,457.6l2.2,-0.6M387,418.1l1.7,-0.5M471.1,422.4l1.7,-0.5M418.1,436l1.5,-0.4M437.1,448l1,-0.3M435.9,411.3l1.3,-0.4M448.6,434.3l2.4,-0.7M351,424.9l1.1,-0.3M402.2,421.8l0.8,-0.2M412.1,428.9l1.6,-0.4M476.8,413l1.3,-0.4M434.9,447l2.6,-0.7M444.3,394.3l1.8,-0.5M430.5,453.5l1.8,-0.5M404,444.3l1.5,-0.4M488.2,418.9l1.6,-0.4M379.8,417.3l3.2,-0.9M408,407.1l1.7,-0.5M402.6,440.7l2.3,-0.6M495.8,430.4l2.3,-0.6M430.8,423.8l1.1,-0.3M472.8,433.6l1.9,-0.5M427.8,435.1l1.7,-0.5M411.1,411.5l2.2,-0.6M371.4,441.1l2.3,-0.6M428.7,420.6l2.2,-0.6M420.3,454.4l1.9,-0.5M491.4,438.4l1.6,-0.4M498,420l1.8,-0.5M412,452.6l3.2,-0.9M392.1,433.8l2.8,-0.8M484.7,418.1l2.8,-0.8M449.4,437.6l3.2,-0.9M427.4,396.2l2.5,-0.7M436.1,405.8l1.9,-0.5M467,415.7l1.3,-0.4M420.2,412.2l1,-0.3M459.7,418.9l2,-0.6M434.6,405.7l2.9,-0.8M451.3,435.3l3,-0.8M408.8,448.9l1.7,-0.5M336.7,424l1.6,-0.5M491.3,430.2l1.1,-0.3M383.2,416.2l2.8,-0.8M477.9,417.9l1,-0.3M431.2,455l2.3,-0.6M480.4,434l1.3,-0.4M429.3,434.8l0.8,-0.2M388.3,425l2.3,-0.6M415.5,413.4l2.5,-0.7M353.8,424.4l2.5,-0.7M378.2,436.1l1.1,-0.3M472.6,440.4l1.7,-0.5M452.6,397.7l2.5,-0.7M427.1,439.8l1.5,-0.4M375.2,433.1l2.3,-0.6M452.4,412.6l1.8,-0.5M419.8,423.8l3.1,-0.9M432.6,413l1.4,-0.4M405.3,435.8l2.9,-0.8M444.5,405.8l2.4,-0.7M467.7,410.2l1.7,-0.5M454.8,432.5l1.9,-0.5M376.6,410.4l1.5,-0.4M468.9,409l1.5,-0.4M458.7,428.3l1.4,-0.4M373.9,433.7l2.9,-0.8M392.7,418.1l1.6,-0.5M489.4,427.8l2.2,-0.6M381.6,440.2l3,-0.8M372.4,413.2l1.7,-0.5M460.8,429.5l1.6,-0.5M507.2,427.9l0.9,-0.2M430.6,432.2l1.7,-0.5M399.1,430.1l2.4,-0.7M484.7,415.2l3.1,-0.9M452.8,449.2l2.8,-0.8M458.1,425.5l3.2,-0.9M381.7,409.2l1.8,-0.5M404.3,441l3.2,-0.9M383.4,417.9l1.1,-0.3M441,413.8l1,-0.3M411.2,407.4l2.3,-0.6M415.6,443.4l2.7,-0.8M473.4,426.5l1.1,-0.3M365.6,439.7l2.9,-0.8M505.1,431.5l0.9,-0.2M414.1,418.5l2.1,-0.6M422.3,400.7l1.5,-0.4M381.1,437.9l2.2,-0.6M345,423.5l2,-0.6M436.5,408.5l1.4,-0.4M365.3,436.3l1.3,-0.4M425.2,421.9l1.9,-0.5M408.1,452.6l2.8,-0.8M446.3,396.8l2.1,-0.6M427.4,418.4l2.9,-0.8M452.4,447.5l0.8,-0.2M429.2,401.5l2.6,-0.7M402.2,445.3l2.1,-0.6M338.8,418.7l1.5,-0.4M478.5,440.3l2.8,-0.8M374.7,409.8l1,-0.3M358.7,428.2l3,-0.8M407,419.1l2.4,-0.7M505.9,427.5l2.2,-0.6M468.3,413l1.7,-0.5M432.6,410l1.4,-0.4M403.6,422.5l1.9,-0.5M402.9,422.1l1.9,-0.5M422.2,396.7l0.9,-0.3M430.5,425.4l1.8,-0.5M354.1,427l1.7,-0.5M405.2,418.6l1.4,-0.4M442.5,436.4l0.8,-0.2M467.3,407.2l0.8,-0.2M482.5,415l1.7,-0.5M416.3,433.9l1.5,-0.4M442.1,427.4l1.6,-0.4M424.4,425.1l2.6,-0.7M339,420.2l1.4,-0.4M436.5,407l1.8,-0.5M442.4,443.6l1.5,-0.4M391.4,446.2l3.2,-0.9M431.6,444.7l1.6,-0.4M482.3,429.7l2.3,-0.7M414.7,399.3l0.9,-0.3M439.2,429.2l3,-0.8M380.8,446.5l3,-0.9M453.2,433.6l0.8,-0.2M433.7,438l2.4,-0.7M510.8,432.4l1,-0.3M440,439.1l2.6,-0.7M406.5,422.4l1.8,-0.5M370,415.8l2.6,-0.7M343.1,420.3l2.8,-0.8M442.3,431l1.1,-0.3M369,416.1l3.1,-0.9M475.4,414.9l1.3,-0.4M419.6,421.1l2.8,-0.8M432.8,398.5l1.9,-0.5M375.3,408.7l1.7,-0.5M485.8,419.4l2,-0.6M426.3,437l2.7,-0.7M416.5,401.9l1.2,-0.3M396.5,438.6l1.6,-0.5M377.3,416.7l2.2,-0.6M411.9,430.1l2.2,-0.6M435.9,444.2l2.2,-0.6M475.2,409.8l1.6,-0.4M409.6,442.2l1.4,-0.4M450.8,432.8l1.4,-0.4M422.3,397.6l1.7,-0.5M433.6,436.7l2.3,-0.6M481.4,413.2l3,-0.8M417.5,424.3l1.4,-0.4M399.5,448.7l1.5,-0.4M400,454.6l2.5,-0.7M434.3,426.9l1.6,-0.4M443.9,397.2l2.6,-0.7M403.5,451l2.7,-0.8M365,423.7l2.1,-0.6M389.4,442.2l2.6,-0.7M474.7,416.5l3,-0.8M423.5,437.8l3.1,-0.9M417.8,441.3l2.9,-0.8M415.6,442.5l1.4,-0.4M386.2,404.9l1.4,-0.4M377.4,425l1.1,-0.3M395.9,432.3l1.5,-0.4M404.9,416.3l2.9,-0.8M434.3,400.5l2.9,-0.8M437,428.8l2.6,-0.7M443.7,422.1l3,-0.8M419.1,444.6l0.9,-0.3M444.4,448l2.7,-0.8M394.8,416.3l1.7,-0.5M492.2,421.2l2,-0.6M411.4,433.2l1.4,-0.4M417.1,456.5l3.1,-0.9M387.9,445.7l3,-0.8M396.3,407.4l1.1,-0.3M442.9,451.8l2.9,-0.8M404.2,402.5l1,-0.3M390.8,404.2l3.2,-0.9M478.5,422.1l2.7,-0.8M377,439.9l2.1,-0.6M399,412l1.7,-0.5M388.6,435.2l2.5,-0.7M414.1,422.8l1,-0.3M428.1,423.4l3.1,-0.9M386.9,439.8l1.5,-0.4M431.5,412.6l3.1,-0.9M513.8,431.1l3,-0.8M502.2,426.7l0.8,-0.2M432.1,422.5l2.4,-0.7M445.1,426.8l3,-0.9M389.8,408.2l3.1,-0.9M339.3,418.8l2.9,-0.8M408.1,459.5l0.9,-0.2M472,433.3l2,-0.6M458.5,420.9l2.7,-0.8M331.7,418.9l2.7,-0.8M500.7,434.7l1.8,-0.5M391.5,423.8l0.8,-0.2M419,444.3l2.2,-0.6M406.5,432l2.4,-0.7M389,432.3l2.9,-0.8M355.8,423.5l1.4,-0.4M452.9,415.9l1.6,-0.4M417.9,410.1l1.4,-0.4M397.1,434.4l2.9,-0.8M365.8,421.2l1.5,-0.4M433.8,411.6l2.4,-0.7M451.9,436.4l1,-0.3M416.4,444.6l1.3,-0.4M470.6,406.8l1.7,-0.5M456.8,406.9l3.2,-0.9M372.2,432.6l2.7,-0.8M428.5,442.4l2.7,-0.8M388.6,427.5l2.2,-0.6M440.6,436.4l2.8,-0.8M381.3,405.8l1.7,-0.5M432.4,394.8l1.1,-0.3M440.3,401.7l3.1,-0.9M441.6,448.4l3,-0.8M416.4,404.3l3.1,-0.9M355.6,424.6l2.4,-0.7M480.8,434.3l3.1,-0.9M404.5,427.9l1.1,-0.3M452.8,402.6l1,-0.3M378.8,417.6l0.9,-0.3M370.7,427.8l1.1,-0.3M429.6,425.6l2.2,-0.6M448.1,435.6l3.1,-0.9M356,417.3l1,-0.3M435.9,409.7l3,-0.8M384.9,436.6l1.6,-0.4M405.4,435l2.7,-0.8M458.4,446.4l2.2,-0.6M448.2,441l1.3,-0.4M514.3,428.9l0.9,-0.2M433.9,439.6l0.9,-0.3M357.3,422.2l2.6,-0.7M344.2,429.1l1.3,-0.4M448.1,438l2.4,-0.7M384.1,434.3l0.8,-0.2M354.5,432.2l1.4,-0.4M418.2,434.7l1.9,-0.5M412.7,436.6l1.7,-0.5M464.5,438.9l1.8,-0.5M421.7,428.6l1.6,-0.4M427.9,451.1l3,-0.9M495.7,428.2l1.2,-0.3M478,410.8l1.5,-0.4M419.9,405.2l1.4,-0.4M391.3,440l3.1,-0.9M359.1,429.6l2.4,-0.7M416.4,417.6l2,-0.6M460.3,442.6l1.7,-0.5M380,405.4l1.4,-0.4M443.9,424.6l1.9,-0.5M387.6,409l2,-0.5M487.7,416.7l1.5,-0.4M371.2,436.5l2.7,-0.8M437.2,404.5l2.7,-0.8M447.2,403l2,-0.6M422.7,421l3.1,-0.9M419.9,425.9l1.5,-0.4M452.1,439.6l1.6,-0.5M364.9,422.3l2.8,-0.8M502.4,423.1l3,-0.8M472,424l2.5,-0.7M483,428.9l1.2,-0.3M427.4,444.8l1.4,-0.4M404.7,458l2,-0.6M442.3,410.1l2.3,-0.6M506.4,429l2.3,-0.7M404.6,402.6l1.1,-0.3M505.5,433.8l1.5,-0.4M417.9,406.7l2.6,-0.7M477.8,441.7l1.1,-0.3M392.4,448.9l2.9,-0.8M477.7,427.8l2.9,-0.8M478.5,414.6l2.3,-0.7M409.1,429l1.6,-0.5M344.1,416.9l2.7,-0.8M417,409.8l2.7,-0.7M441.1,433.2l1.6,-0.4M368.3,426.3l2.4,-0.7M488.4,419.4l1.6,-0.4M505.4,430.3l1.5,-0.4M474.6,440.5l3.1,-0.9M427.3,442.2l1.5,-0.4M423.3,427l0.9,-0.2M457.6,439.5l1.9,-0.5M415.4,443.7l1.3,-0.4M400.5,437.2l1.6,-0.4M335.8,422.2l1.7,-0.5M475.6,412.7l2.3,-0.7M405,425.2l1.4,-0.4M472.2,410.2l1.1,-0.3M438,417.1l2.6,-0.7M443.3,423.5l3.1,-0.9M429,450.1l2.1,-0.6M468.2,445.3l1.3,-0.4M395.5,450.6l1.2,-0.3M401.5,435l2.5,-0.7M421.7,440.7l2.6,-0.7M458.5,425.3l1.9,-0.5M372.8,435.4l1.9,-0.5M505.1,432.1l0.9,-0.3M360.4,415.4l2.5,-0.7M375.6,434.9l1.8,-0.5M456.5,421l1.8,-0.5M455.9,426.2l2.3,-0.6M407.9,400.5l1.1,-0.3M382,408.3l0.8,-0.2M374.2,411.7l1.9,-0.5M440.3,395.3l2.8,-0.8M431.5,422.4l1.6,-0.4M421.1,457.5l1.5,-0.4M440.2,402.8l2,-0.6M403.8,425.3l2.9,-0.8M434.9,406.6l2.5,-0.7M403.3,427.9l1.8,-0.5M398,429.6l2.3,-0.6M393.1,428.3l2.7,-0.7M416,424.7l2.9,-0.8M405,427.8l3,-0.8M495.4,436.3l1.8,-0.5M464.4,425.2l1.5,-0.4M492.4,420.7l2.4,-0.7M429.8,434.7l2.4,-0.7M429.9,406l2.1,-0.6M445.7,450.4l2.5,-0.7M372.2,408.6l2.6,-0.7M415.1,412.3l1.3,-0.4M469.7,406l1.3,-0.4M408.3,456.5l2.2,-0.6M488,428.3l1.7,-0.5M454.3,422.8l2.6,-0.7M452.6,433.4l1.4,-0.4M447.1,432.2l2.1,-0.6M423.3,457.2l2.7,-0.7M433.4,411.4l3.1,-0.9M411.1,414.4l2.1,-0.6M384.9,436l2.3,-0.6M474.6,436.7l1.5,-0.4M439.8,440.8l1.1,-0.3M427.3,431.3l2.1,-0.6M472.3,443.7l3.1,-0.9M439.4,411.5l1,-0.3M427.4,411.5l2.5,-0.7M437.2,443l1.5,-0.4M414.9,418.8l0.9,-0.2M429.8,415.6l1.2,-0.3M448.6,406.2l3,-0.9M365.2,425.6l1.1,-0.3M420.6,399.5l2.6,-0.7M401.5,416.4l2.5,-0.7M418.5,396.3l2.9,-0.8M421.1,407.5l2.5,-0.7M451.5,407.1l1.3,-0.4M399.6,430.5l1.9,-0.5M457.2,436.3l2.3,-0.6M433,454.4l1.3,-0.4M393.6,441.7l3.1,-0.9M402.5,421.1l1.8,-0.5M497.3,426.1l2.4,-0.7M378.5,416.8l2.5,-0.7M441.7,402l2.9,-0.8M384.2,418.8l1.3,-0.4M390.4,449l2.5,-0.7M424,397.1l2.1,-0.6M384.3,441.9l0.9,-0.3M464.8,404.4l2.2,-0.6M404.3,454.4l1,-0.3M404.2,399.9l1.2,-0.3M422.2,411.2l2.5,-0.7M404,419.5l1.5,-0.4M411.8,432.8l1.7,-0.5M378,422l1.4,-0.4M360.3,411.9l2.2,-0.6M359.5,428.5l2.8,-0.8M421.5,424.1l1.5,-0.4M484.2,433.6l2.3,-0.6M458,426.2l2,-0.6M403,425.6l2,-0.6M423.3,423.5l2.1,-0.6M491.5,425.2l1.3,-0.4M359.8,412.4l0.9,-0.2M461.5,434.1l1.5,-0.4M438,401.5l2.8,-0.8M459.9,427.2l2.6,-0.7M407.4,427.1l2.1,-0.6M510.4,425.8l3,-0.8M403.4,452.9l1.4,-0.4M467.7,443.7l2,-0.6M447.3,406.5l2,-0.6M416.7,459.2l3.2,-0.9M341.8,416.9l1.7,-0.5M390.8,443.7l2.1,-0.6M452.8,445.8l2.6,-0.7M439.8,426.9l1.2,-0.3M464.7,411.6l2.4,-0.7M392.7,415.8l2.1,-0.6M417.6,416.6l2.3,-0.6M350.3,414.8l2.4,-0.7M350.4,427.5l2.6,-0.7M460.2,404.5l2.1,-0.6M404.3,405.1l1.4,-0.4M474.7,431.6l2.6,-0.7M332.7,422.3l2.7,-0.8M358.6,420.4l0.9,-0.2M391.2,412.8l3.1,-0.9M380.5,426l2.8,-0.8M411.1,408.5l2.3,-0.6M408.4,458l2.2,-0.6M449.2,410.7l1.4,-0.4M405.6,444.5l2,-0.6M433.3,453.1l1.5,-0.4M477.9,437.4l1,-0.3M366.5,421.2l1.5,-0.4M474.6,433.5l3.2,-0.9M451.6,428.7l1.7,-0.5M440.5,434.9l0.9,-0.3M409,429.1l2.1,-0.6M331.3,422.1l3.2,-0.9M392.7,425.8l1.2,-0.3M477.3,416.5l1.2,-0.3M422.7,425.8l2.6,-0.7M398.9,436.6l1.3,-0.4M394.4,448.2l2.9,-0.8M348.2,416.4l1.9,-0.5M465.5,436.1l2.6,-0.7M470,429.4l0.9,-0.3M410.8,450.2l1.2,-0.3M330.4,421.6l2.9,-0.8M366.1,433.9l0.9,-0.3M463.6,436.7l3,-0.8M339.8,419l1.5,-0.4M352.9,425.3l1.3,-0.4M397.3,442l1.2,-0.3M411.8,431.1l1.2,-0.3M429.4,428.3l1.7,-0.5M368.8,439.2l2.3,-0.6M378.2,418.3l0.8,-0.2M465.6,438.9l1.7,-0.5M475.8,413.6l1.1,-0.3M436.3,414.4l1.7,-0.5M486.3,421.3l0.9,-0.3M381.1,423.4l2.6,-0.7M469.4,431.1l3,-0.8M384,416.2l2.8,-0.8M401.7,448.8l3.2,-0.9M484.4,424.1l1.7,-0.5M483.3,415.6l3,-0.8M473.2,416.6l3.2,-0.9M469.1,434.7l3.1,-0.9M381.6,414.2l2.2,-0.6M423,401.8l0.9,-0.3M408.9,438l1.6,-0.4M397.1,439.8l1.9,-0.5M507.9,425l1.4,-0.4M433.1,414.1l1.3,-0.4M418.5,449.6l2.1,-0.6M353,434.9l0.8,-0.2M361.1,410.7l1.5,-0.4M480,441.5l1,-0.3M411,443l2,-0.5M481.8,423.6l3,-0.9M395.5,428.2l1.8,-0.5M434,410.4l1.9,-0.5M399.4,444.3l2.7,-0.8M429,454.2l2.3,-0.6M341.8,426.5l1.8,-0.5M421.8,405.5l2.2,-0.6M490.3,418.1l0.9,-0.3M336.4,423.9l1.9,-0.5M471,433.2l2.1,-0.6M438.6,444.4l1.1,-0.3M381.4,446.5l1.4,-0.4M344.7,417.1l1,-0.3M383.6,438.8l2.2,-0.6M432.8,443.9l1.1,-0.3M463,425.6l2.9,-0.8M436.6,425.4l2.9,-0.8M491.3,418l1.5,-0.4M461,432.8l1.9,-0.5M378.5,406.4l1.4,-0.4M432.5,429.6l2,-0.6M343.8,419.3l2.3,-0.6M493.4,417.7l2.7,-0.8M399.9,418.5l2,-0.6M436.7,441.5l3,-0.8M409.9,428.3l2,-0.5M466.9,404.1l0.9,-0.3M366.9,434.9l2.4,-0.7M353.6,422.5l1.8,-0.5M461.1,421.6l1.9,-0.5M390.5,421.5l2.9,-0.8M343.4,429.4l2.9,-0.8M379.9,436.6l1.1,-0.3M484,433.9l1,-0.3M405.4,441.9l1.9,-0.5M381.2,444.2l3,-0.9M368.7,430.2l2.7,-0.7M337.5,424.3l2.4,-0.7M465.3,411.9l2.7,-0.8M346.6,428l2.2,-0.6M397.9,430.8l3,-0.8M414.1,409.3l1,-0.3M509.3,429l2.3,-0.6M432.7,411.3l3,-0.8M396.2,452.3l2,-0.6M397.4,409.5l3.1,-0.9M425.5,448.6l2.1,-0.6M369.9,428.7l2.6,-0.7M426.4,441.5l1.8,-0.5M465.1,426.6l1.9,-0.5M344.8,422.8l1.2,-0.3M450.1,439.2l2.3,-0.7M396.5,424.3l1.2,-0.3M475,441.9l1.1,-0.3M451,431l2.3,-0.6M457.9,433.4l2.9,-0.8M452.2,447.9l2.4,-0.7M402,423.4l1.7,-0.5M418.7,436.4l1.6,-0.5M486,430.5l2.4,-0.7M439.1,443.4l2.3,-0.7M380.8,421.4l1,-0.3M495.5,424.7l1.5,-0.4M369.3,432.8l1.1,-0.3M478.6,419l1,-0.3M431.1,407.5l1.3,-0.4M438.3,445.9l1.9,-0.5M373.9,420.1l1.8,-0.5M429.7,409.4l0.9,-0.2M468.6,421.9l1.6,-0.4M353.8,425.1l1,-0.3M459.2,434.5l0.8,-0.2M429.9,420.7l1.6,-0.4M374.3,409.2l1.6,-0.5M447.1,449.5l3,-0.8M462.4,438.5l1.1,-0.3M402.8,451.3l2.1,-0.6M342.7,422.1l1.8,-0.5M448.9,396.1l2.2,-0.6M507.9,427.6l2.6,-0.7M432.1,432.6l2.7,-0.7M398.7,443.5l2.1,-0.6M417.1,421.7l2.5,-0.7M446.7,431.3l2.7,-0.8M404.5,451.9l1.1,-0.3M346.1,417.9l3.1,-0.9M399.7,419.9l1.9,-0.5M403.4,435.3l2.7,-0.7M447.3,407.9l2.7,-0.8M385.7,403.8l1,-0.3M406.9,455.1l1.4,-0.4M455.8,433.9l2.4,-0.7M417.7,421.5l1.3,-0.4M392.2,431.8l2.4,-0.7M348.5,421l1.3,-0.4M434.7,424.5l0.8,-0.2M501.9,435.1l1.7,-0.5M430.4,401.5l3.1,-0.9M424.2,404.5l2.8,-0.8M427.1,452.8l1.1,-0.3M364,420.5l3,-0.8M454.7,443.4l1.1,-0.3M381.1,427.9l2.4,-0.7M472.5,426.1l1.8,-0.5M415.5,425l1.7,-0.5M439.8,418.1l2.5,-0.7M415.5,416.5l1.1,-0.3M371.4,410.7l1.7,-0.5M335.7,419.8l1.8,-0.5M498.3,433.2l0.9,-0.2M392.4,422.4l1.5,-0.4M402.1,408l2.8,-0.8M376.3,431.1l1.1,-0.3M411.4,397.5l1.4,-0.4M474.5,425.8l1,-0.3M375.5,418.8l2.6,-0.7M420.7,441.7l1.9,-0.5M407.3,420.7l2.7,-0.8M437.4,406.2l3,-0.8M483,415.4l3.1,-0.9M450.1,396.8l1.3,-0.4M406,450.2l1.5,-0.4M456,412.7l2.4,-0.7M442.4,401.1l2.9,-0.8M373,440.3l1.5,-0.4M396,419.8l3.1,-0.9M466.8,419.6l1,-0.3M427.2,408l1.6,-0.5M350.4,428.3l0.9,-0.3M420.5,420.7l1.8,-0.5M404.8,435l0.8,-0.2M419.1,438.1l2,-0.6M386.5,428l0.9,-0.3M382.7,423.8l1.1,-0.3M380.6,407.1l0.8,-0.2M439.2,445.7l1.9,-0.5M371.4,441.8l1,-0.3M453.4,435.7l2,-0.6M437.7,411.4l2,-0.6M485.4,427.1l2.9,-0.8M461.5,429.5l1.9,-0.5M434.5,424.6l2.1,-0.6M490.2,427.5l0.9,-0.3M457.3,432.4l2.2,-0.6M406.8,456.7l1.9,-0.5M462.6,406.5l1.2,-0.3M388.1,439.5l2.6,-0.7M448.3,417.9l1.5,-0.4M399.9,457l1.3,-0.4M485.2,423.4l2.7,-0.7M356.5,429.7l2.5,-0.7M393,449.1l3,-0.9M372.6,441.6l2,-0.5M364.5,431.6l2.9,-0.8M417.4,455.4l1.9,-0.5M422.9,411l1.1,-0.3M398.5,421.7l1.9,-0.5M428.1,420.1l3.1,-0.9M505.3,430.6l2.8,-0.8M370.9,422.7l1.9,-0.5M446.9,428.3l1.6,-0.5M443.4,451.8l0.8,-0.2M355.3,418.1l2.6,-0.7M400.2,454.2l1.4,-0.4M433.1,406.1l3,-0.8M357.9,428.6l3.1,-0.9M487.2,438.2l1.9,-0.5M473.8,427.4l2,-0.6M406.1,415.6l2.4,-0.7M423.5,414.1l1.2,-0.3M430.3,454.1l1.3,-0.4M512.5,430.4l3,-0.8M491,428.7l2.8,-0.8M380.5,441.9l2.6,-0.7M489.3,428.9l0.9,-0.3M411.4,400.5l2,-0.6M511.4,426.4l1.9,-0.5M456.3,427.7l2.5,-0.7M427.2,415.9l1,-0.3M481.9,435.1l2.7,-0.8M386.4,433.5l1.9,-0.5M443.5,431.6l1.1,-0.3M369.1,408.6l1.4,-0.4M368.2,423.3l1.8,-0.5M485.8,420.7l2.4,-0.7M423.4,394.5l2.3,-0.6M455.2,431.7l1.7,-0.5M360.9,432.7l2.4,-0.7M405.2,401.7l3,-0.8M449,429.3l2.7,-0.8M497,434.7l3.2,-0.9M364.7,439.4l2.3,-0.6M475.4,420l2.3,-0.6M355.4,435.7l2.8,-0.8M488,415.6l2.2,-0.6M483.4,431.6l3.2,-0.9M464.2,411.7l1.8,-0.5M361.6,411.2l1.6,-0.5M452.8,449.2l1.5,-0.4M393.7,446.3l1.5,-0.4M371.6,433.3l2.2,-0.6M450.2,413.1l1.6,-0.5M429.1,454.9l2.1,-0.6M344.8,429.8l1.5,-0.4M432.9,448.5l2,-0.6M398.5,434.1l2.1,-0.6M368.9,412.7l1.5,-0.4M480,430.2l2.5,-0.7M472.1,418.1l2.6,-0.7M343.4,419.2l2.6,-0.7M506.7,424.2l2.7,-0.7M401.2,409.6l2.3,-0.6M390.5,441.6l3.1,-0.9M397.6,433.5l3.2,-0.9M364.6,434.6l2.4,-0.7M370.6,424.8l1.5,-0.4M411.6,435.8l2.4,-0.7M512.4,426.9l2.9,-0.8M430.8,450.8l2.8,-0.8M397.1,406.3l1,-0.3M439.2,395.2l1.1,-0.3M444.3,433.8l0.8,-0.2M398.3,451.6l2.9,-0.8M449.4,438.9l1.9,-0.5M405.1,400.1l0.9,-0.3M472.8,413.4l2.4,-0.7M415,403l2.5,-0.7M438.8,410.2l2.2,-0.6M418.3,421.4l1.5,-0.4M448.4,404.8l1.6,-0.5M430.8,441.1l1.3,-0.4M432.5,390.7l2.6,-0.7M473.7,442.7l0.9,-0.3M343.4,426.1l2.3,-0.6M484.4,416.4l1.5,-0.4M368.7,423.6l1.2,-0.3M382,406.6l1.8,-0.5M462.3,406.1l1.6,-0.4M454.2,438.1l1,-0.3M395.1,403l2.9,-0.8M407.3,400.9l1.4,-0.4M476.1,422.9l2.5,-0.7M362.3,426.1l3.1,-0.9M505.7,429.4l2.1,-0.6M369.9,411.5l3,-0.8M362.9,414.4l0.9,-0.3M438.6,445.9l1,-0.3M377.2,429.2l1.8,-0.5M450.4,425.5l1,-0.3M375.7,441.1l1.9,-0.5M422.2,445.9l2.8,-0.8M389,418.6l2.7,-0.8M386.6,403.7l2.1,-0.6M491.4,420.4l2.5,-0.7M365.4,423.9l2,-0.5M410.2,415.1l1,-0.3M429.9,436.3l0.9,-0.3M439.5,396.5l2.8,-0.8M442.8,444.8l3.2,-0.9M420.1,405.1l3.1,-0.9M342.2,429.4l1.1,-0.3M421.5,399.1l2.3,-0.6M377.4,436.9l2.3,-0.7M350.7,422.4l2.2,-0.6M468.8,422.1l2.8,-0.8M369.9,417l1.1,-0.3M368.9,440.2l2.9,-0.8M472.9,423.5l2,-0.6M495.5,432.1l2.8,-0.8M416.8,447.2l1.6,-0.5M414.8,399.2l1.9,-0.5M440.4,452.3l1.8,-0.5M506.7,426l2.6,-0.7M502.9,428.1l1.5,-0.4M383.6,444.3l2.4,-0.7M461.9,444.1l1.1,-0.3M379.7,442.3l1.9,-0.5M377.8,411.1l2.8,-0.8M482.9,424.4l1.9,-0.5M367.7,437.4l2.7,-0.8M418.3,431.5l1.1,-0.3M370.1,437.8l1.1,-0.3M378.6,410.9l1.1,-0.3M463,435.7l2.9,-0.8M389,438.7l1.5,-0.4M461.2,437l2.4,-0.7M383.2,445.4l1.3,-0.4M455.7,412.1l3.1,-0.9M403.4,437.1l0.9,-0.3M417.5,431l3,-0.8M364.6,423l0.8,-0.2M417.3,396.7l2.9,-0.8M338.8,426.8l2.2,-0.6M414.1,411.7l3,-0.8M419,442.8l2.3,-0.6M434.1,408.9l1.4,-0.4M474.2,435.3l2.9,-0.8M460.7,405.1l2.2,-0.6M418.7,411.2l1.5,-0.4M338.1,424.4l2.3,-0.6M355.8,427.8l2.7,-0.7M421,403l1.5,-0.4M459.8,406.5l2.8,-0.8M505.2,424.3l2.2,-0.6M473.5,439.7l2.2,-0.6" stroke="#a0a0a0" stroke-width="0.45" opacity="0.6"/>
<path d="M394.2,422.3l2.2,-0.6M417.2,410.9l2.9,-0.8M410.6,443.4l0.9,-0.2M404,422.4l2.8,-0.8M428.8,427.1l2.3,-0.6M447.3,422.3l2.1,-0.6M397.5,436.2l1.1,-0.3M461.1,411.1l3.1,-0.9M413.6,414.9l2,-0.6M382.6,434l2.7,-0.8M356.9,417.3l1.5,-0.4M363,423.2l1,-0.3M387.9,437l2.3,-0.7M445.3,425.9l2,-0.5M409.3,436.8l1.9,-0.5M406.8,442.4l2.6,-0.7M483.4,414.3l2.3,-0.6M457.1,419.3l1.5,-0.4M404.3,422.6l2.6,-0.7M406,444.6l3.1,-0.9M463.2,445.6l3.2,-0.9M420.1,434.3l1,-0.3M392,403.1l2.5,-0.7M464.4,421.6l1.8,-0.5M455,432.4l2.3,-0.7M445.7,422.5l2.1,-0.6M407.6,403.4l2.5,-0.7M469.5,408l2,-0.5M395.7,411.7l1.7,-0.5M438,399.8l1.2,-0.3M403.7,444.8l2,-0.6M418.7,459.1l2.9,-0.8M434.5,390.4l3,-0.8M433.9,419.3l1.9,-0.5M377.9,416.5l1.9,-0.5M410.8,453.1l2.1,-0.6M426.3,422.9l2.7,-0.8M411.3,435.4l3.1,-0.9M405.4,437l2.1,-0.6M402.9,455.1l2.4,-0.7M397.8,431.9l1.2,-0.3M392.9,416.7l1.8,-0.5M405.5,437.1l2.3,-0.6M453.8,415.3l2.7,-0.8M454.1,399.9l2.1,-0.6M381.1,426.7l2.5,-0.7M438.1,417.4l1.4,-0.4M426.9,447.9l2.9,-0.8M406.4,426.3l2.2,-0.6M430.1,425.2l2.1,-0.6M488.3,436.5l1,-0.3M409.7,461l0.9,-0.3M424.6,445.9l0.9,-0.2M394.7,412.6l2.8,-0.8M344.3,416.6l0.8,-0.2M364,413.3l2,-0.6M479.3,440.3l2.9,-0.8M476.7,416.5l2.4,-0.7M386.3,419.1l2,-0.5M437.3,396.4l2,-0.5M396.3,413.7l2.7,-0.8M413.4,413.7l1,-0.3M365.6,425l2,-0.6M408,442l2.5,-0.7M458.3,421.4l3.2,-0.9M464.5,403.3l1.9,-0.5M387.3,436.3l1,-0.3M390.5,444.2l0.9,-0.2M392.2,407.3l1.3,-0.4M432.7,407.6l1.9,-0.5M413,405.6l3.2,-0.9M427,432.5l2.1,-0.6M478,423.4l2.7,-0.8M432.9,406.6l1,-0.3M392,410.3l1.2,-0.3M403.7,435.1l3.1,-0.9M452.6,413.1l3.1,-0.9M448.9,415.3l2,-0.6M371.9,433.5l2.4,-0.7M479.7,437.1l1.6,-0.4M408.7,431.3l1.7,-0.5M390.4,452.5l2,-0.5M384.1,437.4l2.6,-0.7M390.9,418.7l1.4,-0.4M423.3,431.9l2.4,-0.7M448.3,413.7l2.1,-0.6M388.3,409.8l1.4,-0.4M456,403.3l2,-0.5M404.4,446.4l2.3,-0.6M359,418.9l1.1,-0.3M428.2,393.4l3.1,-0.9M356.7,435.7l2.6,-0.7M385.5,446.7l2.6,-0.7M356,416.4l2.7,-0.7M415.6,445.1l2,-0.6M460,434.8l2.1,-0.6M347.4,426.4l1.3,-0.4M435.6,423.7l1.9,-0.5M441.5,429.3l2.3,-0.7M453.7,411.3l2.1,-0.6M509.8,426l2.8,-0.8M467.3,430.9l2.1,-0.6M356.6,427.9l2.4,-0.7M414,411.9l2.1,-0.6M423.9,432.4l1.4,-0.4M428.2,411.5l2.9,-0.8M386.4,424.2l1.9,-0.5M431.6,418.7l2.6,-0.7M480.3,427l2.5,-0.7M457.1,446.7l1.9,-0.5M414.7,437.8l2.8,-0.8M422.2,420.6l2,-0.6M356.1,435.6l1.5,-0.4M471.5,410.5l1.1,-0.3M510.2,427.4l2.7,-0.8M349.9,431.9l2.9,-0.8M363.4,414.4l3.1,-0.9M473.9,422.7l2.8,-0.8M395.9,412.4l1,-0.3M412,420.9l2.8,-0.8M423.6,411.8l1.1,-0.3M352.4,429.7l2.2,-0.6M454.1,422.6l1.8,-0.5M484.9,436.6l2.2,-0.6M418.5,451.1l1.5,-0.4M438.3,424.7l3.1,-0.9M387,447.4l3.1,-0.9M386.9,433.7l2.6,-0.7M473.6,419.8l2.1,-0.6M398.7,416.6l1.9,-0.5M419.3,417.1l1.2,-0.3M358.8,427.6l0.9,-0.2M451.6,419.3l1.8,-0.5M469.1,438.8l2.4,-0.7M449.5,404.4l1.6,-0.5M423.3,448l3.1,-0.9M402.1,443.4l2.6,-0.7M380.6,415.2l1.7,-0.5M393.2,423.3l1.2,-0.3M368.5,434.5l2.7,-0.8M434.2,413.1l1.8,-0.5M505.8,433.2l2.5,-0.7M498.3,426.7l3,-0.8M425.8,419.2l1,-0.3M391.9,425.6l2.3,-0.6M409.5,397.5l1,-0.3M414.5,423l2.8,-0.8M394.4,442.3l2.4,-0.7M413.4,411.2l1.8,-0.5M455.8,446l1.5,-0.4M458.1,403.5l1.6,-0.5M404.8,414.1l2.4,-0.7M412.9,457.1l1.6,-0.4M441.2,435l2.5,-0.7M391.7,445.7l0.9,-0.3M373.3,418.7l1.2,-0.3M361.2,429.2l0.9,-0.2M453.9,418.6l1.2,-0.3M413.9,401.9l1,-0.3M391.1,411.3l1.5,-0.4M447.7,437.2l2.1,-0.6M358.9,435.5l2.8,-0.8M450.2,410.9l1.1,-0.3M421.5,421.7l1.2,-0.3M435.6,394.6l3.1,-0.9M470.3,444.8l2.6,-0.7M428.8,430.6l1.2,-0.3M428.4,433.4l2.4,-0.7M360.6,413.5l1.1,-0.3M442.8,437.2l1.5,-0.4M449,436.6l1.5,-0.4M357.6,437l0.9,-0.3M435.3,392.2l2.9,-0.8M476.1,413.7l2.1,-0.6M393.7,445.6l1.8,-0.5M422,433.2l2.4,-0.7M426.9,414.4l1.3,-0.4M413.8,427.6l2.1,-0.6M356,415.6l2.5,-0.7M391.7,412.8l3.2,-0.9M458.4,422.9l2.6,-0.7M449.9,448.5l1.7,-0.5M391,451.1l1.9,-0.5M409.7,414.6l2.6,-0.7M454.2,440.3l2.5,-0.7M405,403.5l3,-0.8M431.5,430.8l2,-0.6M379.1,432.2l1.3,-0.4M449.6,437.3l0.9,-0.2M469.7,420l2.4,-0.7M446.4,398.4l1.2,-0.3M419,427.3l1.2,-0.3M367.7,426.1l1.2,-0.3M400.1,402.3l2.4,-0.7M452.5,401.3l1.8,-0.5M467.1,410.5l2.4,-0.7M447.6,416.6l2.6,-0.7M358,431.4l2.6,-0.7M455.1,432.7l1.1,-0.3M407,446l2.7,-0.8M448.5,426.4l1,-0.3M437.5,412.9l1.1,-0.3M373.8,409.6l2.8,-0.8M403.4,439.6l1,-0.3M489.9,428.8l2.5,-0.7M426.1,405.8l0.8,-0.2M374.7,418l3.1,-0.9M345.1,417.4l2.6,-0.7M418.9,443.8l1,-0.3M505.8,425.4l3,-0.8M381.7,441.5l2.6,-0.7M472.8,421.4l2.6,-0.7M476.6,410.8l1.9,-0.5M433.6,419.2l2.7,-0.8M479.8,415.4l1.5,-0.4M499,430.1l1.6,-0.5M394.1,403.2l2.3,-0.6M468.4,442.8l2.5,-0.7M407.5,446.8l2.4,-0.7M385.6,432.2l1.5,-0.4M437.5,412.7l2.1,-0.6M357.5,432.4l2.7,-0.8M482.2,425.5l2.7,-0.8M361,414.7l1.9,-0.5M441.9,407.2l1.3,-0.4M376,407.4l0.9,-0.3M394.6,403.1l2.3,-0.6M378,441l2.1,-0.6M402.7,432.8l1.3,-0.4M391.6,412.2l1.7,-0.5M449.6,423.8l1.5,-0.4M404.7,437.8l2.6,-0.7M408.2,410.6l2.6,-0.7M451.7,437l3,-0.8M497,436.5l1.7,-0.5M417.1,412.2l1.1,-0.3M349.7,425.3l2.4,-0.7M460.6,407.8l2.7,-0.8M407.5,432.1l1.6,-0.4M340.9,419.7l2.9,-0.8M350.3,433l3.2,-0.9M443.5,412.2l1.9,-0.5M415.4,458.2l1.9,-0.5M381.8,446.8l3,-0.8M429,413.5l1,-0.3M340.4,421.5l2.7,-0.8M507.1,430.8l2.1,-0.6M419.2,400.2l2,-0.6M461.9,433.1l2.2,-0.6M354.6,423.5l1,-0.3M393.2,429.6l3.1,-0.9M413.6,399.1l1.1,-0.3M436.6,396.1l1.3,-0.4M440.4,427l1.8,-0.5M369.6,430.9l2.5,-0.7M423.2,417.3l2.8,-0.8M378.1,410.8l1.6,-0.5M473.1,439.6l1.3,-0.4M364.6,439.3l2,-0.6M345.5,419.5l2,-0.6M393.7,436.3l2.2,-0.6M429.5,411.6l0.9,-0.3M446,441.3l1.2,-0.3M419.4,413.1l1,-0.3M426.4,451.4l1.8,-0.5M381.5,409.6l3.1,-0.9M359.9,423l2.1,-0.6M394.5,442.7l1.3,-0.4M402.3,438.2l0.9,-0.2M480.8,422.1l2.7,-0.8M420.6,449.4l1.5,-0.4M444.3,426.2l2.3,-0.6M397.3,436.3l1.4,-0.4M337.7,422.7l2.2,-0.6M430,396.9l3.1,-0.9M445.1,396.5l2.3,-0.6M367.6,409.2l1.7,-0.5M357.8,431.6l1.4,-0.4M375.9,407.6l2,-0.5M447.7,401.4l2.9,-0.8M456.7,416.2l1.6,-0.5M475.5,427.3l1.6,-0.5M426.5,440.3l1.2,-0.3M372.4,434.6l2.5,-0.7M401.4,415.6l2.7,-0.8M477.1,416.9l2.5,-0.7M466.2,426l2.5,-0.7M469,439.9l2.4,-0.7M430.8,426.7l3.1,-0.9M370.9,427.3l2,-0.6M430.8,411.3l2.3,-0.7M347.7,414.5l2.3,-0.6M434.2,415.8l1.9,-0.5M411.1,403.8l3.1,-0.9M401.1,405.3l2.3,-0.6M432.9,430.2l2,-0.6M506.2,434.1l1.8,-0.5M468.2,433.3l2.7,-0.8M416.9,459.7l1.3,-0.4M435.8,404.7l3,-0.8M397.9,415l2.9,-0.8M451.4,432.1l2.9,-0.8M412.8,456l3.1,-0.9M417.9,413.6l2.6,-0.7M383.4,423.4l3,-0.8M501.1,422.7l1,-0.3M460.5,423.4l3.1,-0.9M417.2,441.9l1,-0.3M367.9,419.9l2.2,-0.6M368.1,429.5l1,-0.3M473.9,423.4l1.1,-0.3M478,411.2l1.7,-0.5M460.7,417.4l0.9,-0.2M485.3,432.4l2.6,-0.7M408.5,419.6l3.1,-0.9M338.5,420.9l2.3,-0.7M421.7,455.4l1.3,-0.4M451.9,415l2.2,-0.6M385.9,446.4l1.3,-0.4M455.3,422.2l1,-0.3M367.1,414.8l1.8,-0.5M371.5,429.3l1,-0.3M486.2,417.4l2.3,-0.7M416.4,454.7l2.3,-0.6M450.3,409.3l2.2,-0.6M479.1,417.3l3.1,-0.9M384.9,412.8l1,-0.3M396.9,436.9l2.5,-0.7M355.1,435.3l2.9,-0.8M365,417.7l2,-0.6M415.7,399l2.5,-0.7M403.8,406.2l1.1,-0.3M379.6,439.8l1.5,-0.4M423.5,422.3l2.4,-0.7M440.5,448.4l1.6,-0.5M424.8,406.3l1.7,-0.5M363.6,423.6l1.8,-0.5M444.4,441.5l2.8,-0.8M429.5,422l1.4,-0.4M440.3,414.9l1,-0.3M391,431.6l1.5,-0.4M375,428.6l2.2,-0.6M354.2,415.2l1.4,-0.4M433.3,402.1l2.4,-0.7M414.4,453.2l1.3,-0.4M407.9,417.8l2.8,-0.8M491.7,428.1l0.8,-0.2M364.2,411.5l1.8,-0.5M364,410.2l1.1,-0.3M421.9,450.2l1.6,-0.4M434.3,401.4l1.1,-0.3M386.2,432.1l1.4,-0.4M488.9,439.3l2.6,-0.7M464.2,404.7l3.1,-0.9M403.6,439.9l0.9,-0.3M425,428l2.9,-0.8M500.8,436.2l1.4,-0.4M476.6,442.1l0.9,-0.2M449.5,399.3l2.7,-0.8M461.4,430.5l0.9,-0.2M437.1,450l2.7,-0.7M424.8,427.7l2.1,-0.6M496,432.3l1.7,-0.5M416.2,450.4l1.6,-0.5M356.6,432.7l1.8,-0.5M433.2,390.6l2.8,-0.8M371.7,438.7l1.4,-0.4M422.7,443.4l1,-0.3M425.4,420.3l1.1,-0.3M418.7,418.9l2.6,-0.7M470.1,406.4l1.4,-0.4M396.7,449.3l3,-0.8M389.8,437.9l2.8,-0.8M413.7,453.1l2.9,-0.8M445.5,449.1l2.7,-0.8M449,432.7l1.7,-0.5M442.4,408.1l2.7,-0.7M412,457.6l2.2,-0.6M408.5,443.1l0.9,-0.2M487.8,433l2.5,-0.7M401.6,420.8l2.8,-0.8M413.3,402.1l2.5,-0.7M470.6,409.9l2.3,-0.6M421,451.1l1.8,-0.5M404.9,417.3l2.6,-0.7M510.7,432.9l2.8,-0.8M489.5,437.9l2.6,-0.7M377.6,411.9l2,-0.6M434.4,396.9l1.7,-0.5M353.9,428.4l2.1,-0.6M459.3,404.9l2.3,-0.7M378.3,433.7l0.9,-0.3M451.4,429.9l2,-0.6M413.2,428.8l3,-0.8M354.7,416l2.7,-0.8M388.1,423.5l1.8,-0.5M434.6,409.2l1,-0.3M451.6,421.3l1.6,-0.5M425.9,439.7l2.3,-0.6M368.4,415.2l2.1,-0.6M428.2,431.4l0.9,-0.2M467.2,415.8l1.5,-0.4M411.6,410l1.4,-0.4M341,422.8l2.3,-0.6M485.8,432.8l2.2,-0.6M493.8,430.1l1.4,-0.4M466,405.9l3.1,-0.9M449.4,427.4l1.6,-0.5M368.8,414.3l1.4,-0.4M451.5,426.2l2.3,-0.6M401.5,458.3l1.3,-0.4M374.1,413.4l3,-0.8M453.7,415l1.2,-0.3M444,410.3l1.5,-0.4M453.5,432l2.4,-0.7M367,410.8l3.2,-0.9M387.2,427.6l3.2,-0.9M452.5,423.2l2,-0.5M420.8,434.3l1.5,-0.4M374.3,425.8l2.5,-0.7M344.6,420.9l2,-0.6M496.1,437l2.4,-0.7M410.3,444.9l2,-0.6M384,405.3l0.9,-0.2M347.4,421.9l1.6,-0.5M389,433.6l1,-0.3M441.2,396l3.2,-0.9M417,454.2l1.3,-0.4M400.5,456.5l1.2,-0.3M487.7,417.2l3,-0.8M431.5,445.6l2.6,-0.7M504.8,431l3.1,-0.9M477.3,427.4l2.5,-0.7M424.4,420.3l3,-0.8M375.5,443.6l1.9,-0.5M477.8,434.4l2,-0.5M488.5,435.5l1.3,-0.4M481.5,422.3l0.8,-0.2M452.2,445.8l2.8,-0.8M361.1,411.4l1.5,-0.4M416.5,409.2l2.7,-0.8M481.6,419l1.1,-0.3M393.5,420.1l2.7,-0.8M498.2,420l2.9,-0.8M452.3,419.4l2.8,-0.8M444.7,420.9l2.8,-0.8M412.4,450.1l0.9,-0.2M475.9,424.3l1.3,-0.4M481.5,432l1.2,-0.3M411.2,406.6l2.3,-0.6M439.8,398.9l1.3,-0.4M501.2,425.4l1.1,-0.3M445.4,432.4l3,-0.8M408.1,426.2l1.4,-0.4M432,445.6l3,-0.8M426.9,394.4l0.8,-0.2M492.4,420.7l1.6,-0.4M420.8,432.2l1,-0.3M450.9,439.8l2.7,-0.8M345.4,417.3l1.4,-0.4M396,453.7l0.9,-0.2M399.6,424.3l2.8,-0.8M424,448.7l2.6,-0.7M440.6,411.5l2.4,-0.7M382.8,409.1l1.8,-0.5M425.5,422.3l2.5,-0.7M416.6,421.1l2.8,-0.8M403.6,442.8l1.1,-0.3M454.1,402.1l1.7,-0.5M507.3,426.6l2.5,-0.7M439.2,412.6l2,-0.6M461.4,444.2l2.3,-0.7M453.1,429.2l1.2,-0.3M420.5,430.8l2.4,-0.7M413,446.2l1.7,-0.5M454,401.2l2,-0.6M470.8,409l2.7,-0.7M453.6,440.4l1.1,-0.3M365.1,433.6l1.8,-0.5M416.3,424.4l3.1,-0.9M387.9,437.6l1.2,-0.3M439.8,432.6l1.8,-0.5M412.1,428.3l2.4,-0.7M379.9,443.8l2,-0.6M410.8,412.9l1.9,-0.5M497.2,421.8l2.6,-0.7M433.6,430.3l1.1,-0.3M408.2,444.7l1.7,-0.5M403.4,436.6l2.9,-0.8M479.9,412.7l0.9,-0.2M399.8,429.9l2.2,-0.6M445.6,428.9l3.1,-0.9M403.1,427.4l2.6,-0.7M401.4,435.2l3,-0.8M351.6,427.9l2.1,-0.6M497.6,431.4l2.8,-0.8M433.4,429.9l1.5,-0.4M387.9,413.8l2.8,-0.8M481.5,412.8l2.7,-0.8M436.7,424.6l1.8,-0.5M494.8,431.9l1.2,-0.3M476.8,436.6l1.7,-0.5M434.7,438.2l2.5,-0.7M437.9,421.8l3,-0.8M453.7,442.4l1.7,-0.5M459.8,429.3l1,-0.3M398.7,433.1l2.4,-0.7M371.7,418.5l1.4,-0.4M411.5,414.7l2.9,-0.8M451.2,426.9l2.6,-0.7M405.4,423.5l2.4,-0.7M426.3,405.7l3,-0.8M406.2,455.1l3,-0.8M357.7,426.1l2.3,-0.6M373.6,429.6l2.3,-0.6M430,426.1l2,-0.6M463.9,421.8l2.5,-0.7M477.1,423.9l1.9,-0.5M391.1,443.7l1,-0.3M439.1,418.1l1.4,-0.4M438.1,451.2l2,-0.6M473.1,409.6l1.2,-0.3M416.7,411.3l1.7,-0.5M368,430.9l3,-0.8M426.7,420.9l1.4,-0.4M415.4,456l2.5,-0.7M389.4,406.9l1.6,-0.4M454.2,446.1l2.8,-0.8M353,414.8l3.2,-0.9M359.7,434.9l1.4,-0.4M414.2,419.2l1.7,-0.5M403.3,418.5l1.9,-0.5M397.9,412.2l2.2,-0.6M456,421.2l1.9,-0.5M448.2,400l1.1,-0.3M396.7,420.3l1.8,-0.5M438.8,402.5l1.5,-0.4M439.1,424.2l1.1,-0.3M375.6,434.5l2.1,-0.6M482.2,424l3.1,-0.9M385.3,411.2l2.4,-0.7M462,406.6l2,-0.6M405.5,454.5l1.7,-0.5M477.4,423.1l2,-0.6M482.5,432.2l1.8,-0.5M442.3,433.8l1.1,-0.3M495.5,431.3l2.9,-0.8M431.4,406.1l0.9,-0.2M400.5,432l2,-0.6M418.4,419.4l1.8,-0.5M462.5,431.4l1.5,-0.4M367.6,421.6l1.6,-0.4M416.8,422.5l2.6,-0.7M436.9,453l1.5,-0.4M368.8,442l2.3,-0.7M394,403.8l2.2,-0.6M468,405.5l1.5,-0.4M337.5,418.3l1.4,-0.4M469.9,427.9l1.6,-0.5M417.4,452.1l1.3,-0.4M432.5,427.6l2.7,-0.8M451.7,405.2l2.3,-0.6M447.2,431.2l1.3,-0.4M478,414.4l0.8,-0.2M386.7,424.8l1.4,-0.4M462.5,432.2l1.1,-0.3M482.7,422.2l1,-0.3M393.3,402.8l2.9,-0.8M427.7,427.6l1.8,-0.5M474.8,415.5l2.2,-0.6M439.8,436.9l2.9,-0.8M446.6,436.5l1.5,-0.4M459.7,402.5l2.3,-0.7M388.6,407.5l1.8,-0.5M406.8,436.6l3,-0.8M458.2,414.7l1.4,-0.4M460.9,440.2l2.1,-0.6M467,409.1l2.2,-0.6M410.3,431.5l1.9,-0.5M397,418.1l1.4,-0.4M371.6,412.6l0.9,-0.2M391.1,445.2l3,-0.8M381.5,425.4l2.1,-0.6M430.2,410.1l1.5,-0.4M407,457.5l0.9,-0.3M476.5,435.5l1.4,-0.4M419.2,436l2,-0.6M408.1,415.2l2.4,-0.7M424.7,447.6l2.2,-0.6M470.6,416.7l2,-0.5M501.5,427.3l1.8,-0.5M467.5,407.1l2.2,-0.6M456.6,418.2l2.3,-0.6M442.1,421.5l1.4,-0.4M357.1,436.2l2.5,-0.7M476.8,431.6l3.1,-0.9M400.3,448.6l1.6,-0.4M414.5,455.4l2.9,-0.8M408.3,449l1.3,-0.4M459.7,430.4l0.9,-0.2M390.2,436.8l2.9,-0.8M371,442.6l1.7,-0.5M426.8,392.9l2.9,-0.8M385.3,450.4l3.1,-0.9M419.7,411.3l2.6,-0.7M384.5,440.3l1.4,-0.4M400,447.1l1.7,-0.5M449.2,446.3l1.2,-0.3M418.6,436.6l2.7,-0.8M448.3,409.8l2.8,-0.8M400.7,411.1l1.9,-0.5M437.1,397.3l1.6,-0.5M382.8,444.2l3.1,-0.9M484.3,439.6l1.1,-0.3M433.1,433.4l1.9,-0.5M359.6,425.2l2.8,-0.8M459.4,422.2l2.6,-0.7M420,420.1l1.5,-0.4M428.1,434.3l2.7,-0.8M391.7,420.9l1,-0.3M351.5,415.8l0.8,-0.2M402.8,426.4l2.9,-0.8M438.5,391.7l1,-0.3M434.9,443.7l1.4,-0.4M415.9,434.8l0.8,-0.2M411.5,404.9l2.5,-0.7M436.9,453.8l2.6,-0.7M411.2,418.8l1.5,-0.4M461.9,409.1l1.4,-0.4M462.3,409.8l1.9,-0.5M453.2,437.5l1.6,-0.5M458.7,429.9l1.7,-0.5M419.1,459l2.8,-0.8M465.2,428.2l1.9,-0.5M392.6,450.3l2.4,-0.7M443.5,443.6l2.6,-0.7M439.6,433.7l2.6,-0.7M378.7,437.1l2.1,-0.6M406.5,446.7l1.9,-0.5M396.4,454.8l2.9,-0.8M394.7,423.9l2.5,-0.7M405.1,435.4l1.2,-0.3M459.9,410.2l3.2,-0.9M463.3,428.5l2.4,-0.7M419.8,453.4l1.1,-0.3M397.9,455l2.1,-0.6M461.6,408.6l2.3,-0.6M350.4,428.2l1.9,-0.5M423.5,428.9l2.2,-0.6M369.7,412.2l2.8,-0.8M369.8,426.9l1.2,-0.3M501.6,432.1l1.8,-0.5M393.4,422.9l2.9,-0.8M508.4,428.2l2.9,-0.8M394.9,445.2l3.1,-0.9M421.4,404.6l1.7,-0.5M401.2,401.8l1.4,-0.4M419.8,451.7l2.4,-0.7M366.4,437.4l1.5,-0.4M437.5,409.3l2.7,-0.7M422.2,454.1l1.3,-0.4M391.8,426.2l1.3,-0.4M388.6,451.7l2.1,-0.6M370.6,416.6l1.5,-0.4M469,410.4l2.6,-0.7M471.9,407.4l1.4,-0.4M411.6,408.7l2.6,-0.7M442.6,434.7l2.5,-0.7M459,404.7l2.6,-0.7M452.8,436.8l3,-0.8M470.9,410.3l1.9,-0.5M440.6,450l2,-0.6M433.5,426.6l2.8,-0.8M416.5,450l2.5,-0.7M414.2,429.8l1.1,-0.3M512.6,427.1l2.5,-0.7M381.9,441.8l1.6,-0.4M361.7,431.8l1.7,-0.5M401.6,423l1,-0.3M442.3,396.4l2.1,-0.6M394.3,416.4l1.7,-0.5M385.2,435.3l2.6,-0.7M474,439.4l3.1,-0.9M453.7,437.5l2.1,-0.6M424.1,437.7l1,-0.3M454.3,413.8l2.4,-0.7M420.4,396.6l0.9,-0.3M388.1,436.7l1.5,-0.4M412.9,411.1l2.5,-0.7M456.1,441.3l0.9,-0.3M336.8,419.9l1.1,-0.3M372.3,418.9l1.2,-0.3M436.8,444.5l2,-0.5M411,447.5l2,-0.6M382.1,407.4l3,-0.8M406.2,434.7l2.3,-0.6M422.7,425.9l2.3,-0.7M484.6,422.1l3.1,-0.9M496.9,434.9l2.4,-0.7M413.8,447.7l1.3,-0.4M444.7,441.8l0.8,-0.2M402.4,447.3l1.5,-0.4M423.6,452.8l2.8,-0.8M436,406.9l1.7,-0.5M448.7,422.5l2.5,-0.7M417.1,408.3l1.2,-0.3M432.4,406.5l1.2,-0.3M372,434.4l2.2,-0.6M379.5,416.8l3.1,-0.9M418.2,423.5l0.9,-0.2M358.3,428.4l2.3,-0.6M357,421.7l1.1,-0.3M460.3,430.8l1.5,-0.4M381.8,425.2l2.1,-0.6M387.3,440.2l1.2,-0.3M408.7,437.9l2.4,-0.7M350,425.1l1,-0.3M457.3,439.2l0.8,-0.2M425.3,415.7l1.3,-0.4M395.3,454.9l2.1,-0.6M394.1,438.6l3.2,-0.9M385.1,439.3l2.6,-0.7M403.1,400.7l2.8,-0.8M380.9,446.5l1,-0.3M489.9,428.3l1.4,-0.4M494.4,433.4l1.1,-0.3M400.8,456.9l1.6,-0.4M365.4,422.9l2,-0.6M436.6,392.4l1.3,-0.4M421.6,437.9l3,-0.8M427.5,428.3l2.6,-0.7M422.5,429.8l1.2,-0.3M462.7,434l1.9,-0.5M460.3,446.9l2.6,-0.7M378.4,416.4l2.3,-0.6M458.1,400.2l3.2,-0.9M459.7,424.8l1.5,-0.4M486.5,425.5l1.9,-0.5M445.7,423.6l1.4,-0.4M348.4,417.1l2.1,-0.6M474.4,420.1l1.4,-0.4M385.5,414.7l1.2,-0.3M401,416.2l2.4,-0.7M352.5,419.8l1.9,-0.5M388.1,436.8l2.4,-0.7M480.4,413.8l3.1,-0.9M387.3,443.9l2.1,-0.6M378.4,423.3l1,-0.3M456.6,428.6l1.5,-0.4M455.3,399.2l2.1,-0.6M410.9,441.8l3.1,-0.9M442.3,434.4l1.1,-0.3M363.9,438.1l1.3,-0.4M403,449.5l1.3,-0.4M461.9,404.5l1.2,-0.3M419.3,421.3l0.9,-0.3M379.7,441.9l1.6,-0.4M463.6,402.8l1.9,-0.5M386.5,422.9l1.5,-0.4M373.3,417.7l2.5,-0.7M379.8,428.2l0.9,-0.2M424.5,443.9l1.4,-0.4M505.1,425.2l2.1,-0.6M424,397.5l2.6,-0.7M357.9,412.6l2.8,-0.8M384.3,434.9l3.2,-0.9M362.3,424l2.5,-0.7M487.5,439.2l0.8,-0.2M349.9,415.1l2.4,-0.7M418.5,456.7l2.4,-0.7M384.7,447.8l3,-0.8M392.8,422.1l2.7,-0.8M440.6,423.5l0.9,-0.3M393.7,441.8l2.8,-0.8M462.8,432.3l2.3,-0.7M500.3,434.9l2.5,-0.7M356,435.4l3.2,-0.9M334.3,422.3l2.2,-0.6M458.4,447.6l1.3,-0.4M343.8,416.7l1.7,-0.5M383.9,426.8l2.9,-0.8M519,431.1l1.3,-0.4M401.7,444.4l1.9,-0.5M402,431.6l2.7,-0.8M433,404.7l2.6,-0.7M386,444.4l1.1,-0.3M500.4,423.8l1.4,-0.4M465.9,424.4l2.9,-0.8M358.6,420.1l1,-0.3M423.2,438.1l2.5,-0.7M409.8,407.6l1.5,-0.4M427.7,420.4l3.1,-0.9M428.4,404.2l0.9,-0.3M417.4,406.3l1,-0.3M495.5,427.5l1.3,-0.4M457.1,429.5l3.1,-0.9M407.5,429.7l2.9,-0.8M449.5,403.2l1.7,-0.5M452.6,411.4l2.6,-0.7M413.8,407.8l3.2,-0.9M420.8,419.8l2.4,-0.7M429.1,438.2l1.7,-0.5M409.5,408.5l1.6,-0.4M395.8,451.9l2.6,-0.7M435.4,400.2l2.8,-0.8M365.4,432.5l1.3,-0.4M451.8,398.7l2.7,-0.8M327,421.7l2.1,-0.6M424.8,422.2l2.8,-0.8M410.4,451.1l3.1,-0.9M415.9,425l1.2,-0.3M365.3,424.9l1.5,-0.4M399.3,435.2l1.4,-0.4M341.2,423.4l3,-0.8M412.2,424.7l1.1,-0.3M409.1,460.9l2.7,-0.8M360.1,413.7l2,-0.6M441.9,417.5l2.2,-0.6M391.2,447.7l1.5,-0.4M401.5,417.1l1.8,-0.5M347.6,421.4l0.9,-0.3M401.5,402.8l3.1,-0.9M396.7,439.1l2.3,-0.6M397.9,432.4l2.7,-0.8M380.8,422.1l0.9,-0.3M448.4,401.8l2,-0.5M441.1,435.4l1.4,-0.4M411.4,419.5l1.5,-0.4M370.6,441.3l1.7,-0.5M387.7,410.6l2.1,-0.6M499.6,430.8l2.9,-0.8M395,429.9l2.8,-0.8M376.8,413.9l0.9,-0.3M476.9,430.8l3,-0.8M433.9,402.2l2.5,-0.7M420.2,429.4l2.7,-0.8M470.6,410.6l3,-0.8M415.8,419.1l1.8,-0.5M496.7,431l1.8,-0.5M390.9,426.1l2.4,-0.7M450.4,428.7l2.1,-0.6M381.8,448.3l1.9,-0.5M465,426.4l2.8,-0.8M447.4,401l3.1,-0.9M469.1,420.6l1.3,-0.4M364.4,421.8l2.1,-0.6M439.3,446.6l3,-0.9M399.6,453.7l0.9,-0.2M465.1,446.2l2.7,-0.7M431.4,446.7l0.8,-0.2M502.5,427.2l1.8,-0.5M381.5,447.7l3.1,-0.9M486,415.2l2.5,-0.7M374.7,430.1l2,-0.6M457.6,439.6l2.1,-0.6M359.2,425.4l1.4,-0.4M402.9,418.6l3.1,-0.9M372.8,424.9l2.6,-0.7M430.2,452l1.5,-0.4M366.1,436.1l1,-0.3M398.5,435.9l1.4,-0.4M446.7,438.8l2.2,-0.6M463.3,424.5l3,-0.8M419.1,457.2l2.6,-0.7M339.5,418.3l1.4,-0.4M352.2,421.5l1.4,-0.4M481.6,429.5l2,-0.6M454.9,420l2.2,-0.6M382.3,409.7l1.3,-0.4M474,409.5l1.3,-0.4M416.9,415.9l2.4,-0.7M394.4,421.1l2,-0.6M408.6,457.6l2.9,-0.8M474.4,415l1.7,-0.5M381.9,446.9l1.3,-0.4M416.2,437.2l2,-0.6M470.6,443.6l2.4,-0.7M400.3,436.2l3.2,-0.9M359,435.8l1.8,-0.5M382.4,431.5l1.8,-0.5M436.1,394.3l2,-0.6M410,415.5l2.2,-0.6M448.2,411.4l1.9,-0.5M488.7,434.7l2.5,-0.7M417,405.5l3.2,-0.9M398.1,453l1.5,-0.4M399,400.1l2.9,-0.8M457,428.2l2.1,-0.6M447.6,433.7l2.7,-0.8M390.2,412.6l2.3,-0.6M393.1,406.1l3,-0.8M414,401.4l2.5,-0.7M508.4,427l2.3,-0.7M428.2,430.5l1.9,-0.5M413.2,435l2.7,-0.8M419.4,429.7l2,-0.6M478.4,423.7l2.8,-0.8M411.8,442.4l0.8,-0.2M343.7,423.3l2,-0.6M383.8,409.2l2.6,-0.7" stroke="#1a1a1a" stroke-width="0.5" opacity="0.6"/>
<g fill="#fdfdfd" stroke="#262626" stroke-width="0.38" stroke-linejoin="round"><path d="M373.3,407.2L373.3,407 378.5,404.9 382,402.6 384.3,400.2 387.2,396.8 389,394.5 389.5,393.2 393.6,388.4 394.2,387.3 394.8,386.8 395.3,386.7 395.9,386.3 396.5,385.7 397.1,385.9 397.7,385.4 398.2,385.8 398.8,385.2 400.6,385 401.1,385.2 402.9,386.4 404,386.3 404.6,386.7 405.2,386.3 405.8,387 411,389.9 416.2,392 419.7,392.5 422,392.4 426.1,392 429.6,391.3 429.6,391.4Z"/><path d="M351.1,414.2L351.1,414 354.6,412.4 356.3,411.2 358.1,409.5 361,405.4 365.6,397 366.2,396.3 366.8,396 367.9,394.6 369.7,394.6 370.8,395.2 372,396.4 372.6,397.6 374.3,399.5 374.9,400.6 376.1,402 378.4,403.3 379.5,403.4 380.7,403.2 383.6,401.5 385.9,399.2 394,387.7 394.6,386.9 395.2,386.7 396.4,384.9 396.9,385.4 397.5,384.7 398.7,384.1 399.3,384.3 399.8,383.5 400.4,384.2 402.2,383.9 403.3,384.9 403.9,384.8 404.5,385.2 405.1,385.1 407.4,386.8 408,386.9 409.1,387.5 409.7,388.3 410.3,388.5 410.9,389.1 411.4,389.3 412.6,390.2 417.2,392.2 420.1,392.8 423,392.9 426.5,392.5 430.6,391.7 430.6,391.9Z"/><path d="M350.4,415.2L350.4,415 353.3,413.7 355,412.4 356.8,410.4 357.9,408.6 359.7,404.5 362,397.5 366,381.1 366.6,379.9 367.8,376.4 368.4,375.8 368.9,374.5 369.5,374.2 370.1,374.1 371.3,374.6 371.8,376.1 373,379.8 375.3,388.7 377.6,396.5 378.2,397.5 378.8,399 380.5,400.9 381.7,401.5 382.9,401.4 384,401 385.8,399.7 389.2,395.6 394.5,387.6 396.8,385 397.4,384.8 397.9,384 398.5,383.8 399.1,383.2 399.7,383.8 400.3,383.7 401.4,383 403.2,383.9 403.7,383.8 404.9,384.5 405.5,384.6 407.2,385.9 408.4,386.4 410.7,388.5 412.4,389.4 413,390 413.6,390.1 414.8,391 415.9,391.6 418.8,392.8 422.3,393.3 424.6,393.3 427.5,393 431.6,392.2 431.6,392.4Z"/><path d="M351.4,415.6L351.4,415.5 354.3,414.1 356.6,412.1 358.4,409.6 360.1,405.7 362.4,397.9 367.1,375.8 368.2,371.4 369.4,368.1 370,366.8 370.5,366.1 371.1,366.1 371.7,366.5 372.9,369.2 373.4,371 375.2,378.6 376.9,387.5 378.1,392.4 379.2,396.1 380.4,398.8 381.6,400.4 382.7,401 383.3,401.3 383.9,401.2 385.6,400.6 387.4,398.9 387.9,398 389.1,396.9 390.3,394.9 390.8,394.3 392,392.4 393.7,388.8 394.3,388.5 395.5,386.3 396.1,385.9 396.6,384.9 397.2,384.5 397.8,383 398.4,383.4 399.5,382.1 400.7,381.8 401.9,382 403,382 404.2,382.3 405.3,383.3 405.9,383.1 406.5,383.8 407.1,383.8 407.7,384.2 408.2,385.2 408.8,385.2 410,386.4 410.6,387.4 411.7,388 413.5,389.6 415.2,390.6 416.4,391.6 416.9,391.5 417.5,392.1 419.3,392.9 422.2,393.6 423.9,393.8 427.4,393.6 432.6,392.7 432.6,392.9Z"/><path d="M351.8,416.3L351.8,416.1 354.7,414.6 355.9,413.7 357,412.3 358.8,409 360.5,404 361.7,399.2 363.4,389.8 367.5,360.6 369.2,349.5 371,342.3 372.1,341.1 372.7,341.7 374.4,347.9 377.3,370.1 379.7,386 381.4,393.5 382,395.3 383.1,397.6 384.3,398.7 384.9,399.1 385.5,399 386,399.2 387.2,398.3 389.5,395.8 390.7,393.5 393,390 394.2,387.2 394.7,386.6 395.3,385.1 395.9,384.3 396.5,383.8 397.1,382.5 398.8,380 399.4,380 400.5,379 401.7,378.6 402.3,378.6 402.9,378.8 403.4,378.7 404,378.4 404.6,378.9 405.2,379.1 406.3,380 406.9,380.8 408.1,380.9 408.7,382.4 409.2,382.4 409.8,383.4 410.4,383.6 412.1,385.9 413.3,386.6 413.9,387.5 416.8,390.4 417.4,390.5 419.1,392 420.8,392.9 423.2,393.7 426.1,394.1 429,394 433.6,393.2 433.6,393.4Z"/><path d="M352.3,416.9L352.3,416.8 354,416.1 355.7,415 356.9,413.9 358.1,412.4 359.8,408.5 361,404.9 362.7,396.8 364.4,386 370.2,338.2 372,329.9 372.6,329.4 373.1,328 373.7,328.5 374.3,330 375.5,335.9 376.6,344.8 379.5,371.7 381.3,384.2 383,392.3 383.6,394.2 384.7,396.8 385.9,397.8 386.5,397.5 388.2,397.3 389.4,395.8 390,394.4 390.5,394.3 393.4,388.6 394,387.1 395.2,385.3 396.9,381.2 398.1,379.8 399.2,377.5 399.8,377.2 401.6,375.6 403.3,375.3 403.9,375.2 404.5,375.6 405.6,375.8 406.8,377.1 407.4,377.1 409.1,378.9 409.7,379.2 410.3,380.6 410.8,380.5 412.6,383.3 414.3,385.3 414.9,386.5 415.5,386.9 416.1,387.9 416.6,387.9 417.2,389 420.7,392.2 424.8,394.1 427.1,394.4 430.6,394.3 435.2,393.5 435.2,393.7Z"/><path d="M353.3,417.4L353.3,417.3 356.2,416 358.5,414.1 360.8,410.1 362.6,405.2 363.7,400.2 366,385.7 371.3,343.7 373,334.6 374.2,332.7 374.7,332.5 375.3,334.2 375.9,336.1 376.5,339.5 377.6,347.8 381.7,382.8 382.9,389.2 384.6,395.7 385.8,397.6 386.3,398.2 387.5,398.8 389.2,397.8 389.8,396.8 390.4,396.2 391.6,394.6 392.7,392.4 395,387.5 396.8,383.3 399.1,378.6 401.4,375.4 402.6,375.1 403.2,374.4 404.3,374.3 405.5,374.5 406.6,375.2 407.2,376 407.8,376 408.4,376.9 409.5,377.9 411.9,381.3 412.4,381.7 413,382.9 414.2,384.1 414.8,385.1 415.3,385.5 417.1,388.5 417.7,388.8 420.6,391.9 422.3,393.1 423.5,393.8 425.2,394.5 429.3,395.1 433.3,394.6 436.2,394 436.2,394.2Z"/><path d="M354.9,417.8L354.9,417.6 357.8,416.2 360.1,413.9 360.7,413.1 362.4,409.3 363.6,405.5 364.7,400.9 365.9,394.8 368.2,378.9 371.7,351.5 372.8,344.5 374,339.2 375.2,336.7 375.7,336.4 376.9,339.5 377.5,342.3 382.1,378.3 383.9,388.9 385,393.6 385.6,395.3 386.8,397.4 387.3,397.6 387.9,398.2 388.5,397.8 389.1,398 390.8,396 391.4,395 392,394.4 393.7,390.6 394.3,389.7 396,385.2 397.8,381.4 398.9,378 400.1,376.4 402.4,372.5 403,371.9 403.6,371.9 404.2,371.4 405.9,371.4 406.5,371.7 407.1,372.6 407.6,372.5 408.8,374.2 409.4,374.2 411.1,377 411.7,377.3 413.4,380 414,380.5 414.6,382 416.3,384.3 417.5,386.5 418.1,387 418.7,388.2 419.2,388.7 419.8,389.8 420.4,390.5 421,390.8 422.7,392.7 425.6,394.5 427.9,395.2 431.4,395.4 436.6,394.6 436.6,394.8Z"/><path d="M355.9,418.2L355.9,418.1 357.6,417.4 359.4,416.3 359.9,415.9 361.7,413.9 363.4,410.6 365.2,404.8 366.3,400 367.5,394 373.3,352.1 374.4,346.2 375.6,342.3 376.2,341.2 377.3,341.5 378.5,345.9 379.7,353 383.1,380.4 384.3,387.1 385.5,392.6 386.6,396.5 387.8,398.2 388.9,399.1 390.7,398.3 391.3,397.6 391.8,396.3 392.4,395.7 394.2,392.6 398.8,380.9 401.7,374.5 402.3,373.9 402.9,372.4 404.6,371.1 405.8,371 406.3,371.1 406.9,371.6 407.5,371.6 408.1,371.9 409.2,372.8 412.1,377.1 412.7,377.2 413.9,379.3 414.5,380.8 415,381.3 415.6,382.6 417.4,385 417.9,386.4 418.5,386.9 420.3,389.8 421.4,391.3 422,391.9 422.6,392.2 423.2,393 424.9,394.2 426.6,395.1 429.5,395.9 431.3,396 433.6,395.9 437.7,395.2 437.7,395.3Z"/><path d="M356.9,418.7L356.9,418.6 359.8,417.3 362.1,415.4 364.4,411.6 366.2,406.4 369.1,392.4 374.3,354.1 376.6,344.4 377.2,343.3 377.8,343 378.3,343.4 378.9,344.5 380.1,350 384.7,384.5 385.9,391 387.6,396.6 388.8,398.6 389.9,399.4 390.5,399.1 391.1,399.1 392.8,397.5 395.2,393.2 398.6,384.7 400.4,379.9 401.5,377.2 402.1,376.5 402.7,375 404.4,373.1 405,372.1 405.6,372.4 406.2,371.7 406.8,371.6 407.3,372.5 407.9,372.2 408.5,372.8 409.7,373.4 410.8,374.4 411.4,375.2 412,376.5 413.7,379 414.3,379.5 415.5,381.6 416,383.1 416.6,383.7 417.2,385.1 417.8,385.6 420.7,390 421.8,391.5 422.4,391.8 423.6,393.3 425.3,394.7 428.2,396.1 430.5,396.5 434,396.5 438.7,395.7 438.7,395.8Z"/><path d="M358.5,419.1L358.5,418.9 360.2,418.1 362,417 363.1,415.9 364.3,414.4 366.6,409.2 367.8,404.9 368.9,399.5 371.2,385.9 375.3,356 377,347.3 378.2,344.6 378.8,344.1 379.4,343.9 380.5,347.4 381.1,350.6 386.3,387.4 388.1,394.9 389.8,398.5 390.4,398.9 391.5,399.1 393.3,397.8 395,394.3 395.6,393.8 396.8,390.3 397.3,389.5 401.4,378.5 403.1,375 403.7,373.3 406,370.3 406.6,370.1 407.2,370.3 407.8,370 408.9,370.2 409.5,370.7 410.1,370.8 410.7,371.3 411.8,373.4 412.4,373.8 413,374.9 414.2,376.4 415.3,379.1 415.9,379.8 417.1,382.2 417.6,382.8 420,387 420.5,387.5 421.1,388.8 422.3,390.7 424,392.9 426.3,395 429.2,396.5 431.6,397 434.5,397 439.1,396.3 439.1,396.5Z"/><path d="M359.5,419.5L359.5,419.4 362.4,418 363.6,417.1 364.7,415.8 365.9,414.1 367,411.4 368.8,406 371.1,394.7 375.7,362 376.9,355.2 378.1,349.7 378.6,347.8 379.2,346.5 379.8,346 380.4,346.3 381,347.3 382.1,351.9 383.3,358.9 386.2,380.6 387.3,387.9 388.5,392.7 390.2,397.5 392,399.3 393.7,397.7 394.9,396.4 395.5,395.2 396,394.7 396.6,392.5 397.8,389.8 398.4,387.8 399.5,385.4 400.1,382.9 400.7,381.8 402.4,376.3 403,375.3 404.2,372.2 404.7,371.7 405.3,369.9 405.9,369.5 406.5,368.3 407.1,368.4 407.6,367.6 408.2,367.4 408.8,368.4 410.5,368.5 411.1,368.8 412.9,371.1 413.4,372.4 415.2,374.9 417.5,380.1 419.8,384.6 421,386.4 421.6,388 425,393 426.8,394.7 429.7,396.7 433.2,397.5 436.6,397.4 440.1,396.8 440.1,397Z"/><path d="M360.5,420L360.5,419.9 362.2,419.2 364,418.2 366.3,415.7 368,412.5 369.8,407.2 371.5,399.4 372.7,392.8 377.3,360.5 379.6,350 380.2,348.3 380.8,347.7 381.4,347.6 382,348.5 383.1,352.8 384.3,359.6 388.3,387.9 389.5,392.6 390.7,396.4 391.8,398.1 393,399.1 393.6,398.2 394.1,398.3 394.7,397.2 395.3,396.9 396.5,393.8 397.6,391.6 399.9,385 402.3,377.4 405.7,368.1 406.3,367.6 406.9,366.5 407.5,365.8 408.6,364.9 409.2,364.8 411,365.5 412.1,366.7 412.7,367.7 413.3,368 414.4,369.9 416.2,373.5 416.8,375.2 417.3,376 419.7,380.9 420.2,383 423.1,388.7 424.9,391.5 427.8,395.1 428.9,396.1 430.1,396.7 430.7,397.2 433.6,397.9 435.3,398.1 437.6,397.9 441.1,397.3 441.1,397.4Z"/><path d="M361.5,420.5L361.5,420.4 364.4,419.1 366.7,417.2 367.9,415.6 369.1,413.2 370.8,408.7 373.7,394.9 378.9,358.9 380.7,351.3 381.8,349.1 383,349.1 383.6,350.8 385.3,360 389.4,388.1 391.1,395 391.7,396.7 392.8,398.6 393.4,398.6 394,399 394.6,399 396.3,396.6 398.1,392.8 399.2,388.9 400.4,385.9 402.1,379.1 405,369.9 406.2,367.2 407.9,364.1 408.5,363.6 409.1,362.5 409.7,362.5 410.2,361.9 411.4,362.7 412,362.6 413.7,365.1 415.5,368.3 418.4,374.6 421.3,382.5 423,386.4 423.6,387.3 424.7,389.9 425.3,390.5 426.5,392.6 428.8,395.5 431.1,397.3 433.4,398.2 435.2,398.5 437.5,398.5 442.1,397.8 442.1,397.9Z"/><path d="M363.1,420.8L363.1,420.7 366,419.2 367.2,418.3 368.3,416.9 369.5,415 370.6,412.5 371.8,408.7 373.5,401.8 375.9,387.4 379.3,363.3 381.1,353.5 381.7,351.4 382.8,348.9 383.4,348.6 384,349 384.6,350.5 385.7,355.4 390.4,387.1 392.1,394.2 393.3,397.1 393.8,397.8 394.4,397.6 395,398.1 395.6,398 396.7,396 397.3,395.3 397.9,394 399.6,389.4 402,381.5 403.7,374.6 406.6,364.9 407.8,362 408.3,361.4 408.9,359.9 410.1,358.9 410.7,358.9 411.2,358.3 411.8,358.3 413.6,360.3 414.1,360.7 415.3,363 415.9,363.8 420.5,375.8 421.1,377.8 421.7,378.8 424,385.5 424.6,386.2 428.1,393.3 429.2,394.8 431.5,397.2 433.9,398.4 435,398.7 437.3,399 438.5,399 443.1,398.3 443.1,398.4Z"/><path d="M364.1,421.3L364.1,421.2 367,419.8 368.8,418.4 369.9,417 371.7,413.8 373.4,408.7 375.7,398.2 380.9,362.7 382.1,356.5 383.3,352.6 383.8,351.3 384.4,351.4 385,351.1 385.6,352.2 386.2,354.6 387.3,360.6 390.2,381.1 392,390.7 393.1,395.5 393.7,397.2 394.3,398.3 395.4,399.5 397.2,398.3 398.3,395.9 398.9,395.3 400.7,390.2 405.9,369.8 406.5,368.3 407,365.8 408.2,362.3 409.4,360 410.5,358.3 411.7,357.5 412.3,357.6 412.8,358 413.4,358 414.6,359.5 415.2,360 416.3,362.4 416.9,363.9 417.5,364.9 418.6,368.5 419.8,371.3 422.7,380.7 423.9,383.1 424.4,385.1 427.3,391.6 429.7,395.4 431.4,397.2 433.1,398.4 434.9,399.2 438.4,399.7 440.1,399.5 443.6,398.9 443.6,399.1Z"/><path d="M365.1,421.8L365.1,421.7 366.9,421 368.6,419.9 369.8,418.9 370.9,417.5 372.7,414.4 374.4,409 376.2,401.8 377.3,395 380.8,371.1 382.5,360.3 384.3,352.5 384.9,352.2 385.4,351.1 386.6,352.6 387.2,354 388.3,359.9 391.2,380.4 393.6,392.8 394.7,396.7 395.9,398.3 397,398.8 398.8,396.8 399.4,395.6 399.9,393.4 401.1,390.6 402.3,386.7 402.8,384 404,380.4 406.9,368 409.2,360.3 409.8,358.9 411.5,356.1 412.1,355.8 412.7,355.7 413.3,355.2 414.4,356.3 416.2,358.8 417.3,361.4 417.9,362.3 421.4,372.1 422.6,376.3 425.5,384.8 426.6,387.5 427.2,389.4 430.1,394.7 431.8,397 433.6,398.5 436.5,399.9 438.2,400.1 440,400.1 444.6,399.4 444.6,399.6Z"/><path d="M366.1,422.3L366.1,422.2 367.9,421.5 369.6,420.5 370.8,419.4 371.9,418.1 373.7,414.8 375.4,409.7 377.7,399.1 380.1,384.5 382.4,367.8 384.1,358 384.7,355.4 385.9,352.1 386.4,351.7 387,351.5 387.6,352.3 388.8,356.6 389.9,362.5 392.2,379.4 393.4,386.4 394.6,392 395.7,395.9 396.9,397.8 397.5,398.1 399.2,397 400.4,394.8 402.7,388.4 403.3,385.4 404.4,381.4 408.5,364.9 410.2,359.7 412,356.1 413.1,355.2 413.7,355 414.3,355 415.4,355.7 416.6,357.2 417.2,358.6 417.8,359.1 420.1,365 422.4,373.1 423.6,376 424.7,380.3 426.5,384.6 428.2,389.8 428.8,390.3 429.4,392.1 431.7,396.1 434.6,399 435.7,399.8 437.5,400.4 439.2,400.6 441,400.7 445,400 445,400.2Z"/><path d="M367.2,422.8L367.2,422.7 370.1,421.3 371.2,420.5 372.4,419.3 374.1,416.6 375.3,413.9 376.4,410.3 378.2,403 379.3,396.4 382.8,372.5 385.1,358.4 386.3,354.1 387.5,351.4 388.6,352 389.2,353.3 389.8,355.5 392.1,369.5 393.3,378.5 395,388.7 396.2,393.5 396.7,395.1 397.3,395.6 397.9,397.1 399.6,397.7 400.2,396.1 400.8,395.6 402,393.1 403.7,387.6 409.5,364.1 412.4,356.4 413.6,354.5 414.1,354.4 414.7,353.8 415.3,354 415.9,354.9 416.5,354.8 417,355.5 419.9,361.9 422.8,370.4 424,374.8 426.9,383.8 429.8,391.1 431.5,394.6 432.7,396.4 433.9,397.9 435.6,399.6 437.9,400.8 439.1,401.1 441.4,401.2 446,400.5 446,400.7Z"/><path d="M368.7,423.1L368.7,423 371.6,421.5 374,419.2 375.7,416.1 376.9,412.9 378,408.9 379.8,400.6 381.5,390.4 385.6,362.5 387.3,355 388.5,352.3 389,352 389.6,352.4 390.2,353.6 390.8,356.1 392.5,365.7 394.8,381.9 396.6,391 397.7,394.8 399.5,397.5 400.1,397.4 401.2,396.5 403.5,391.2 404.7,387.3 409.9,365.1 411.7,359.1 413.4,355 415.1,352.8 416.9,353.4 418.6,355.6 419.8,358.2 422.7,366.5 425.6,376.7 429.6,389 431.4,393 433.7,397 434.9,398.7 436.6,400.2 438.3,401.1 440.1,401.6 441.8,401.8 446.5,401.2 446.5,401.3Z"/><path d="M369.8,423.6L369.8,423.5 371.5,422.7 373.2,421.7 375,419.9 376.7,416.9 378.5,412.2 379.6,408 381.9,395.8 386,368.3 387.7,359 388.9,355.1 389.5,354 390.6,353.2 391.8,356.7 393,362.7 397,388.8 398.2,393.4 398.8,394.8 399.3,397 400.5,397.6 401.1,397.4 401.7,397.4 402.2,396.2 403.4,394.4 404,391.9 404.6,391.1 405.7,386.6 409.8,368.7 412.7,358 413.3,356.1 415,352.4 416.2,351.3 416.7,351.2 417.3,352 417.9,352 419.6,354.7 421.4,359.1 423.1,364.5 428.9,385.1 429.5,386.1 430.1,388.2 431.8,392.8 433.6,396.1 436.5,400.1 439.4,401.8 441.1,402.3 442.8,402.3 445.2,402.1 447.5,401.7 447.5,401.8Z"/><path d="M370.8,424.1L370.8,424 373.1,423 374.2,422.3 376.6,419.9 378.3,416.9 380.1,411.8 381.2,407.1 382.9,398.4 387.6,367.7 389.3,359.4 390.5,356.4 391.6,356.1 392.2,356.8 392.8,358.8 394.6,367.4 396.3,379.4 398,389.8 399.8,396.3 400.4,397.5 400.9,397.9 401.5,398.7 402.1,398.6 403.8,396 404.4,394.7 405,392.2 405.6,391 406.1,388.2 406.7,386.7 407.9,381.9 411.4,365.4 413.7,356.6 414.9,353.4 415.4,352.8 416,351.3 416.6,350.6 417.8,350.1 418.3,350.9 418.9,350.9 421.2,355 421.8,357.3 423.6,362.2 429.9,385.9 432.8,394.2 433.4,395 434,396.6 436.9,400.3 439.2,402.1 441.5,402.8 442.7,402.9 444.4,402.9 447.9,402.3 447.9,402.5Z"/><path d="M371.8,424.6L371.8,424.5 373.5,423.8 375.3,422.8 376.4,421.8 377.6,420.4 378.7,418.6 379.9,416.1 381.6,410.5 382.8,405.4 384.5,395.6 388,372.5 389.2,366.1 389.8,363.2 391.5,357.1 392.7,356.8 393.2,357.6 393.8,359.1 395,363.8 399,389.5 400.8,395.4 401.9,397.5 402.5,397.9 403.1,397.7 404.3,395.9 406,391.9 408.9,380.1 410.1,373.7 413.5,357.8 415.3,351.4 415.9,350 417.6,347.5 419.9,348.3 421.7,351.2 424.6,360.4 428,374.7 429.8,381 430.4,383.9 430.9,385.1 431.5,387.4 433.8,394.2 435.6,397.5 438.5,401.4 440.8,402.8 442.5,403.3 444.9,403.4 448.9,402.8 448.9,403Z"/><path d="M373.4,424.9L373.4,424.8 375.1,424 376.9,422.9 378,421.8 379.2,420.3 379.8,419.4 380.9,416.8 382.7,411.5 385,400.6 390.2,367.8 391.4,362.5 392.5,359.4 393.1,358.3 394.3,358.6 394.8,359.8 395.4,362.3 396.6,368 398.9,382.6 400.1,388.7 401.2,393.6 401.8,395.4 403,397.4 404.1,397.5 404.7,396.7 405.3,396.4 407.6,388.7 409.9,379.3 412.8,363.5 415.1,353.7 416.9,348.1 418.6,345.3 419.2,345.7 419.8,344.9 420.4,345.1 421.5,347.1 422.1,348.3 422.7,350.3 423.3,351.2 425.6,359.7 431.4,383.6 433.1,389.7 434.9,394.7 436,397.4 438.3,400.8 439.5,402 441.8,403.4 443,403.8 445.3,404 447,403.9 449.9,403.3 449.9,403.5Z"/><path d="M374.4,425.4L374.4,425.3 376.1,424.5 377.9,423.5 379.6,421.8 381.3,419 383.1,414.4 385.4,404.8 391.8,366.2 392.9,361.6 393.5,360.3 394.7,358.8 395.3,359.3 396.4,362.2 398.2,371.4 400.5,385.5 402.2,393.7 403.4,395.8 404,396.2 404.5,397.3 405.1,396.5 405.7,396.2 406.3,395.4 407.4,392.1 408.6,387.9 415,356.1 416.7,349.1 418.5,344.2 420.2,342.3 420.8,343.1 421.4,343.2 421.9,343.8 422.5,345 423.7,347.5 424.8,351.3 426.6,357.8 431.2,379.2 433,386.3 434.1,390.3 434.7,391.3 436.4,396.4 437,397.2 438.2,399.6 439.3,401.3 441.1,403 442.2,403.7 444,404.3 445.7,404.5 448,404.4 450.4,403.9 450.4,404.1Z"/><path d="M375.4,425.9L375.4,425.7 377.1,425 378.9,423.9 380.6,422.2 381.8,420.4 383.5,416.6 385.3,410.5 386.4,405.1 388.2,395.5 391.6,372.6 392.8,366.6 394,361.8 395.1,359.3 395.7,358.5 396.3,359.1 397.4,361.6 398.6,366.8 401.5,384.3 402.7,389.7 403.8,393.8 404.4,394.9 405,395.4 405.6,395.5 406.7,395 408.5,390.2 410.2,383.8 413.1,368.1 416.6,350.7 418.3,344 419.5,341.5 420.6,339.8 421.2,340 421.8,339.7 423,341.3 425.3,347.1 427,353.9 432.2,378.5 433.4,383.2 435.7,391.6 436.3,392.8 438,397.5 439.2,399.8 440.4,401.4 441.5,402.9 443.3,404.1 445,404.8 446.7,405 448.5,404.9 451.4,404.4 451.4,404.6Z"/><path d="M376.4,426.4L376.4,426.2 378.1,425.5 379.9,424.5 381,423.5 382.2,422.1 383.9,418.8 385.7,413.7 388,403.4 392.6,374.5 394.4,365.6 395.5,361.9 396.7,359.9 397.3,360.2 398.4,362.4 400.2,370.9 403.1,387 404.2,392.1 405.4,394.7 406.6,395.8 407.1,394.9 407.7,394.6 408.9,391.8 411.2,382.9 412.9,374.3 415.3,360.8 418.2,346.8 419.9,341.2 420.5,340.1 421.6,338.7 422.2,338.4 422.8,338.5 424.5,341.3 426.3,346.4 427.4,350.8 430.9,368.1 434.4,383.9 437.3,393.9 439,398.3 441.4,402.3 442.5,403.6 444.3,404.7 446,405.4 447.2,405.6 449.5,405.5 451.8,405.1 451.8,405.3Z"/><path d="M378,426.7L378,426.5 380.9,425.2 382.1,424.3 383.2,423 385,420.2 386.7,416 387.9,411.7 389.6,403.5 393.7,379.5 395.4,370.5 396.6,366.7 397.1,365.7 398.3,364.4 399.5,366.4 400.6,370.8 404.1,389.5 405.3,393.8 405.8,395.5 407,396.8 407.6,397.2 408.2,397 409.9,393.2 411.1,389.3 412.8,381.3 417.4,355.7 419.8,345.4 421.5,340.9 422.7,339.6 423.2,339.3 424.4,340.5 425.6,342.7 427.3,348.3 428.5,352.8 430.8,364.7 431.4,366.5 432.5,372.9 435.4,386.5 436.6,390.7 438.9,397.7 441.2,402 443,404.2 444.7,405.4 445.9,405.9 448.2,406.2 449.9,406.1 452.8,405.6 452.8,405.7Z"/><path d="M379,427.2L379,427.1 381.9,425.7 384.2,423.7 386,421.1 387.7,416.9 390,408.6 392.4,396.8 394.7,383.2 396.4,375 397.6,371.5 398.7,369.5 399.3,369.2 399.9,369.8 400.5,370.8 401.1,372.3 403.4,382.3 404.5,388.2 406.3,394.8 407.4,397 409.2,396.9 410.9,393.3 413.2,383.8 417.3,361.5 420.2,347.4 421.4,343.4 422.5,340.9 423.1,340 423.7,340.1 424.3,339.7 424.8,340.3 425.4,340.5 427.7,346.3 430.6,358.8 434.1,376.5 437,389.4 438.2,392.7 438.8,395.3 439.9,398 442.2,402.9 444.6,405.3 446.3,406.3 448,406.7 450.4,406.7 453.3,406.2 453.3,406.4Z"/><path d="M380.6,427.5L380.6,427.3 383.5,425.9 385.8,423.8 387,422 389.3,416.6 391.6,408 393.9,397.5 395.7,388.1 397.4,380.5 398.6,377.4 399.7,375.4 400.3,375.2 400.9,375.3 401.5,375.8 402.1,377.6 402.6,378.6 405.5,390.3 406.1,393.4 406.7,394.2 407.9,397.2 408.4,397.8 409.6,397.7 410.2,396.8 410.8,396.5 411.3,395.2 412.5,391.3 414.2,384 420.6,350.2 422.4,344.2 422.9,342.9 424.1,341.1 424.7,340.6 425.8,341.2 427,342.4 427.6,344.5 428.2,345.7 429.9,351.8 435.7,380.8 438,390.3 439.8,395.8 441.5,400.5 442.7,402.3 443.2,403.6 444.4,405 446.7,406.7 449.6,407.3 453.7,406.9 453.7,407Z"/><path d="M381.6,428L381.6,427.9 385.1,426.2 386.8,424.7 388,423.3 390.3,418.7 392.1,413.4 398.4,387.1 399.6,384 400.2,383.2 400.8,381.7 401.3,381.6 402.5,382.3 403.1,383.2 404.8,388.1 406,392.3 407.7,397.3 408.3,398.4 410,400.2 410.6,399.4 411.2,399.1 412.9,394.6 414.7,387.9 419.9,360.5 422.2,349.9 422.8,347.8 424,344.8 424.5,344 425.7,343 426.3,342.9 426.9,343.3 428,345.4 429.2,348.4 430.3,352.3 433.2,365.3 436.1,380.4 437.3,385.4 439.6,394 441.4,399.4 442.5,401.8 444.3,404.6 445.4,405.9 446.6,406.9 447.7,407.4 449.5,407.9 451.2,407.9 454.1,407.5 454.1,407.7Z"/><path d="M383.2,428.3L383.2,428.2 386.1,426.8 388.4,424.9 390.2,422.4 391.9,418.8 394.2,411.7 397.1,400.4 399.4,392.8 400.6,389.8 401.2,388.6 401.8,387.9 402.9,387.3 403.5,387.5 405.2,390.7 405.8,392.2 406.4,393 407.6,397 408.7,399.5 409.3,400.1 409.9,400.3 410.5,401 411,401.1 411.6,400.5 412.2,399.1 412.8,398.7 415.1,391.6 417.4,380.4 420.9,361.8 423.2,351.5 424.4,348 425.5,345.8 426.7,344.6 427.3,345 428.4,346.4 429.6,348.6 430.2,350.2 433.7,364.9 436.6,379.3 438.3,386.8 440,393.6 441.8,398.9 442.4,399.9 442.9,401.6 444.7,404.8 445.8,406.3 447.6,407.6 449.3,408.3 451.1,408.5 455.1,408 455.1,408.2Z"/><path d="M384.8,428.7L384.8,428.5 387.1,427.5 388.9,426.3 391.2,423.9 392.3,422.2 394.1,418.5 395.2,415.4 399.3,402.3 401,397.5 401.6,396.4 402.2,395.9 402.8,394.4 403.9,393.7 404.5,394.2 405.1,394.5 406.8,397.2 407.4,398.9 409.7,403.6 410.3,403.7 410.9,404.4 412.6,403.6 413.2,402.7 414.4,400.1 415.5,395.7 416.1,394.2 419,380.5 422.5,362.5 423.7,357.9 425.4,352 426,350.7 426.6,349.9 427.7,349.3 428.3,349.4 429.5,350.8 430,351.8 431.2,355 433.5,363.9 437.6,383.5 440.5,395.2 441.1,396.5 442.8,401.7 444.5,405 445.1,405.5 445.7,406.4 448,408.4 449.8,409 451.5,409.2 455.6,408.7 455.6,408.8Z"/><path d="M385.8,429.1L385.8,429 388.1,428 390.5,426.5 391.6,425.3 393.4,422.8 395.7,418.1 399.7,405.5 400.3,404.4 402.1,399.2 404.4,395.9 405,395.7 406.1,395.9 407.9,398.2 408.4,399.7 409.6,402 410.8,403.6 411.9,404.3 412.5,404.3 413.1,403.4 413.7,403.2 414.8,401.3 415.4,399.8 418.3,389.4 423.5,363.2 424.7,358.5 427,352.2 428.2,351.2 428.7,351 429.3,351.2 430.5,352 432.8,358.4 434.5,365.3 436.3,373.7 436.9,375.8 438,382 440.3,391.7 443.2,401 443.8,401.9 444.4,403.5 446.1,406.4 448.5,408.6 449.6,409.3 451.9,409.7 453.7,409.7 456,409.3 456,409.5Z"/><path d="M386.8,429.6L386.8,429.5 389.1,428.5 391.5,427.1 393.2,425.3 394.4,423.5 396.7,419 397.3,417 397.8,415.9 400.7,406.6 402.5,402 403.6,399.7 405.4,397.3 406,396.8 407.1,397.2 407.7,398.2 408.3,398 410.6,402.7 411.2,403.6 412.3,404.7 414.1,405.1 414.7,403.8 415.2,403.3 416.4,400.6 418.1,395 420.5,385.1 423.4,370.6 426.3,359.2 427.4,355.9 428.6,354.2 429.7,353.5 430.3,353.6 430.9,354.2 432.1,356.2 432.6,358.3 433.8,361.4 435.5,368.2 440.8,391.5 443.1,399.3 444.2,402.4 446.6,406.8 447.7,408.1 449.5,409.5 451.2,410.2 452.4,410.3 454.1,410.3 456.4,409.9 456.4,410.1Z"/><path d="M388.4,430L388.4,429.8 390.7,428.8 392.5,427.7 394.2,426.1 396,423.6 397.1,421.5 399.4,416.1 401.2,410.5 401.8,409.4 402.3,407.3 403.5,404.8 404.1,403.1 404.7,401.8 406.4,399.1 407,398.8 408.1,399.4 408.7,399.2 410.5,402.3 411.6,403.5 412.8,405.6 413.9,406.3 414.5,406.1 415.1,405.5 415.7,405.7 416.8,403.4 418.6,398.7 420.3,391.8 423.8,375.5 426.1,366 427.3,362.1 428.4,358.8 429.6,357.3 430.2,356.9 430.8,356.9 431.9,357.5 432.5,358.3 434.2,362.5 437.1,373.7 441.2,391.8 443.5,399.7 445.3,404.2 445.8,405 446.4,406.4 448.2,408.6 450.5,410.3 451.6,410.7 453.4,411 457.4,410.5 457.4,410.6Z"/><path d="M389.4,430.4L389.4,430.3 391.7,429.4 394.1,427.9 395.2,426.9 397.5,423.8 399.9,419.3 401.6,415.1 403.3,410 406.8,403 407.4,402.9 408.6,402 409.7,402.3 410.9,403.9 411.5,404.3 412.6,406.2 413.2,406.5 414.4,407.9 416.7,406.8 417.8,404.7 419,401.8 420.2,397.8 427.7,365.3 430,360 430.6,359.9 431.8,358.8 432.3,359 432.9,360.3 433.5,361 434.7,363.3 436.4,369.4 441.6,392.1 443.4,398.3 445.1,403 445.7,403.9 446.3,405.4 448,408.4 450.3,410.6 451.5,411.1 453.2,411.6 455,411.6 457.9,411.1 457.9,411.3Z"/><path d="M391,430.8L391,430.6 393.3,429.6 395.1,428.5 396.8,426.9 398.6,424.7 401.5,419.2 403.2,415.2 404.9,410.2 405.5,409.5 406.1,407.8 406.7,407.4 407.3,406.1 408.4,405.1 409,404.2 409.6,404.3 410.2,403.9 410.7,404 413.1,406.2 413.6,406.3 414.8,407.7 416,407.8 416.5,407.6 418.3,405.5 420.6,399.4 422.3,392.9 425.8,377.2 426.4,373.9 427,371.5 427.6,370.2 428.1,367.3 430.5,361.1 432.2,359.2 433.4,360.1 433.9,360.3 434.5,361 435.7,364.1 438,371.9 438.6,375.2 440.9,384.4 442.1,390.4 445.5,401.7 447.3,406 449.6,409.6 450.8,410.7 451.9,411.4 453.1,411.9 454.8,412.1 458.3,411.7 458.3,411.9Z"/><path d="M392.6,431.1L392.6,430.9 394.9,429.9 396.7,428.8 398.4,427.3 399.6,425.9 401.9,422.5 407.1,411.5 407.7,410.9 408.9,409.1 410,408.5 411.2,407.3 412.3,408.2 412.9,407.9 414.1,408.9 414.7,408.7 415.8,409.8 416.4,409.4 417,409.5 417.6,408.4 418.1,408.3 418.7,407.6 420.5,403.8 421.6,399.5 422.2,398.3 426.8,377.5 429.2,368.4 431.5,361.9 432.6,360.9 433.8,360.5 434.4,360.7 435,361.3 437.3,366.9 439,373.5 443.7,393.8 446.6,403 448.3,407.4 450,410 452.4,411.9 454.1,412.5 455.3,412.7 457,412.6 459.3,412.3 459.3,412.4Z"/><path d="M394.2,431.4L394.2,431.3 396.5,430.3 398.8,428.8 400,427.9 401.7,426 403.5,423.8 408.1,415.7 409.3,414.1 409.9,413.9 411,412.6 412.2,411.9 412.8,411.8 414.5,412.3 415.7,412.3 416.2,412.6 416.8,412.3 417.4,412.3 418,412 419.7,409.6 420.3,408.6 422.6,401.7 426.1,387.5 428.4,376.6 430.7,368.2 431.3,366.5 431.9,365.8 433.1,362.9 434.2,362.2 434.8,362.6 435.4,362.7 436.5,364.6 437.7,367.3 438.3,369.8 439.4,373.4 442.9,388.8 445.2,398 447,403.7 448.1,406.5 449.3,408.7 450.5,410.5 452.8,412.5 455.1,413.3 457.4,413.3 459.7,412.9 459.7,413.1Z"/><path d="M395.8,431.7L395.8,431.6 399.3,430 401.6,428.3 402.8,427.2 405.1,424.5 408,420.2 409.7,418.1 410.9,416.4 412,416.1 412.6,415.7 413.2,414.8 414.9,414.7 415.5,414.4 416.1,414.7 416.7,414.4 417.3,414.4 419,413 420.2,411.6 422.5,406.1 424.8,398.3 430.6,373 432.9,366.3 434.1,364.3 434.7,364.4 435.2,363.7 435.8,364.4 436.4,363.8 438.7,369.3 442.2,382.6 442.8,386 445.1,395.3 446.8,401.6 447.4,402.8 448.6,406.4 450.9,410.6 452.6,412.5 454.4,413.5 455.5,413.8 457.9,413.9 460.2,413.5 460.2,413.7Z"/><path d="M397.4,432.1L397.4,431.9 400.9,430.4 403.8,428.5 405.5,426.9 407.8,424.1 409.6,422.5 410.1,421.5 411.3,420.5 413,419.1 413.6,419.1 414.2,418.4 414.8,418.1 415.4,418.1 415.9,417.6 416.5,417.7 418.3,416.9 418.8,416.8 421.2,414.2 422.3,411.5 424.6,405.2 431.6,376.4 432.8,372.8 434.5,368.6 435.1,367.8 435.7,367.4 436.2,367.5 436.8,367.3 438.6,370.1 439.7,372.9 441.5,379.2 444.9,394.1 446.7,400.6 447.8,404.3 449.6,408.8 452.5,412.8 453.1,413.3 454.8,414.2 455.4,414.4 457.7,414.6 461.2,414.1 461.2,414.2Z"/><path d="M398.4,432.6L398.4,432.4 401.3,431.3 404.8,429.1 406.5,427.6 412.9,421 415.2,419.3 415.8,419.3 417,418.5 417.5,418.7 418.7,417.8 419.3,417.8 420.4,417 421,415.9 422.2,414.5 423.3,412.2 425.1,407.8 431.5,382.4 433.2,376.3 434.4,373 435.5,370.8 436.7,369.6 437.3,369.8 437.8,369.5 439,371.2 440.2,373.7 442.5,381.3 444.2,389.1 448.3,404.3 449.4,407.4 450,408.3 450.6,409.7 452.3,412.3 454.7,414.5 457,415.1 458.7,415.1 461.6,414.7 461.6,414.9Z"/><path d="M400,432.9L400,432.7 402.9,431.5 405.8,429.8 409.3,426.7 412.8,423.1 413.3,422.3 413.9,422.1 415.1,421.1 416.2,420.4 416.8,419.8 418.6,419.4 419.1,418.9 420.3,418.4 421.5,417.1 422.6,416.2 424.9,411.5 426.1,408.1 428.4,400 431.9,385.8 433.6,379.8 436,373.8 436.5,373 437.1,373 437.7,372.2 438.3,371.8 439.4,372.7 440.6,374.5 441.8,377.6 442.3,380.2 442.9,381.3 446.4,395.6 448.1,401.8 448.7,403.3 449.3,405.6 451,409.8 452.8,412.5 453.9,413.9 456.3,415.4 458.6,415.8 462.1,415.3 462.1,415.5Z"/><path d="M401.6,433.2L401.6,433 405.1,431.6 408,429.8 410.9,427.4 415.5,423.1 419,420.8 420.1,420.4 420.7,419.8 421.3,419.6 423,417.3 424.2,415.1 424.8,414.4 425.4,413.1 425.9,410.9 426.5,409.9 429.4,400.4 432.3,388.8 435.2,379 435.8,378.2 437.5,374.5 438.1,374.1 439.3,373.8 439.9,373.7 440.4,374.6 441,375 442.2,377.8 444.5,385.2 448.6,400.6 449.7,403.9 450.3,406.5 450.9,407.4 452,410.2 453.2,412.4 454.9,414.5 455.5,415.1 456.7,415.8 458.4,416.2 459.6,416.3 462.5,416 462.5,416.2Z"/><path d="M404.3,433.2L404.3,433 407.2,431.9 410.1,430.5 414.8,427.7 419.4,424.5 420.6,423.9 421.7,422.8 424.6,419.1 427,414.2 428.7,409.1 430.4,403.3 433.9,390.1 436.2,383.2 438.6,378.3 439.1,378.3 440.3,377.6 440.9,377.7 442,379.3 443.8,383.5 449.6,403.7 451.9,410.1 453.1,412.4 455.4,415.3 456.5,416.2 457.7,416.6 460,417 463.5,416.5 463.5,416.6Z"/><path d="M408.8,432.7L408.8,432.5 413.5,430.7 416.4,429.4 418.7,428 421.6,425.9 424.5,421.9 425.6,419.8 426.2,418.1 426.8,417.1 428,414.4 432,401.5 434.3,392.8 437.2,384.1 440.1,379.4 441.3,379.7 441.9,379.5 443,381.1 444.2,383.5 446.5,390.6 447.7,394.8 448.3,396 449.4,401.3 450,403 450.6,404.2 451.7,407.9 454.1,413.1 455.8,415.5 457,416.5 458.1,417.1 460.4,417.5 463.9,417.1 463.9,417.3Z"/><path d="M415.1,431.8L415.1,431.6 419.1,429.8 421.4,428.3 423.8,426 426.7,421.5 430.7,411.2 432.5,405.8 434.2,399.2 437.1,390.4 439.4,385 441.2,383 441.7,382.6 442.3,382.9 442.9,383.5 443.5,383.6 444.1,384.3 445.2,386.5 451,405.6 453.3,411.5 454.5,413.8 455.7,415.4 457.4,417.1 459.1,417.9 461.5,418.2 464.4,417.8 464.4,417.9Z"/><path d="M416.1,432.2L416.1,432.1 419.6,430.7 422.5,428.9 424.8,426.7 427.1,423.4 428.8,420.1 429.4,418.4 430.6,416.1 433.5,407.6 436.4,397.9 439.3,389.9 439.9,388.9 441.6,386.6 442.8,385.8 443.3,386.1 443.9,386.1 444.5,387.1 445.1,387.6 445.7,388.4 448,394.6 450.9,404.8 452,407.6 452.6,409.7 454.9,414.5 456.7,416.8 459,418.3 460.2,418.7 461.3,418.8 464.8,418.4 464.8,418.6Z"/><path d="M417.1,432.7L417.1,432.6 420.6,431.1 422.9,429.7 424.6,428.2 427.5,424.6 429.3,421.4 432.2,413.9 436.2,401.7 437.4,397.6 438.5,394.3 439.1,393.4 439.7,391 441.4,388.2 442.6,386.7 443.2,386.5 443.8,385.8 444.9,386.5 447.2,390.3 453,408.3 455.4,413.7 456.5,415.7 457.7,417.3 460,418.9 462.3,419.3 465.2,419.1 465.2,419.2Z"/><path d="M418.1,433.2L418.1,433.1 421.6,431.6 424.5,429.9 426.8,427.7 428.5,425.4 430.9,421.3 432.6,417.1 434.9,410.7 436.1,406.8 437.2,403.9 437.8,401.5 439,398.3 439.6,397.2 440.1,395.1 440.7,393.7 441.3,393.3 442.5,390 443,389.4 444.2,388.9 444.8,388.8 445.4,388.4 445.9,389 447.7,391.8 448.3,393.4 448.8,394.4 451.7,404.1 453.5,409.2 455.2,413.4 457,416.4 458.1,417.9 459.3,418.9 461,419.8 463.3,420 466.2,419.6 466.2,419.7Z"/><path d="M419.1,433.7L419.1,433.5 422.6,432.1 424.9,430.8 426.6,429.4 428.4,427.5 430.1,424.9 431.9,421.6 432.4,420.1 433.6,417.8 434.8,414.8 441.1,395.2 442.3,393.3 442.9,391.9 444.6,389.9 445.2,389.9 445.8,388.6 446.4,389.5 447.5,390.5 448.7,393.5 449.3,394.2 454.5,410.6 456.8,415.6 458,417.5 459.7,419.3 462,420.4 463.8,420.6 466.7,420.2 466.7,420.4Z"/><path d="M420.1,434.2L420.1,434 423,432.9 425.9,431.3 428.2,429.3 430.6,426.3 432.3,423.3 435.2,416.9 441,399.5 442.7,395.4 443.3,394.8 444.5,392.4 445.1,391.7 446.2,390.8 446.8,390.7 448,391.3 449.7,394.3 450.9,396.9 451.4,399.7 452,400.5 454.9,410.1 457.2,415.7 459,418.5 460.7,420.1 462.5,420.9 464.8,421.1 467.7,420.7 467.7,420.9Z"/><path d="M421.1,434.7L421.1,434.5 424,433.4 426.9,431.7 429.8,429.3 432.2,426.2 433.9,422.9 436.2,417.5 439.1,409.6 441.4,402.4 443.2,398.1 444.3,395.7 444.9,395.2 446.1,392.7 446.7,393.2 447.2,392.6 448.4,392.5 449.6,394 450.1,395.1 451.9,399 454.8,408.6 455.9,411.4 456.5,413.4 457.1,414.8 460,419.5 461.7,420.9 463.5,421.6 465.8,421.7 468.1,421.4 468.1,421.5Z"/><path d="M422.1,435.2L422.1,435 425.6,433.6 428.5,431.9 430.8,429.8 432.6,427.7 435.5,422.5 436.1,420.8 436.6,420.1 437.8,417.4 441.9,405.6 442.4,404.8 443.6,401.2 444.8,399.2 445.3,397.7 445.9,397 447.1,395 447.7,395.2 448.8,394.6 449.4,395.2 450,395.4 451.1,397.3 451.7,399.1 452.3,399.6 454,404.6 455.8,410.4 458.1,416.4 460.4,419.9 461.6,421.1 463.9,422.2 466.2,422.4 468.5,422 468.5,422.2Z"/><path d="M423.2,435.7L423.2,435.5 427.2,433.8 429.5,432.4 431.9,430.3 433.6,428.2 437.1,422.4 437.7,420.6 438.8,418.3 440.6,413 442.9,406.9 444.6,403 445.8,401 446.4,399.4 447.5,397.7 448.7,397.7 449.3,396.7 449.8,397.4 450.4,397.2 451.6,398.6 452.7,400.9 455.1,406.8 455.6,408.9 456.2,409.7 458,414.6 459.1,417.4 460.9,420.3 462.6,421.9 464.3,422.7 466.7,423 469,422.7 469,422.8Z"/><path d="M424.2,436.1L424.2,436 428.2,434.4 431.1,432.6 433.4,430.5 436.3,426.7 439.2,421.2 441.6,415.3 442.1,414.7 443.3,410.7 445,407 447.4,402.9 448.5,401.5 449.1,400.4 450.3,400 450.8,399.8 452,400.8 453.2,402.7 453.7,403.8 454.3,405.6 454.9,406.6 456.1,410 459,417.1 459.5,418.3 461.3,420.9 463,422.5 464.8,423.3 467.1,423.6 469.4,423.3 469.4,423.5Z"/><path d="M425.8,436.5L425.8,436.3 429.2,434.8 431.6,433.5 433.9,431.5 436.2,428.7 437.9,425.9 439.1,423.8 439.7,422.2 440.3,421.4 441.4,418.8 442,416.9 442.6,416.3 443.7,413.1 447.2,405.3 448.4,403.8 450.1,402 450.7,401.9 451.3,401.1 451.9,401.5 452.4,401.4 453,402.4 453.6,402.8 454.2,404.4 454.8,404.8 455.3,406.8 457.7,412 459.4,416.7 461.7,420.9 462.9,422.2 464,423.2 465.2,423.8 467.5,424.2 470.4,423.8 470.4,424Z"/><path d="M426.8,437L426.8,436.8 430.3,435.4 433.2,433.7 434.9,432.4 437.8,429 439.5,426.4 440.7,424.3 445.9,413.8 446.5,411.9 447.1,411.2 447.7,409.9 448.2,409.4 449.4,406.8 450,406.1 451.1,405.5 452.3,404.6 452.9,405.4 453.5,405.4 454,406.1 454.6,407.4 455.2,407.6 455.8,408.5 456.9,411.5 457.5,412.2 458.1,414 459.3,416.6 461.6,420.8 462.7,422.5 465.1,424.3 466.8,424.8 468.5,424.8 470.9,424.5 470.9,424.6Z"/><path d="M427.8,437.4L427.8,437.3 430.7,436.2 433.6,434.6 435.3,433.3 438.2,430.3 440,427.8 441.1,425.7 441.7,425 442.9,422.3 445.8,416.9 446.3,415.3 446.9,414.7 447.5,413.2 450.4,408.5 451,408.3 452.1,407.6 452.7,406.9 453.3,406.8 454.5,407.1 456.2,409.1 456.8,410.6 457.9,412.6 461.4,420.1 462.6,422 463.7,423.4 465.5,424.7 467.2,425.3 469,425.4 471.3,425.1 471.3,425.3Z"/><path d="M428.8,437.9L428.8,437.8 431.7,436.7 434,435.5 436.3,434 439.2,431.1 441.6,428 442.7,425.9 443.9,424.3 447.4,417.6 447.9,416 448.5,415.6 449.1,414.2 449.7,413.3 451.4,411.1 452,410.8 452.6,409.9 453.2,410.2 453.7,409.2 454.3,409.5 456.1,409.9 456.6,411 457.2,411.3 459,415.3 459.5,416.1 461.3,419.8 464.2,424 465.9,425.3 467.7,426 470,426 471.7,425.8 471.7,425.9Z"/><path d="M430.4,438.3L430.4,438.1 432.7,437.2 435.6,435.8 437.3,434.7 439.7,432.6 442,430 444.9,425.7 446,423.6 447.2,422 448.4,419.6 449.5,417.9 450.1,417.4 451.3,414.8 451.8,414.7 453,413.1 453.6,412.6 454.2,412.6 455.3,412.1 455.9,412.1 458.2,414.2 459.4,416.9 461.7,420.4 462.9,422.6 465.2,425.1 466.3,426 468.1,426.6 469.8,426.7 472.1,426.4 472.1,426.6Z"/><path d="M431.4,438.7L431.4,438.6 434.3,437.4 437.2,435.9 438.9,434.6 441.3,432.5 443,430.5 444.7,428 447.6,423.1 448.2,421.8 448.8,420.8 449.4,420.3 451.7,416.5 454,413.7 455.2,412.9 455.8,413.1 456.9,412.7 457.5,413.4 458.1,413.7 459.8,415.9 461.6,419.4 462.1,420.1 463.9,423.4 464.5,424.2 466.2,426 467.4,426.6 469.1,427.2 470.8,427.3 473.2,426.9 473.2,427Z"/><path d="M432.4,439.2L432.4,439.1 436.5,437.4 438.8,436.1 441.1,434.3 442.9,432.5 444.6,430.6 446.3,428.2 447.5,426 448.6,424.6 449.2,423.4 449.8,422.9 450.4,421.6 451,421.1 452.1,418.7 453.3,417.8 454.4,416.2 455,416.4 455.6,415 456.2,415.4 456.8,414.8 457.4,414.7 457.9,415.2 459.1,415.7 459.7,416.7 460.2,417.3 463.1,422.2 465.5,425.5 466.1,426.1 467.8,427.2 468.9,427.7 471.3,427.9 473.6,427.6 473.6,427.7Z"/><path d="M433.4,439.7L433.4,439.6 438.1,437.6 440.4,436.2 442.1,434.8 445.6,431 448.5,426.4 450.2,424.1 451.4,421.8 453.7,418.6 455.5,416.5 456.6,415.6 457.2,415.5 457.8,415 458.4,414.8 458.9,415.5 459.5,415.8 461.3,417.7 462.4,420.3 463,420.6 464.2,423 466.5,426 467.6,427.1 469.4,428.1 470.5,428.4 472.3,428.4 474,428.2 474,428.4Z"/><path d="M434.4,440.2L434.4,440.1 439.7,437.8 442,436.3 443.7,434.9 445.5,433.1 448.9,428.8 450.7,425.9 451.8,424.3 452.4,423.8 453,422.5 453.6,421.8 454.2,421.6 454.7,420.5 455.3,419.9 456.5,417.9 457.1,418.2 457.6,417.3 458.2,417.2 460.5,417.7 461.7,418.9 465.8,425.2 468.7,428.2 470.4,428.9 471.6,429.1 472.7,429.1 475,428.7 475,428.8Z"/><path d="M435.4,440.7L435.4,440.5 440.1,438.6 442.4,437.2 444.7,435.2 445.9,434.1 448.8,430.5 452.8,424.6 454,422.6 454.6,422 455.2,420.9 455.7,420.7 456.9,419.4 458.1,418.6 458.6,417.9 459.8,417.5 460.4,417.5 461,417.9 461.5,417.8 462.1,418.7 462.7,419 463.3,419.7 464.4,422.2 465,422.4 465.6,424 467.3,426.7 469.1,428.3 470.2,429 472,429.6 473.7,429.6 475.5,429.4 475.5,429.5Z"/><path d="M436.5,441.2L436.5,441 439.4,440 442.3,438.6 444,437.5 446.3,435.7 449.2,432.7 452.1,429.2 453.9,426.6 455,425.2 455.6,424.9 456.2,423.9 457.3,422.5 457.9,422.1 458.5,422.3 459.1,421 459.7,420.7 460.8,420.7 463.1,421.5 466,425.6 466.6,426.1 467.2,427 469.5,429.2 470.7,429.8 472.4,430.3 474.2,430.3 475.9,430 475.9,430.1Z"/><path d="M438,441.5L438,441.4 443.3,439.2 447.3,436.4 449.1,434.9 452,431.5 453.1,430.5 454.3,428.6 454.9,428.3 456,426.8 456.6,426.5 457.2,425.6 459.5,423.5 460.1,423.4 460.7,422.8 461.8,422.8 462.4,422.5 463,422.7 463.6,423.5 465.3,424.7 468.2,428.4 469.4,429.4 471.1,430.4 472.3,430.8 473.4,430.9 476.3,430.7 476.3,430.8Z"/><path d="M439.1,442L439.1,441.9 443.7,440 448.3,437.1 452.4,433.3 455.3,430 455.9,429.6 456.5,428.5 457,428.3 458.8,426.4 459.4,425.9 459.9,425.8 460.5,425.1 461.7,424.7 462.3,424.3 463.4,424.1 464,424.8 464.6,424.7 466.3,426 469.2,429.4 471.5,431 473.9,431.6 476.8,431.3 476.8,431.4Z"/><path d="M440.7,442.3L440.7,442.2 444.7,440.6 448.8,438.4 451.1,436.7 454,434.2 456.3,431.7 456.9,431.4 458.6,429.6 462.1,427.3 462.7,427.3 463.9,426.8 464.4,426.9 465,426.8 466.8,427.8 469.7,430.4 471.4,431.5 473.7,432.2 475.5,432.2 477.2,432 477.2,432.1Z"/><path d="M442.2,442.7L442.2,442.5 446.9,440.6 450.4,438.7 455,435.2 456.7,433.4 457.3,433.1 460.2,430.5 463.7,428.6 464.9,428.5 465.4,428.7 466,428.5 467.2,429 470.1,431.2 471.2,431.9 473,432.6 475.3,432.9 477.6,432.6 477.6,432.7Z"/><path d="M443.8,443L443.8,442.8 447.3,441.5 450.2,440.1 455.4,436.6 457.2,435.1 459.5,433.5 461.2,432 463,431 465.9,429.9 466.5,430.1 467,429.9 467.6,430.5 468.8,430.9 471.7,432.6 473.4,433.3 475.7,433.5 478.1,433.2 478.1,433.4Z"/><path d="M445.4,443.3L445.4,443.1 448.9,441.8 453,439.9 459.3,435.7 459.9,435.5 460.5,434.9 462.8,433.5 465.7,432.2 468,431.9 468.6,432.3 469.2,432.2 469.8,432.4 470.4,432.9 472.1,433.6 475,434.2 476.7,434.2 478.5,433.9 478.5,434Z"/><path d="M446.4,443.8L446.4,443.6 450.5,442 454,440.3 464.4,433.5 467.3,432.4 468.5,432.4 470.2,432.8 472.5,433.9 474.9,434.7 476.6,434.8 478.9,434.5 478.9,434.7Z"/><path d="M447.5,444.3L447.5,444.1 451.5,442.6 454.4,441.2 457.9,439.2 464.3,435 466,434.2 467.8,433.7 468.9,433.2 471.2,433.7 474.1,435 475.9,435.3 477.6,435.4 479.9,435.1 479.9,435.2Z"/><path d="M449,444.6L449,444.5 456,441.7 464.7,437 468.8,435.4 471.1,435.1 476.3,436.1 479.8,435.8 479.8,436Z"/><path d="M451.8,444.6L451.8,444.4 457.6,442.3 466.3,438.4 470.4,436.9 472.7,436.8 476.7,437 479.6,436.6 479.6,436.8Z"/><path d="M455.7,444.3L455.7,444.1 469.6,439.2 472.5,438.5 478.9,437.6 478.9,437.8Z"/><path d="M466.6,442L466.6,441.8 474.7,439.5 474.7,439.7Z"/></g>
<path d="M324,421 L324,330" stroke="#444" stroke-width="0.9"/>
<path d="M324,421 L321,419.6" stroke="#444" stroke-width="0.9"/>
<path d="M324,375.5 L321,374.1" stroke="#444" stroke-width="0.9"/>
<path d="M324,330 L321,328.6" stroke="#444" stroke-width="0.9"/>
<text x="315.3" y="418.9" text-anchor="end" style="font-family:'Liberation Sans',sans-serif;font-size:12.6px" fill="#222" textLength="7.6" lengthAdjust="spacingAndGlyphs">0</text>
<text x="319.3" y="378.3" text-anchor="end" style="font-family:'Liberation Sans',sans-serif;font-size:12.6px" fill="#222" textLength="24.2" lengthAdjust="spacingAndGlyphs">800</text>
<text x="319.3" y="334.6" text-anchor="end" style="font-family:'Liberation Sans',sans-serif;font-size:12.6px" fill="#222" textLength="31.6" lengthAdjust="spacingAndGlyphs">1600</text>
<text transform="translate(281.6,386.5) rotate(-90)" text-anchor="middle" style="font-family:'Liberation Sans',sans-serif;font-size:13px" fill="#222" textLength="100" lengthAdjust="spacingAndGlyphs">Intensity (Counts)</text>
<path d="M324,421 L409,462" stroke="#f0f0f0" stroke-width="1.1"/>
<text transform="translate(310.7,433.5) rotate(16)" text-anchor="middle" dominant-baseline="central" style="font-family:'Liberation Sans',sans-serif;font-size:13px" fill="#222">−1.4</text>
<text transform="translate(351.6,452.3) rotate(16)" text-anchor="middle" dominant-baseline="central" style="font-family:'Liberation Sans',sans-serif;font-size:13px" fill="#222">−1.0</text>
<text transform="translate(393.1,471.2) rotate(16)" text-anchor="middle" dominant-baseline="central" style="font-family:'Liberation Sans',sans-serif;font-size:13px" fill="#222">−0.8</text>
<text transform="translate(350.2,473.4) rotate(25.8)" text-anchor="middle" dominant-baseline="central" style="font-family:'Liberation Sans',sans-serif;font-size:13.5px" fill="#222">Potential (V)</text>
<path d="M409,462.6 L525,430.1" stroke="#2a2a2a" stroke-width="0.9"/>
<path d="M409.3,461 L525,428.5" stroke="#f2f2f2" stroke-width="1.2"/>
<text transform="translate(424.2,472.7) rotate(-15.7)" text-anchor="middle" dominant-baseline="central" style="font-family:'Liberation Sans',sans-serif;font-size:13px" fill="#222">400</text>
<text transform="translate(479.7,459) rotate(-15.7)" text-anchor="middle" dominant-baseline="central" style="font-family:'Liberation Sans',sans-serif;font-size:13px" fill="#222">600</text>
<text transform="translate(534,442.2) rotate(-15.7)" text-anchor="middle" dominant-baseline="central" style="font-family:'Liberation Sans',sans-serif;font-size:13px" fill="#222">800</text>
<text transform="translate(484.5,477.8) rotate(-15.7)" text-anchor="middle" dominant-baseline="central" style="font-family:'Liberation Sans',sans-serif;font-size:13.5px" fill="#222">Wavelength (nm)</text>
</svg></body></html>
